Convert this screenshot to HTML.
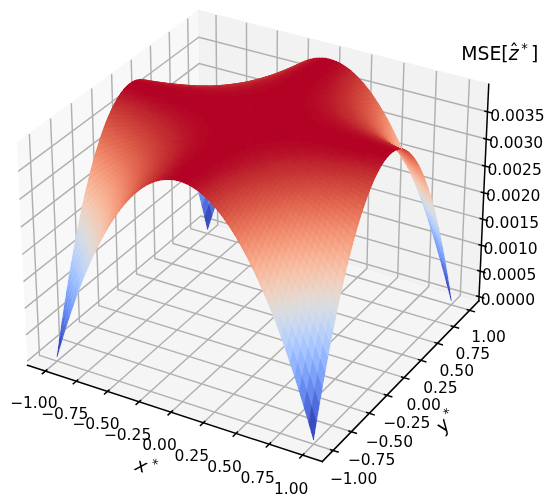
<!DOCTYPE html>
<html><head><meta charset="utf-8"><title>MSE surface</title>
<style>
html,body{margin:0;padding:0;background:#fff}
svg{display:block}
svg *{stroke-linejoin:round;stroke-linecap:butt}
svg text{font-family:"DejaVu Sans","Liberation Sans",sans-serif}
.aa{fill:currentColor;stroke:currentColor;stroke-width:6}
.cr{fill:currentColor;stroke:none;shape-rendering:crispEdges}
</style></head><body>
<svg width="550" height="501" viewBox="0 0 350.442478 319.221239">
<g id="figure_1">
<g id="patch_1">
<path d="M0 319.22L350.44 319.22L350.44 0L0 0z" style="fill: #ffffff"/>
</g>
<g id="patch_2">
<path d="M-7.71 315.21L326.61 315.21L326.61 -19.12L-7.71 -19.12z" style="fill: #ffffff"/>
</g>
<g id="pane3d_1">
<g id="patch_3">
<path d="M17.53 232.77L127.94 140.23L126.4 6.77L10.72 91.19" style="fill: #f2f2f2; opacity: 0.5; stroke: #f2f2f2; stroke-linejoin: miter"/>
</g>
</g>
<g id="pane3d_2">
<g id="patch_4">
<path d="M127.94 140.23L305.1 191.72L311.42 53.66L126.4 6.77" style="fill: #e6e6e6; opacity: 0.5; stroke: #e6e6e6; stroke-linejoin: miter"/>
</g>
</g>
<g id="pane3d_3">
<g id="patch_5">
<path d="M17.53 232.77L205.33 294.11L305.1 191.72L127.94 140.23" style="fill: #ececec; opacity: 0.5; stroke: #ececec; stroke-linejoin: miter"/>
</g>
</g>
<g id="grid3d_1">
<g id="Line3DCollection_1">
<path d="M28.91 236.49L138.71 143.36L137.63 9.61" style="fill: none; stroke: #b0b0b0; stroke-width: 0.92"/>
<path d="M48.58 242.91L157.33 148.78L157.05 14.54" style="fill: none; stroke: #b0b0b0; stroke-width: 0.92"/>
<path d="M68.48 249.41L176.15 154.24L176.68 19.51" style="fill: none; stroke: #b0b0b0; stroke-width: 0.92"/>
<path d="M88.6 255.98L195.16 159.77L196.52 24.54" style="fill: none; stroke: #b0b0b0; stroke-width: 0.92"/>
<path d="M108.96 262.63L214.38 165.36L216.58 29.62" style="fill: none; stroke: #b0b0b0; stroke-width: 0.92"/>
<path d="M129.55 269.36L233.8 171L236.86 34.77" style="fill: none; stroke: #b0b0b0; stroke-width: 0.92"/>
<path d="M150.38 276.16L253.42 176.7L257.37 39.96" style="fill: none; stroke: #b0b0b0; stroke-width: 0.92"/>
<path d="M171.45 283.04L273.25 182.47L278.11 45.22" style="fill: none; stroke: #b0b0b0; stroke-width: 0.92"/>
<path d="M192.78 290.01L293.3 188.3L299.08 50.54" style="fill: none; stroke: #b0b0b0; stroke-width: 0.92"/>
</g>
</g>
<g id="grid3d_2">
<g id="Line3DCollection_2">
<path d="M18.72 85.35L25.14 226.4L212.23 287.02" style="fill: none; stroke: #b0b0b0; stroke-width: 0.92"/>
<path d="M32.21 75.5L37.99 215.63L223.88 275.07" style="fill: none; stroke: #b0b0b0; stroke-width: 0.92"/>
<path d="M45.44 65.85L50.59 205.07L235.29 263.36" style="fill: none; stroke: #b0b0b0; stroke-width: 0.92"/>
<path d="M58.41 56.38L62.95 194.7L246.48 251.88" style="fill: none; stroke: #b0b0b0; stroke-width: 0.92"/>
<path d="M71.13 47.1L75.09 184.53L257.45 240.62" style="fill: none; stroke: #b0b0b0; stroke-width: 0.92"/>
<path d="M83.61 38L87 174.55L268.21 229.58" style="fill: none; stroke: #b0b0b0; stroke-width: 0.92"/>
<path d="M95.84 29.07L98.69 164.74L278.76 218.76" style="fill: none; stroke: #b0b0b0; stroke-width: 0.92"/>
<path d="M107.85 20.31L110.18 155.12L289.11 208.14" style="fill: none; stroke: #b0b0b0; stroke-width: 0.92"/>
<path d="M119.63 11.71L121.45 145.67L299.26 197.71" style="fill: none; stroke: #b0b0b0; stroke-width: 0.92"/>
</g>
</g>
<g id="grid3d_3">
<g id="Line3DCollection_3">
<path d="M305.22 189.08L127.91 137.67L17.4 230.07" style="fill: none; stroke: #b0b0b0; stroke-width: 0.92"/>
<path d="M305.96 172.78L127.73 121.88L16.6 213.37" style="fill: none; stroke: #b0b0b0; stroke-width: 0.92"/>
<path d="M306.72 156.3L127.54 105.93L15.79 196.49" style="fill: none; stroke: #b0b0b0; stroke-width: 0.92"/>
<path d="M307.48 139.65L127.36 89.82L14.96 179.43" style="fill: none; stroke: #b0b0b0; stroke-width: 0.92"/>
<path d="M308.25 122.82L127.17 73.55L14.13 162.17" style="fill: none; stroke: #b0b0b0; stroke-width: 0.92"/>
<path d="M309.03 105.81L126.98 57.11L13.29 144.72" style="fill: none; stroke: #b0b0b0; stroke-width: 0.92"/>
<path d="M309.82 88.61L126.79 40.5L12.44 127.07" style="fill: none; stroke: #b0b0b0; stroke-width: 0.92"/>
<path d="M310.62 71.23L126.6 23.71L11.58 109.23" style="fill: none; stroke: #b0b0b0; stroke-width: 0.92"/>
</g>
</g>
<g id="axis3d_1">
<g id="line2d_1">
<path d="M17.53 232.77L205.33 294.11" style="fill: none; stroke: #000000; stroke-width: 0.95; stroke-linecap: square"/>
</g>
<g id="xtick_1">
<g id="line2d_2">
<path d="M29.86 235.68L26.99 238.11" style="fill: none; stroke: #000000; stroke-width: 0.95; stroke-linecap: square"/>
</g>
<g id="text_1">
<text style="font-size: 9.9px; font-family: 'DejaVu Sans', sans-serif; text-anchor: middle" x="21.51" y="260.24">−1.00</text>
</g>
</g>
<g id="xtick_2">
<g id="line2d_3">
<path d="M49.53 242.09L46.68 244.56" style="fill: none; stroke: #000000; stroke-width: 0.95; stroke-linecap: square"/>
</g>
<g id="text_2">
<text style="font-size: 9.9px; font-family: 'DejaVu Sans', sans-serif; text-anchor: middle" x="41.2" y="266.77">−0.75</text>
</g>
</g>
<g id="xtick_3">
<g id="line2d_4">
<path d="M69.42 248.58L66.6 251.07" style="fill: none; stroke: #000000; stroke-width: 0.95; stroke-linecap: square"/>
</g>
<g id="text_3">
<text style="font-size: 9.9px; font-family: 'DejaVu Sans', sans-serif; text-anchor: middle" x="61.12" y="273.38">−0.50</text>
</g>
</g>
<g id="xtick_4">
<g id="line2d_5">
<path d="M89.53 255.15L86.74 257.67" style="fill: none; stroke: #000000; stroke-width: 0.95; stroke-linecap: square"/>
</g>
<g id="text_4">
<text style="font-size: 9.9px; font-family: 'DejaVu Sans', sans-serif; text-anchor: middle" x="81.26" y="280.06">−0.25</text>
</g>
</g>
<g id="xtick_5">
<g id="line2d_6">
<path d="M109.88 261.78L107.11 264.33" style="fill: none; stroke: #000000; stroke-width: 0.95; stroke-linecap: square"/>
</g>
<g id="text_5">
<text style="font-size: 9.9px; font-family: 'DejaVu Sans', sans-serif; text-anchor: middle" x="101.63" y="286.82">0.00</text>
</g>
</g>
<g id="xtick_6">
<g id="line2d_7">
<path d="M130.46 268.5L127.72 271.08" style="fill: none; stroke: #000000; stroke-width: 0.95; stroke-linecap: square"/>
</g>
<g id="text_6">
<text style="font-size: 9.9px; font-family: 'DejaVu Sans', sans-serif; text-anchor: middle" x="122.24" y="293.66">0.25</text>
</g>
</g>
<g id="xtick_7">
<g id="line2d_8">
<path d="M151.28 275.29L148.58 277.9" style="fill: none; stroke: #000000; stroke-width: 0.95; stroke-linecap: square"/>
</g>
<g id="text_7">
<text style="font-size: 9.9px; font-family: 'DejaVu Sans', sans-serif; text-anchor: middle" x="143.09" y="300.58">0.50</text>
</g>
</g>
<g id="xtick_8">
<g id="line2d_9">
<path d="M172.34 282.17L169.67 284.81" style="fill: none; stroke: #000000; stroke-width: 0.95; stroke-linecap: square"/>
</g>
<g id="text_8">
<text style="font-size: 9.9px; font-family: 'DejaVu Sans', sans-serif; text-anchor: middle" x="164.19" y="307.58">0.75</text>
</g>
</g>
<g id="xtick_9">
<g id="line2d_10">
<path d="M193.66 289.12L191.02 291.79" style="fill: none; stroke: #000000; stroke-width: 0.95; stroke-linecap: square"/>
</g>
<g id="text_9">
<text style="font-size: 9.9px; font-family: 'DejaVu Sans', sans-serif; text-anchor: middle" x="185.54" y="314.66">1.00</text>
</g>
</g>
<g id="text_10">
<g transform="translate(85.33 299.42) rotate(-341.912962)">
<text>
<tspan x="0" y="-0.17" style="font-style: oblique; font-size: 12px; font-family: 'DejaVu Sans', sans-serif">x</tspan>
<tspan x="9.27" y="-4.77" style="font-size: 8.4px; font-family: 'DejaVu Sans', sans-serif">*</tspan>
</text>
</g>
</g>
</g>
<g id="axis3d_2">
<g id="line2d_11">
<path d="M305.1 191.72L205.33 294.11" style="fill: none; stroke: #000000; stroke-width: 0.95; stroke-linecap: square"/>
</g>
<g id="xtick_10">
<g id="line2d_12">
<path d="M210.66 286.51L215.39 288.05" style="fill: none; stroke: #000000; stroke-width: 0.95; stroke-linecap: square"/>
</g>
<g id="text_11">
<text style="font-size: 9.9px; font-family: 'DejaVu Sans', sans-serif; text-anchor: middle" x="225.24" y="308.49">−1.00</text>
</g>
</g>
<g id="xtick_11">
<g id="line2d_13">
<path d="M222.31 274.57L227.01 276.08" style="fill: none; stroke: #000000; stroke-width: 0.95; stroke-linecap: square"/>
</g>
<g id="text_12">
<text style="font-size: 9.9px; font-family: 'DejaVu Sans', sans-serif; text-anchor: middle" x="236.76" y="296.4">−0.75</text>
</g>
</g>
<g id="xtick_12">
<g id="line2d_14">
<path d="M233.74 262.87L238.41 264.34" style="fill: none; stroke: #000000; stroke-width: 0.95; stroke-linecap: square"/>
</g>
<g id="text_13">
<text style="font-size: 9.9px; font-family: 'DejaVu Sans', sans-serif; text-anchor: middle" x="248.06" y="284.55">−0.50</text>
</g>
</g>
<g id="xtick_13">
<g id="line2d_15">
<path d="M244.94 251.4L249.57 252.84" style="fill: none; stroke: #000000; stroke-width: 0.95; stroke-linecap: square"/>
</g>
<g id="text_14">
<text style="font-size: 9.9px; font-family: 'DejaVu Sans', sans-serif; text-anchor: middle" x="259.12" y="272.94">−0.25</text>
</g>
</g>
<g id="xtick_14">
<g id="line2d_16">
<path d="M255.92 240.15L260.52 241.57" style="fill: none; stroke: #000000; stroke-width: 0.95; stroke-linecap: square"/>
</g>
<g id="text_15">
<text style="font-size: 9.9px; font-family: 'DejaVu Sans', sans-serif; text-anchor: middle" x="269.97" y="261.55">0.00</text>
</g>
</g>
<g id="xtick_15">
<g id="line2d_17">
<path d="M266.68 229.12L271.26 230.51" style="fill: none; stroke: #000000; stroke-width: 0.95; stroke-linecap: square"/>
</g>
<g id="text_16">
<text style="font-size: 9.9px; font-family: 'DejaVu Sans', sans-serif; text-anchor: middle" x="280.62" y="250.38">0.25</text>
</g>
</g>
<g id="xtick_16">
<g id="line2d_18">
<path d="M277.24 218.3L281.79 219.67" style="fill: none; stroke: #000000; stroke-width: 0.95; stroke-linecap: square"/>
</g>
<g id="text_17">
<text style="font-size: 9.9px; font-family: 'DejaVu Sans', sans-serif; text-anchor: middle" x="291.05" y="239.42">0.50</text>
</g>
</g>
<g id="xtick_17">
<g id="line2d_19">
<path d="M287.6 207.69L292.11 209.03" style="fill: none; stroke: #000000; stroke-width: 0.95; stroke-linecap: square"/>
</g>
<g id="text_18">
<text style="font-size: 9.9px; font-family: 'DejaVu Sans', sans-serif; text-anchor: middle" x="301.29" y="228.68">0.75</text>
</g>
</g>
<g id="xtick_18">
<g id="line2d_20">
<path d="M297.77 197.28L302.25 198.59" style="fill: none; stroke: #000000; stroke-width: 0.95; stroke-linecap: square"/>
</g>
<g id="text_19">
<text style="font-size: 9.9px; font-family: 'DejaVu Sans', sans-serif; text-anchor: middle" x="311.34" y="218.13">1.00</text>
</g>
</g>
<g id="text_20">
<g transform="translate(282.66 276.46) rotate(-45.742112)">
<text>
<tspan x="0" y="-0.17" style="font-style: oblique; font-size: 12px; font-family: 'DejaVu Sans', sans-serif">y</tspan>
<tspan x="9.27" y="-4.77" style="font-size: 8.4px; font-family: 'DejaVu Sans', sans-serif">*</tspan>
</text>
</g>
</g>
</g>
<g id="axis3d_3">
<g id="line2d_21">
<path d="M305.1 191.72L311.42 53.66" style="fill: none; stroke: #000000; stroke-width: 0.95; stroke-linecap: square"/>
</g>
<g id="xtick_19">
<g id="line2d_22">
<path d="M303.73 188.65L308.2 189.94" style="fill: none; stroke: #000000; stroke-width: 0.95; stroke-linecap: square"/>
</g>
<g id="text_21">
<text style="font-size: 9.9px; font-family: 'DejaVu Sans', sans-serif; text-anchor: middle" x="323.62" y="194.53">0.0000</text>
</g>
</g>
<g id="xtick_20">
<g id="line2d_23">
<path d="M304.47 172.35L308.96 173.63" style="fill: none; stroke: #000000; stroke-width: 0.95; stroke-linecap: square"/>
</g>
<g id="text_22">
<text style="font-size: 9.9px; font-family: 'DejaVu Sans', sans-serif; text-anchor: middle" x="324.46" y="178.25">0.0005</text>
</g>
</g>
<g id="xtick_21">
<g id="line2d_24">
<path d="M305.21 155.88L309.73 157.15" style="fill: none; stroke: #000000; stroke-width: 0.95; stroke-linecap: square"/>
</g>
<g id="text_23">
<text style="font-size: 9.9px; font-family: 'DejaVu Sans', sans-serif; text-anchor: middle" x="325.31" y="161.8">0.0010</text>
</g>
</g>
<g id="xtick_22">
<g id="line2d_25">
<path d="M305.97 139.23L310.51 140.49" style="fill: none; stroke: #000000; stroke-width: 0.95; stroke-linecap: square"/>
</g>
<g id="text_24">
<text style="font-size: 9.9px; font-family: 'DejaVu Sans', sans-serif; text-anchor: middle" x="326.17" y="145.17">0.0015</text>
</g>
</g>
<g id="xtick_23">
<g id="line2d_26">
<path d="M306.73 122.41L311.3 123.65" style="fill: none; stroke: #000000; stroke-width: 0.95; stroke-linecap: square"/>
</g>
<g id="text_25">
<text style="font-size: 9.9px; font-family: 'DejaVu Sans', sans-serif; text-anchor: middle" x="327.04" y="128.37">0.0020</text>
</g>
</g>
<g id="xtick_24">
<g id="line2d_27">
<path d="M307.5 105.4L312.1 106.63" style="fill: none; stroke: #000000; stroke-width: 0.95; stroke-linecap: square"/>
</g>
<g id="text_26">
<text style="font-size: 9.9px; font-family: 'DejaVu Sans', sans-serif; text-anchor: middle" x="327.92" y="111.39">0.0025</text>
</g>
</g>
<g id="xtick_25">
<g id="line2d_28">
<path d="M308.28 88.21L312.9 89.42" style="fill: none; stroke: #000000; stroke-width: 0.95; stroke-linecap: square"/>
</g>
<g id="text_27">
<text style="font-size: 9.9px; font-family: 'DejaVu Sans', sans-serif; text-anchor: middle" x="328.81" y="94.22">0.0030</text>
</g>
</g>
<g id="xtick_26">
<g id="line2d_29">
<path d="M309.07 70.83L313.71 72.03" style="fill: none; stroke: #000000; stroke-width: 0.95; stroke-linecap: square"/>
</g>
<g id="text_28">
<text style="font-size: 9.9px; font-family: 'DejaVu Sans', sans-serif; text-anchor: middle" x="329.7" y="76.87">0.0035</text>
</g>
</g>
</g>
<g id="axes_1">
<g transform="scale(0.05)"><g class="aa"><g id="sp"><path color="#516ddb" d="M2664 2611l54-147 36 133-54 158z"/><path color="#516ddb" d="M2574 2620l55-144 35 135-55 157z"/><path color="#688aef" d="M2629 2476l55-136 34 124-54 147z"/><path color="#688aef" d="M2539 2483l56-133 34 126-55 144z"/><path color="#80a3fa" d="M2506 2355l56-123 33 118-56 133z"/><path color="#516ddb" d="M5618 3291l54 184 24 147-53-196z"/><path color="#688aef" d="M5565 3118l53 173 25 135-52-185z"/><path color="#80a3fa" d="M5513 2955l52 163 26 123-51-175z"/><path color="#688aef" d="M5593 3165l55 173 24 137-54-184z"/><path color="#a9c6fd" d="M5412 2657l50 144 27 102-49-155z"/><path color="#94b6ff" d="M5487 2851l52 152 26 115-52-163z"/><path color="#c83836" d="M3776 828l38-17 34-18-38 20z"/><path color="#bbd1f8" d="M5364 2521l48 136 28 91-48-145z"/><path color="#ca3b37" d="M3704 862l39-18 33-16-38 21z"/><path color="#c43032" d="M3814 811l38-15 34-20-38 17z"/><path color="#a7c5fe" d="M5435 2707l52 144 26 104-51-154z"/><path color="#cc403a" d="M3633 894l39-19 32-13-38 21z"/><path color="#cad8ef" d="M5316 2392l48 129 28 82-48-137z"/><path color="#c73635" d="M3743 844l38-16 33-17-38 17z"/><path color="#94b6ff" d="M5514 2897l54 152 25 116-54-162z"/><path color="#c12b30" d="M3852 796l37-12 35-21-38 13z"/><path color="#c83836" d="M3672 875l38-16 33-15-39 18z"/><path color="#bad0f8" d="M5385 2572l50 135 27 94-50-144z"/><path color="#bd1f2d" d="M3889 784l38-9 34-23-37 11z"/><path color="#cb3e38" d="M3602 905l38-16 32-14-39 19z"/><path color="#a7c5fe" d="M5461 2754l53 143 25 106-52-152z"/><path color="#c53334" d="M3710 859l38-14 33-17-38 16z"/><path color="#c0282f" d="M3819 815l37-10 33-21-37 12z"/><path color="#cc403a" d="M3532 933l39-17 31-11-39 19z"/><path color="#c9d7f0" d="M5336 2444l49 128 27 85-48-136z"/><path color="#c73635" d="M3640 889l39-15 31-15-38 16z"/><path color="#c12b30" d="M3748 845l38-11 33-19-38 13z"/><path color="#bd1f2d" d="M3856 805l38-8 33-22-38 9z"/><path color="#ca3b37" d="M3571 916l39-14 30-13-38 16z"/><path color="#b9d0f9" d="M5409 2619l52 135 26 97-52-144z"/><path color="#d6dce4" d="M5287 2324l49 120 28 77-48-129z"/><path color="#c43032" d="M3679 874l38-11 31-18-38 14z"/><path color="#cb3e38" d="M3502 943l39-15 30-12-39 17z"/><path color="#a7c5fe" d="M5489 2798l55 142 24 109-54-152z"/><path color="#c53334" d="M3610 902l38-12 31-16-39 15z"/><path color="#cc403a" d="M3433 967l39-14 30-10-40 16z"/><path color="#c9d7f0" d="M5358 2493l51 126 26 88-50-135z"/><path color="#c73635" d="M3541 928l38-12 31-14-39 14z"/><path color="#cd423b" d="M3364 990l40-14 29-9-40 17z"/><path color="#c32e31" d="M3648 890l38-10 31-17-38 11z"/><path color="#f5c0a7" d="M5088 1854l44 95 30 44-44-102z"/><path color="#ca3b37" d="M3472 953l39-13 30-12-39 15z"/><path color="#b9d0f9" d="M5436 2664l53 134 25 99-53-143z"/><path color="#d6dce4" d="M5309 2374l49 119 27 79-49-128z"/><path color="#cb3e38" d="M3404 976l39-13 29-10-39 14z"/><path color="#c0282f" d="M3686 880l38-8 31-19-38 10z"/><path color="#c53334" d="M3511 940l39-10 29-14-38 12z"/><path color="#cc403a" d="M3336 997l40-13 28-8-40 14z"/><path color="#c12b30" d="M3618 905l38-8 30-17-38 10z"/><path color="#e1dad6" d="M5260 2261l49 113 27 70-49-120z"/><path color="#c9d7f0" d="M5383 2538l53 126 25 90-52-135z"/><path color="#c73635" d="M3443 963l39-10 29-13-39 13z"/><path color="#cc403a" d="M3268 1016l40-12 28-7-40 14z"/><path color="#f5a081" d="M4959 1600l42 79 32 26-42-85z"/><path color="#c32e31" d="M3550 930l38-9 30-16-39 11z"/><path color="#c83836" d="M3376 984l39-10 28-11-39 13z"/><path color="#ead4c8" d="M5212 2156l48 105 27 63-47-113z"/><path color="#d5dbe5" d="M5332 2420l51 118 26 81-51-126z"/><path color="#c43032" d="M3482 953l39-9 29-14-39 10z"/><path color="#f7b89c" d="M5058 1820l44 89 30 40-44-95z"/><path color="#ca3b37" d="M3308 1004l40-10 28-10-40 13z"/><path color="#c53334" d="M3415 974l39-9 28-12-39 10z"/><path color="#cb3e38" d="M3241 1022l40-10 27-8-40 12z"/><path color="#c12b30" d="M3521 944l39-8 28-15-38 9z"/><path color="#e0dbd8" d="M5282 2309l50 111 26 73-49-119z"/><path color="#c73635" d="M3348 994l39-9 28-11-39 10z"/><path color="#c9d7f0" d="M5411 2581l54 125 24 92-53-134z"/><path color="#cc403a" d="M3173 1038l41-10 27-6-41 11z"/><path color="#c83836" d="M3281 1012l40-9 27-9-40 10z"/><path color="#cc403a" d="M3106 1052l41-9 26-5-41 11z"/><path color="#ead5c9" d="M5233 2203l49 106 27 65-49-113z"/><path color="#c43032" d="M3387 985l39-7 28-13-39 9z"/><path color="#c83836" d="M3214 1028l40-8 27-8-40 10z"/><path color="#cc403a" d="M3038 1064l42-8 26-4-42 10z"/><path color="#d5dbe5" d="M5358 2463l53 118 25 83-53-126z"/><path color="#c0282f" d="M3493 958l38-6 29-16-39 8z"/><path color="#c53334" d="M3321 1003l39-7 27-11-39 9z"/><path color="#ca3b37" d="M3147 1043l40-8 27-7-41 10z"/><path color="#cd423b" d="M2970 1074l42-7 26-3-42 9z"/><path color="#f0cdbb" d="M5184 2104l49 99 27 58-48-105z"/><path color="#f7af91" d="M5028 1789l45 84 29 36-44-89z"/><path color="#c12b30" d="M3426 978l39-6 28-14-39 7z"/><path color="#c73635" d="M3254 1020l40-7 27-10-40 9z"/><path color="#ca3b37" d="M3080 1056l41-7 26-6-41 9z"/><path color="#e0dbd8" d="M5306 2353l52 110 25 75-51-118z"/><path color="#be242e" d="M3531 952l39-5 28-16-38 5z"/><path color="#c9d7f0" d="M5441 2620l56 124 23 95-55-133z"/><path color="#c73635" d="M3187 1035l41-6 26-9-40 8z"/><path color="#cb3e38" d="M3012 1067l42-7 26-4-42 8z"/><path color="#c0282f" d="M3465 972l39-5 27-15-38 6z"/><path color="#ead5c9" d="M5256 2248l50 105 26 67-50-111z"/><path color="#c83836" d="M3121 1049l41-6 25-8-40 8z"/><path color="#cb3e38" d="M2945 1076l42-6 25-3-42 7z"/><path color="#c43032" d="M3228 1029l40-6 26-10-40 7z"/><path color="#c83836" d="M3054 1060l41-5 26-6-41 7z"/><path color="#cb3e38" d="M2877 1083l42-5 26-2-43 6z"/><path color="#f7b194" d="M5045 1840l46 83 28 39-46-89z"/><path color="#f0cdbb" d="M5206 2150l50 98 26 61-49-106z"/><path color="#c83836" d="M2987 1070l42-4 25-6-42 7z"/><path color="#f7a688" d="M5000 1761l45 79 28 33-45-84z"/><path color="#c32e31" d="M3268 1023l39-4 26-11-39 5z"/><path color="#bb1b2c" d="M3542 964l38-2 28-17-38 2z"/><path color="#e0dbd8" d="M5333 2394l53 110 25 77-53-118z"/><path color="#c53334" d="M3095 1055l41-4 26-8-41 6z"/><path color="#c83836" d="M2919 1078l43-3 25-5-42 6z"/><path color="#c32e31" d="M3202 1038l40-4 26-11-40 6z"/><path color="#c53334" d="M3029 1066l41-4 25-7-41 5z"/><path color="#c83836" d="M2852 1085l43-3 24-4-42 5z"/><path color="#c0282f" d="M3307 1019l39-3 26-13-39 5z"/><path color="#e9d5cb" d="M5281 2290l52 104 25 69-52-110z"/><path color="#c43032" d="M3136 1051l40-4 26-9-40 5z"/><path color="#c73635" d="M2962 1075l42-3 25-6-42 4z"/><path color="#c83836" d="M2784 1090l43-2 25-3-44 4z"/><path color="#c12b30" d="M3242 1034l39-3 26-12-39 4z"/><path color="#ba162b" d="M3515 981l38-1 27-18-38 2z"/><path color="#c12b30" d="M1828 1016l60 10 24 5-60-9z"/><path color="#c43032" d="M3070 1062l41-3 25-8-41 4z"/><path color="#c73635" d="M2895 1082l42-2 25-5-43 3z"/><path color="#c83836" d="M2715 1093l44-1 25-2-45 3z"/><path color="#f0cdbb" d="M5230 2193l51 97 25 63-50-105z"/><path color="#be242e" d="M3346 1016l39-2 26-14-39 3z"/><path color="#c43032" d="M2051 1051l55 7 23 5-55-5z"/><path color="#c12b30" d="M3176 1047l40-2 26-11-40 4z"/><path color="#f7a889" d="M5017 1810l46 78 28 35-46-83z"/><path color="#c53334" d="M2259 1076l52 4 23 4-51-3z"/><path color="#c43032" d="M3004 1072l41-3 25-7-41 4z"/><path color="#c53334" d="M2827 1088l43-2 25-4-43 3z"/><path color="#c12b30" d="M1970 1039l57 9 24 3-57-6z"/><path color="#be242e" d="M3281 1031l39-1 26-14-39 3z"/><path color="#c43032" d="M2183 1068l53 5 23 3-52-3z"/><path color="#f59f80" d="M4972 1736l45 74 28 30-45-79z"/><path color="#f4c6af" d="M5180 2101l50 92 26 55-50-98z"/><path color="#c32e31" d="M3111 1059l40-2 25-10-40 4z"/><path color="#c0282f" d="M1888 1026l59 10 23 3-58-8z"/><path color="#c43032" d="M2937 1080l42-2 25-6-42 3z"/><path color="#c53334" d="M2384 1086l49 3 24 2-49-2z"/><path color="#c53334" d="M2759 1092l44-1 24-3-43 2z"/><path color="#c73635" d="M2576 1094l46 1 24-1-47 1z"/><path color="#c0282f" d="M3216 1045l40-2 25-12-39 3z"/><path color="#c32e31" d="M2106 1058l54 7 23 3-54-5z"/><path color="#bd1f2d" d="M1805 1013l60 11 23 2-60-10z"/><path color="#c32e31" d="M3045 1069l41-1 25-9-41 3z"/><path color="#c43032" d="M2311 1080l50 5 23 1-50-2z"/><path color="#c43032" d="M2870 1086l43 0 24-6-42 2z"/><path color="#c53334" d="M2505 1092l47 3 24-1-47 0z"/><path color="#c53334" d="M2691 1094l44 1 24-3-44 1z"/><path color="#f08b6e" d="M4883 1602l44 65 29 21-44-70z"/><path color="#c12b30" d="M2027 1048l56 8 23 2-55-7z"/><path color="#ead5c9" d="M5308 2329l54 103 24 72-53-110z"/><path color="#c0282f" d="M3151 1057l40-1 25-11-40 2z"/><path color="#c32e31" d="M2236 1073l51 6 24 1-52-4z"/><path color="#c43032" d="M2803 1091l43 0 24-5-43 2z"/><path color="#c43032" d="M2433 1089l48 4 24-1-48-1z"/><path color="#c43032" d="M2622 1095l45 2 24-3-45 0z"/><path color="#be242e" d="M1947 1036l57 10 23 2-57-9z"/><path color="#c12b30" d="M2160 1065l52 7 24 1-53-5z"/><path color="#bd1f2d" d="M1865 1024l59 12 23 0-59-10z"/><path color="#c32e31" d="M2361 1085l49 5 23-1-49-3z"/><path color="#c43032" d="M2735 1095l44 1 24-5-44 1z"/><path color="#c43032" d="M2552 1095l46 2 24-2-46-1z"/><path color="#f0cdbb" d="M5256 2233l52 96 25 65-52-104z"/><path color="#bb1b2c" d="M1781 1012l61 13 23-1-60-11z"/><path color="#c0282f" d="M2083 1056l54 9 23 0-54-7z"/><path color="#c12b30" d="M2287 1079l50 6 24 0-50-5z"/><path color="#c32e31" d="M2846 1091l43 1 24-6-43 0z"/><path color="#c32e31" d="M2667 1097l44 2 24-4-44-1z"/><path color="#c32e31" d="M2481 1093l47 4 24-2-47-3z"/><path color="#f5a081" d="M4990 1783l46 72 27 33-46-78z"/><path color="#be242e" d="M2004 1046l55 10 24 0-56-8z"/><path color="#f4c6af" d="M5204 2142l52 91 25 57-51-97z"/><path color="#c0282f" d="M2212 1072l52 8 23-1-51-6z"/><path color="#c32e31" d="M2779 1096l43 1 24-6-43 0z"/><path color="#c12b30" d="M2410 1090l48 4 23-1-48-4z"/><path color="#bb1b2c" d="M1924 1036l57 11 23-1-57-10z"/><path color="#be242e" d="M2137 1065l52 8 23-1-52-7z"/><path color="#f6bda2" d="M5154 2056l50 86 26 51-50-92z"/><path color="#c0282f" d="M2337 1085l49 6 24-1-49-5z"/><path color="#c12b30" d="M2711 1099l44 2 24-5-44-1z"/><path color="#bd1f2d" d="M2059 1056l54 10 24-1-54-9z"/><path color="#c0282f" d="M2996 1086l41 1 24-9-41 0z"/><path color="#c12b30" d="M2822 1097l43 3 24-8-43-1z"/><path color="#c0282f" d="M2264 1080l50 7 23-2-50-6z"/><path color="#f7b497" d="M5105 1975l49 81 26 45-49-87z"/><path color="#c12b30" d="M2643 1100l45 4 23-5-44-2z"/><path color="#c0282f" d="M2458 1094l47 6 23-3-47-4z"/><path color="#bb1b2c" d="M1981 1047l55 11 23-2-55-10z"/><path color="#be242e" d="M3102 1078l40 2 24-12-40 0z"/><path color="#be242e" d="M2189 1073l52 9 23-2-52-8z"/><path color="#c0282f" d="M2755 1101l44 3 23-7-43-1z"/><path color="#c0282f" d="M2575 1101l45 4 23-5-45-3z"/><path color="#b8122a" d="M1819 1029l59 14 23-5-59-13z"/><path color="#bd1f2d" d="M2113 1066l53 10 23-3-52-8z"/><path color="#c0282f" d="M2865 1100l42 2 24-8-42-2z"/><path color="#f5a081" d="M5009 1826l48 72 26 35-47-78z"/><path color="#be242e" d="M2314 1087l49 7 23-3-49-6z"/><path color="#c0282f" d="M2688 1104l44 4 23-7-44-2z"/><path color="#bb1b2c" d="M2036 1058l54 11 23-3-54-10z"/><path color="#f39778" d="M4963 1758l46 68 27 29-46-72z"/><path color="#f4c6af" d="M5231 2180l53 90 24 59-52-96z"/><path color="#be242e" d="M2799 1104l42 3 24-7-43-3z"/><path color="#bd1f2d" d="M2241 1082l50 8 23-3-50-7z"/><path color="#be242e" d="M2620 1105l45 5 23-6-45-4z"/><path color="#bb1b2c" d="M2166 1076l52 10 23-4-52-9z"/><path color="#f6bda2" d="M5179 2095l52 85 25 53-52-91z"/><path color="#b8122a" d="M1878 1043l57 13 23-6-57-12z"/><path color="#bd1f2d" d="M2363 1094l48 8 24-4-49-7z"/><path color="#be242e" d="M2551 1105l46 6 23-6-45-4z"/><path color="#ba162b" d="M2090 1069l53 11 23-4-53-10z"/><path color="#f7b497" d="M5129 2014l50 81 25 47-50-86z"/><path color="#be242e" d="M2665 1110l43 5 24-7-44-4z"/><path color="#bd1f2d" d="M2482 1104l46 7 23-6-46-5z"/><path color="#bd1f2d" d="M2948 1105l41 3 24-10-41-3z"/><path color="#bb1b2c" d="M2218 1086l50 9 23-5-50-8z"/><path color="#f7aa8c" d="M5079 1939l50 75 25 42-49-81z"/><path color="#bd1f2d" d="M2411 1102l48 8 23-6-47-6z"/><path color="#bd1f2d" d="M2708 1115l44 5 23-8-43-4z"/><path color="#bd1f2d" d="M2528 1111l46 6 23-6-46-6z"/><path color="#f4987a" d="M4983 1800l48 67 26 31-48-72z"/><path color="#bb1b2c" d="M2989 1108l41 4 23-11-40-3z"/><path color="#b8122a" d="M2068 1075l52 12 23-7-53-11z"/><path color="#f18f71" d="M4937 1736l46 64 26 26-46-68z"/><path color="#ba162b" d="M2268 1095l49 10 23-6-49-9z"/><path color="#bb1b2c" d="M2459 1110l46 7 23-6-46-7z"/><path color="#f4c5ad" d="M5260 2215l54 89 24 62-54-96z"/><path color="#b70d28" d="M1990 1069l55 13 23-7-55-12z"/><path color="#ee8669" d="M4891 1676l46 60 26 22-46-64z"/><path color="#bb1b2c" d="M2925 1115l41 5 23-12-41-3z"/><path color="#eb7d62" d="M4846 1619l45 57 26 18-45-61z"/><path color="#f6bda2" d="M5207 2131l53 84 24 55-53-90z"/><path color="#ba162b" d="M2317 1105l49 10 23-7-49-9z"/><path color="#bb1b2c" d="M2505 1117l46 8 23-8-46-6z"/><path color="#f7b497" d="M5155 2051l52 80 24 49-52-85z"/><path color="#b8122a" d="M2245 1102l50 10 22-7-49-10z"/><path color="#ba162b" d="M2436 1116l46 9 23-8-46-7z"/><path color="#f7aa8c" d="M5104 1977l51 74 24 44-50-81z"/><path color="#ebd3c6" d="M5405 2429l59 100 22 78-58-107z"/><path color="#b70d28" d="M2098 1095l51 12 23-9-52-11z"/><path color="#ba162b" d="M2662 1131l44 7 23-9-44-6z"/><path color="#f18f71" d="M4958 1776l47 63 26 28-48-67z"/><path color="#ba162b" d="M2482 1125l46 9 23-9-46-8z"/><path color="#ee8669" d="M4911 1717l47 59 25 24-46-64z"/><path color="#f4c5ad" d="M5291 2247l56 89 23 63-56-95z"/><path color="#b70d28" d="M2223 1110l49 11 23-9-50-10z"/><path color="#f7bca1" d="M5236 2164l55 83 23 57-54-89z"/><path color="#f7b396" d="M5183 2086l53 78 24 51-53-84z"/><path color="#f7aa8c" d="M5131 2012l52 74 24 45-52-80z"/><path color="#f6a283" d="M5079 1942l52 70 24 39-51-74z"/><path color="#f4987a" d="M5029 1876l50 66 25 35-50-71z"/><path color="#b70d28" d="M2320 1132l48 12 22-11-47-10z"/><path color="#f29072" d="M4980 1814l49 62 25 30-49-67z"/><path color="#ef886b" d="M4932 1755l48 59 25 25-47-63z"/><path color="#ec7f63" d="M4885 1699l47 56 26 21-47-59z"/><path color="#e26952" d="M4749 1549l45 48 25 10-44-50z"/><path color="#e8765c" d="M4839 1646l46 53 26 18-46-57z"/><path color="#e46e56" d="M4794 1597l45 49 26 14-46-53z"/><path color="#f7ba9f" d="M5268 2195l57 82 22 59-56-89z"/><path color="#f7a98b" d="M5159 2045l54 73 23 46-53-78z"/><path color="#f5a081" d="M5107 1976l52 69 24 41-52-74z"/><path color="#f4987a" d="M5055 1910l52 66 24 36-52-70z"/><path color="#f18f71" d="M5005 1849l50 61 24 32-50-66z"/><path color="#e26952" d="M4768 1588l46 46 25 12-45-49z"/><path color="#ef886b" d="M4956 1791l49 58 24 27-49-62z"/><path color="#e57058" d="M4814 1634l46 50 25 15-46-53z"/><path color="#ec7f63" d="M4908 1736l48 55 24 23-48-59z"/><path color="#e9785d" d="M4860 1684l48 52 24 19-47-56z"/><path color="#f7b194" d="M5245 2147l57 76 23 54-57-82z"/><path color="#dc5d4a" d="M4698 1539l45 41 25 8-44-44z"/><path color="#f5a081" d="M5136 2007l54 68 23 43-54-73z"/><path color="#e26952" d="M4789 1624l47 46 24 14-46-50z"/><path color="#f39778" d="M5083 1943l53 64 23 38-52-69z"/><path color="#e57058" d="M4836 1670l47 49 25 17-48-52z"/><path color="#f18f71" d="M5031 1882l52 61 24 33-52-66z"/><path color="#e9785d" d="M4883 1719l49 51 24 21-48-55z"/><path color="#ec7f63" d="M4932 1770l49 54 24 25-49-58z"/><path color="#d55042" d="M4629 1499l45 37 24 3-44-39z"/><path color="#f7af91" d="M5280 2174l59 75 22 56-59-82z"/><path color="#e26952" d="M4811 1659l48 45 24 15-47-49z"/><path color="#f7a688" d="M5223 2103l57 71 22 49-57-76z"/><path color="#e57058" d="M4859 1704l49 48 24 18-49-51z"/><path color="#f59f80" d="M5167 2036l56 67 22 44-55-72z"/><path color="#e8765c" d="M4908 1752l49 51 24 21-49-54z"/><path color="#ec7f63" d="M4957 1803l51 53 23 26-50-58z"/><path color="#f39577" d="M5113 1972l54 64 23 39-54-68z"/><path color="#ee8669" d="M5008 1856l52 57 23 30-52-61z"/><path color="#f18d6f" d="M5060 1913l53 59 23 35-53-64z"/><path color="#dc5d4a" d="M4741 1608l47 41 23 10-46-43z"/><path color="#df634e" d="M4788 1649l47 42 24 13-48-45z"/><path color="#e26952" d="M4835 1691l49 45 24 16-49-48z"/><path color="#e46e56" d="M4884 1736l50 47 23 20-49-51z"/><path color="#e8765c" d="M4934 1783l51 50 23 23-51-53z"/><path color="#ee8468" d="M5037 1886l53 55 23 31-53-59z"/><path color="#f59d7e" d="M5200 2062l58 66 22 46-57-71z"/><path color="#f18d6f" d="M5090 1941l54 59 23 36-54-64z"/><path color="#d24b40" d="M4625 1533l46 34 24 3-46-36z"/><path color="#d55042" d="M4671 1567l46 36 24 5-46-38z"/><path color="#dc5d4a" d="M4764 1641l48 39 23 11-47-42z"/><path color="#de614d" d="M4812 1680l49 42 23 14-49-45z"/><path color="#e26952" d="M4861 1722l50 44 23 17-50-47z"/><path color="#e46e56" d="M4911 1766l51 46 23 21-51-50z"/><path color="#ea7b60" d="M5014 1861l53 52 23 28-53-55z"/><path color="#ed8366" d="M5067 1913l55 55 22 32-54-59z"/><path color="#f08b6e" d="M5122 1968l56 57 22 37-56-62z"/><path color="#f29274" d="M5178 2025l58 62 22 41-58-66z"/><path color="#d85646" d="M4741 1634l48 37 23 9-48-39z"/><path color="#cb3e38" d="M4534 1507l44 28 24-1-45-31z"/><path color="#da5a49" d="M4789 1671l49 39 23 12-49-42z"/><path color="#de614d" d="M4838 1710l50 41 23 15-50-44z"/><path color="#94b6ff" d="M929 3907l48-135 35-168-49 124z"/><path color="#e16751" d="M4888 1751l51 43 23 18-51-46z"/><path color="#e36c55" d="M4939 1794l52 45 23 22-52-49z"/><path color="#d24b40" d="M4670 1596l47 33 24 5-48-35z"/><path color="#a7c5fe" d="M963 3728l49-124 34-158-49 114z"/><path color="#e97a5f" d="M5045 1887l55 51 22 30-55-55z"/><path color="#ec8165" d="M5100 1938l56 54 22 33-56-57z"/><path color="#c83836" d="M4510 1511l45 26 23-2-44-28z"/><path color="#d75445" d="M4766 1663l49 37 23 10-49-39z"/><path color="#e0654f" d="M4916 1778l53 42 22 19-52-45z"/><path color="#d1493f" d="M4695 1625l48 32 23 6-49-34z"/><path color="#e67259" d="M5023 1865l55 47 22 26-55-51z"/><path color="#c83836" d="M4532 1541l46 26 23-2-46-28z"/><path color="#d44e41" d="M4743 1657l49 34 23 9-49-37z"/><path color="#ca3b37" d="M4578 1567l47 27 22 0-46-29z"/><path color="#d75445" d="M4792 1691l50 36 23 11-50-38z"/><path color="#d95847" d="M4842 1727l52 37 22 14-51-40z"/><path color="#dd5f4b" d="M4894 1764l53 39 22 17-53-42z"/><path color="#c0282f" d="M4354 1486l44 21 22-8-43-22z"/><path color="#c53334" d="M4510 1545l45 24 23-2-46-26z"/><path color="#e46e56" d="M5056 1888l57 47 21 27-56-50z"/><path color="#d65244" d="M4820 1718l52 34 22 12-52-37z"/><path color="#d85646" d="M4872 1752l53 37 22 14-53-39z"/><path color="#cd423b" d="M4698 1650l50 29 22 5-50-31z"/><path color="#d0473d" d="M4748 1679l50 31 22 8-50-34z"/><path color="#e16751" d="M5034 1868l57 42 22 25-57-47z"/><path color="#d24b40" d="M4798 1710l52 33 22 9-52-34z"/><path color="#c83836" d="M4627 1622l49 27 22 1-48-28z"/><path color="#e36c55" d="M5091 1910l59 46 21 27-58-48z"/><path color="#b8122a" d="M4138 1482l42 15 22-13-42-15z"/><path color="#d55042" d="M4850 1743l53 33 22 13-53-37z"/><path color="#e67259" d="M5150 1956l60 47 21 32-60-52z"/><path color="#cb3e38" d="M4676 1649l50 27 22 3-50-29z"/><path color="#d75445" d="M4903 1776l54 36 22 15-54-38z"/><path color="#c43032" d="M4558 1600l47 24 22-2-47-25z"/><path color="#cc403a" d="M4726 1676l50 29 22 5-50-31z"/><path color="#ec7f63" d="M5272 2054l65 53 20 40-64-58z"/><path color="#d95847" d="M4957 1812l56 38 21 18-55-41z"/><path color="#cf453c" d="M4776 1705l52 30 22 8-52-33z"/><path color="#dd5f4b" d="M5013 1850l57 39 21 21-57-42z"/><path color="#c12b30" d="M4489 1584l47 21 22-5-47-22z"/><path color="#d1493f" d="M4828 1735l53 31 22 10-53-33z"/><path color="#c83836" d="M4654 1648l50 26 22 2-50-27z"/><path color="#df634e" d="M5070 1889l59 42 21 25-59-46z"/><path color="#c32e31" d="M4536 1605l47 22 22-3-47-24z"/><path color="#d44e41" d="M4881 1766l55 33 21 13-54-36z"/><path color="#ca3b37" d="M4704 1674l50 27 22 4-50-29z"/><path color="#c43032" d="M4583 1627l49 23 22-2-49-24z"/><path color="#d65244" d="M4936 1799l55 35 22 16-56-38z"/><path color="#cc403a" d="M4754 1701l52 28 22 6-52-30z"/><path color="#cd423b" d="M4806 1729l54 29 21 8-53-31z"/><path color="#da5a49" d="M5049 1871l59 38 21 22-59-42z"/><path color="#c73635" d="M4682 1674l51 25 21 2-50-27z"/><path color="#d0473d" d="M4860 1758l54 31 22 10-55-33z"/><path color="#c83836" d="M4733 1699l52 26 21 4-52-28z"/><path color="#d24b40" d="M4914 1789l56 32 21 13-55-35z"/><path color="#c32e31" d="M4611 1652l49 23 22-1-50-24z"/><path color="#cb3e38" d="M4785 1725l53 27 22 6-54-29z"/><path color="#d44e41" d="M4970 1821l58 34 21 16-58-37z"/><path color="#e36b54" d="M5231 1993l65 45 20 33-64-50z"/><path color="#c43032" d="M4660 1675l51 23 22 1-51-25z"/><path color="#d7dce3" d="M1119 3416l45-104 37-130-46 95z"/><path color="#cc403a" d="M4838 1752l55 28 21 9-54-31z"/><path color="#d65244" d="M5028 1855l59 36 21 18-59-38z"/><path color="#c53334" d="M4711 1698l53 24 21 3-52-26z"/><path color="#d95847" d="M5087 1891l61 37 21 22-61-41z"/><path color="#cf453c" d="M4893 1780l56 30 21 11-56-32z"/><path color="#c73635" d="M4764 1722l53 26 21 4-53-27z"/><path color="#dc5d4a" d="M5148 1928l63 40 20 25-62-43z"/><path color="#c12b30" d="M4639 1677l51 22 21-1-51-23z"/><path color="#d0473d" d="M4949 1810l58 32 21 13-58-34z"/><path color="#ca3b37" d="M4817 1748l55 26 21 6-55-28z"/><path color="#d24b40" d="M5007 1842l59 33 21 16-59-36z"/><path color="#c32e31" d="M4690 1699l52 23 22 0-53-24z"/><path color="#cb3e38" d="M4872 1774l56 28 21 8-56-30z"/><path color="#f4c5ad" d="M1271 2943l46-74 35-103-47 68z"/><path color="#d55042" d="M5066 1875l61 34 21 19-61-37z"/><path color="#ebd3c6" d="M1201 3182l45-89 36-115-45 81z"/><path color="#cc403a" d="M4928 1802l58 29 21 11-58-32z"/><path color="#c53334" d="M4796 1745l55 25 21 4-55-26z"/><path color="#cf453c" d="M4986 1831l59 30 21 14-59-33z"/><path color="#d95847" d="M5190 1946l65 38 20 25-64-41z"/><path color="#c73635" d="M4851 1770l56 26 21 6-56-28z"/><path color="#d0473d" d="M5045 1861l61 32 21 16-61-34z"/><path color="#ca3b37" d="M4907 1796l58 27 21 8-58-29z"/><path color="#be242e" d="M4648 1705l52 20 21-2-52-22z"/><path color="#d24b40" d="M5106 1893l64 34 20 19-63-37z"/><path color="#cb3e38" d="M4965 1823l60 28 20 10-59-30z"/><path color="#c43032" d="M4830 1768l56 24 21 4-56-26z"/><path color="#d55042" d="M5170 1927l65 35 20 22-65-38z"/><path color="#cc403a" d="M5025 1851l61 29 20 13-61-32z"/><path color="#c53334" d="M4886 1792l58 25 21 6-58-27z"/><path color="#f7a889" d="M1397 2703l45-58 34-86-45 53z"/><path color="#cf453c" d="M5086 1880l63 31 21 16-64-34z"/><path color="#c73635" d="M4944 1817l60 26 21 8-60-28z"/><path color="#c12b30" d="M4809 1768l56 22 21 2-56-24z"/><path color="#f7b194" d="M1363 2800l45-64 34-91-45 58z"/><path color="#d0473d" d="M5149 1911l66 33 20 18-65-35z"/><path color="#c83836" d="M5004 1843l61 27 21 10-61-29z"/><path color="#c32e31" d="M4865 1790l58 23 21 4-58-25z"/><path color="#ca3b37" d="M5065 1870l64 29 20 12-63-31z"/><path color="#c43032" d="M4923 1813l60 25 21 5-60-26z"/><path color="#c0282f" d="M4844 1790l59 22 20 1-58-23z"/><path color="#cc403a" d="M5129 1899l65 30 21 15-66-33z"/><path color="#c53334" d="M4983 1838l62 25 20 7-61-27z"/><path color="#bd1f2d" d="M4767 1773l57 19 20-2-56-21z"/><path color="#c12b30" d="M4903 1812l60 23 20 3-60-25z"/><path color="#c73635" d="M5045 1863l63 26 21 10-64-29z"/><path color="#bd1f2d" d="M4824 1792l58 21 21-1-59-22z"/><path color="#f5c0a7" d="M1298 3041l43-79 38-101-44 72z"/><path color="#c12b30" d="M4963 1835l61 23 21 5-62-25z"/><path color="#c83836" d="M5108 1889l66 28 20 12-65-30z"/><path color="#c32e31" d="M5024 1858l64 25 20 6-63-26z"/><path color="#be242e" d="M4942 1834l62 22 20 2-61-23z"/><path color="#f7ad90" d="M1379 2861l43-67 38-89-44 61z"/><path color="#c43032" d="M5088 1883l66 26 20 8-66-28z"/><path color="#f7b599" d="M1341 2962l43-73 38-95-43 67z"/><path color="#f29274" d="M1496 2621l43-52 35-75-43 47z"/><path color="#c0282f" d="M5004 1856l64 23 20 4-64-25z"/><path color="#bb1b2c" d="M4921 1836l62 21 21-1-62-22z"/><path color="#c12b30" d="M5068 1879l66 24 20 6-66-26z"/><path color="#b70d28" d="M4761 1812l59 17 21-7-59-19z"/><path color="#bd1f2d" d="M4983 1857l64 21 21 1-64-23z"/><path color="#b70d28" d="M4820 1829l60 18 21-7-60-18z"/><path color="#bd1f2d" d="M5047 1878l66 23 21 2-66-24z"/><path color="#bb1b2c" d="M5027 1880l66 22 20-1-66-23z"/><path color="#f18d6f" d="M1508 2675l41-53 38-74-42 48z"/><path color="#f39577" d="M1469 2758l42-58 38-78-41 53z"/><path color="#e36c55" d="M1665 2439l42-37 35-58-41 32z"/><path color="#e67259" d="M1629 2504l41-41 37-61-42 37z"/><path color="#ec7f63" d="M1552 2646l41-49 39-69-41 45z"/><path color="#d24b40" d="M1829 2311l40-24 36-46-40 22z"/><path color="#e36b54" d="M1634 2551l40-41 39-60-40 37z"/><path color="#dc5d4a" d="M1713 2450l41-34 38-53-40 30z"/><path color="#c73635" d="M1912 2315l39-18 39-40-39 15z"/><path color="#cc403a" d="M1833 2382l39-23 40-44-39 20z"/><path color="#c12b30" d="M1951 2323l38-13 40-38-39 11z"/></g></g><g class="cr"><use href="#sp"/><use href="#sf"/></g><g class="aa"><g id="sf"><path color="#3b4cc0" d="M2609 2768l55-157 36 144-55 170z"/><path color="#3b4cc0" d="M5672 3475l55 197 24 160-55-210z"/><path color="#516ddb" d="M5648 3338l56 184 23 150-55-197z"/><path color="#94b6ff" d="M5462 2801l51 154 27 111-51-163z"/><path color="#7ea1fa" d="M5539 3003l54 162 25 126-53-173z"/><path color="#688aef" d="M5624 3210l57 172 23 140-56-184z"/><path color="#7ea1fa" d="M5568 3049l56 161 24 128-55-173z"/><path color="#80a3fa" d="M5600 3091l58 161 23 130-57-172z"/><path color="#c32e31" d="M3781 828l38-13 33-19-38 15z"/><path color="#bb1b2c" d="M3927 775l37-7 34-24-37 8z"/><path color="#94b6ff" d="M5544 2940l56 151 24 119-56-161z"/><path color="#b8122a" d="M3964 768l38-3 34-26-38 5z"/><path color="#be242e" d="M3786 834l38-8 32-21-37 10z"/><path color="#b70d28" d="M4002 765l37-1 34-26-37 1z"/><path color="#ba162b" d="M3894 797l37-5 33-24-37 7z"/><path color="#c12b30" d="M3717 863l38-10 31-19-38 11z"/><path color="#b50927" d="M4039 764l37 1 34-27-37 0z"/><path color="#bb1b2c" d="M3824 826l37-7 33-22-38 8z"/><path color="#b8122a" d="M3931 792l37-3 34-24-38 3z"/><path color="#94b6ff" d="M5577 2980l58 150 23 122-58-161z"/><path color="#b40426" d="M4076 765l37 4 34-27-37-4z"/><path color="#be242e" d="M3755 853l37-7 32-20-38 8z"/><path color="#b70d28" d="M3968 789l37 0 34-25-37 1z"/><path color="#ba162b" d="M3861 819l38-4 32-23-37 5z"/><path color="#c43032" d="M3579 916l39-11 30-15-38 12z"/><path color="#b40426" d="M4113 769l37 7 34-27-37-7z"/><path color="#f7b599" d="M5044 1764l44 90 30 37-43-96z"/><path color="#b50927" d="M4005 789l38 2 33-26-37-1z"/><path color="#bb1b2c" d="M3792 846l38-5 31-22-37 7z"/><path color="#b8122a" d="M3899 815l37-2 32-24-37 3z"/><path color="#b40426" d="M4150 776l36 10 34-28-36-9z"/><path color="#a7c5fe" d="M5520 2839l57 141 23 111-56-151z"/><path color="#f7aa8c" d="M5001 1679l43 85 31 31-42-90z"/><path color="#b40426" d="M4043 791l37 5 33-27-37-4z"/><path color="#bd1f2d" d="M3724 872l38-6 30-20-37 7z"/><path color="#b40426" d="M4186 786l37 12 34-27-37-13z"/><path color="#b50927" d="M3936 813l37 1 32-25-37 0z"/><path color="#b8122a" d="M3830 841l37-3 32-23-38 4z"/><path color="#b40426" d="M4080 796l36 7 34-27-37-7z"/><path color="#b40426" d="M4223 798l37 15 34-27-37-15z"/><path color="#be242e" d="M3656 897l38-7 30-18-38 8z"/><path color="#b50927" d="M3973 814l37 3 33-26-38-2z"/><path color="#bb1b2c" d="M3762 866l37-4 31-21-38 5z"/><path color="#b70d28" d="M3867 838l38-1 31-24-37 2z"/><path color="#f39577" d="M4917 1525l42 75 32 20-42-80z"/><path color="#b9d0f9" d="M5465 2706l55 133 24 101-55-142z"/><path color="#b50927" d="M4260 813l37 17 34-26-37-18z"/><path color="#b40426" d="M4116 803l37 9 33-26-36-10z"/><path color="#c0282f" d="M3588 921l39-7 29-17-38 8z"/><path color="#b70d28" d="M4297 830l38 20 33-25-37-21z"/><path color="#f08a6c" d="M4876 1454l41 71 32 15-41-75z"/><path color="#b40426" d="M4010 817l37 5 33-26-37-5z"/><path color="#bd1f2d" d="M3694 890l38-4 30-20-38 6z"/><path color="#b50927" d="M3905 837l37 1 31-24-37-1z"/><path color="#b40426" d="M4153 812l37 12 33-26-37-12z"/><path color="#b8122a" d="M3799 862l38-2 30-22-37 3z"/><path color="#b8122a" d="M4335 850l37 23 33-24-37-24z"/><path color="#ec7f63" d="M4835 1388l41 66 32 11-41-70z"/><path color="#f7ad90" d="M5014 1736l44 84 30 34-44-90z"/><path color="#bb1b2c" d="M4372 873l37 26 34-23-38-27z"/><path color="#b40426" d="M4047 822l37 7 32-26-36-7z"/><path color="#e7745b" d="M4795 1326l40 62 32 7-40-66z"/><path color="#a9c6fd" d="M5554 2876l59 141 22 113-58-150z"/><path color="#b40426" d="M4190 824l37 15 33-26-37-15z"/><path color="#be242e" d="M3627 914l37-5 30-19-38 7z"/><path color="#bd1f2d" d="M4409 899l38 28 33-21-37-30z"/><path color="#b50927" d="M3942 838l37 3 31-24-37-3z"/><path color="#ba162b" d="M3732 886l37-3 30-21-37 4z"/><path color="#f6a385" d="M4971 1656l43 80 30 28-43-85z"/><path color="#e36b54" d="M4755 1268l40 58 32 3-40-62z"/><path color="#b70d28" d="M3837 860l37 0 31-23-38 1z"/><path color="#c32e31" d="M3454 965l39-7 28-14-39 9z"/><path color="#c12b30" d="M4447 927l37 32 34-20-38-33z"/><path color="#de614d" d="M4715 1214l40 54 32-1-39-58z"/><path color="#b50927" d="M4227 839l38 17 32-26-37-17z"/><path color="#c43032" d="M4484 959l38 34 33-18-37-36z"/><path color="#b40426" d="M4084 829l37 10 32-27-37-9z"/><path color="#d95847" d="M4676 1163l39 51 33-5-39-54z"/><path color="#c83836" d="M4522 993l38 38 33-16-38-40z"/><path color="#c0282f" d="M3560 936l38-5 29-17-39 7z"/><path color="#d55042" d="M4637 1116l39 47 33-8-39-50z"/><path color="#cc403a" d="M4560 1031l39 41 33-14-39-43z"/><path color="#d0473d" d="M4599 1072l38 44 33-11-38-47z"/><path color="#f4987a" d="M4928 1582l43 74 30 23-42-79z"/><path color="#b40426" d="M3979 841l37 6 31-25-37-5z"/><path color="#b70d28" d="M4265 856l37 19 33-25-38-20z"/><path color="#bb1b2c" d="M3664 909l38-4 30-19-38 4z"/><path color="#b50927" d="M3874 860l37 2 31-24-37-1z"/><path color="#b8122a" d="M3769 883l38-1 30-22-38 2z"/><path color="#b40426" d="M4121 839l37 11 32-26-37-12z"/><path color="#f18d6f" d="M4886 1511l42 71 31 18-42-75z"/><path color="#bad0f8" d="M5497 2744l57 132 23 104-57-141z"/><path color="#b8122a" d="M4302 875l37 22 33-24-37-23z"/><path color="#b40426" d="M4016 847l37 7 31-25-37-7z"/><path color="#bd1f2d" d="M3598 931l38-4 28-18-37 5z"/><path color="#ed8366" d="M4845 1445l41 66 31 14-41-71z"/><path color="#ba162b" d="M4339 897l37 25 33-23-37-26z"/><path color="#b40426" d="M4158 850l37 14 32-25-37-15z"/><path color="#ba162b" d="M3702 905l38-2 29-20-37 3z"/><path color="#b40426" d="M3911 862l37 4 31-25-37-3z"/><path color="#b70d28" d="M3807 882l37 0 30-22-37 0z"/><path color="#bd1f2d" d="M4376 922l38 27 33-22-38-28z"/><path color="#e9785d" d="M4804 1383l41 62 31 9-41-66z"/><path color="#b50927" d="M4195 864l38 17 32-25-38-17z"/><path color="#b40426" d="M4053 854l37 10 31-25-37-10z"/><path color="#c0282f" d="M4414 949l38 30 32-20-37-32z"/><path color="#e46e56" d="M4763 1325l41 58 31 5-40-62z"/><path color="#f6a586" d="M4984 1710l44 79 30 31-44-84z"/><path color="#c32e31" d="M4452 979l38 32 32-18-38-34z"/><path color="#bb1b2c" d="M3636 927l37-3 29-19-38 4z"/><path color="#e0654f" d="M4723 1270l40 55 32 1-40-58z"/><path color="#b40426" d="M3948 866l37 5 31-24-37-6z"/><path color="#c32e31" d="M3360 996l39-6 27-12-39 7z"/><path color="#c73635" d="M4490 1011l38 36 32-16-38-38z"/><path color="#b8122a" d="M3740 903l37 0 30-21-38 1z"/><path color="#b50927" d="M3844 882l37 3 30-23-37-2z"/><path color="#b50927" d="M4233 881l37 18 32-24-37-19z"/><path color="#dc5d4a" d="M4683 1219l40 51 32-2-40-54z"/><path color="#ca3b37" d="M4528 1047l38 38 33-13-39-41z"/><path color="#d75445" d="M4644 1171l39 48 32-5-39-51z"/><path color="#b40426" d="M4090 864l37 12 31-26-37-11z"/><path color="#cf453c" d="M4566 1085l39 42 32-11-38-44z"/><path color="#d24b40" d="M4605 1127l39 44 32-8-39-47z"/><path color="#f49a7b" d="M4941 1636l43 74 30 26-43-80z"/><path color="#b8122a" d="M4270 899l37 21 32-23-37-22z"/><path color="#c43032" d="M3294 1013l39-5 27-12-39 7z"/><path color="#bb1b2c" d="M3570 947l38-2 28-18-38 4z"/><path color="#b40426" d="M3985 871l37 8 31-25-37-7z"/><path color="#b40426" d="M4127 876l37 13 31-25-37-14z"/><path color="#b8122a" d="M3673 924l38-1 29-20-38 2z"/><path color="#f29072" d="M4898 1566l43 70 30 20-43-74z"/><path color="#b40426" d="M3881 885l37 4 30-23-37-4z"/><path color="#b70d28" d="M3777 903l38 1 29-22-37 0z"/><path color="#ba162b" d="M4307 920l38 24 31-22-37-25z"/><path color="#c0282f" d="M3399 990l39-4 27-14-39 6z"/><path color="#d5dbe5" d="M5386 2504l55 116 24 86-54-125z"/><path color="#ee8669" d="M4856 1500l42 66 30 16-42-71z"/><path color="#bb1b2c" d="M4345 944l37 26 32-21-38-27z"/><path color="#bd1f2d" d="M3504 967l38-3 28-17-39 5z"/><path color="#b40426" d="M4022 879l37 10 31-25-37-10z"/><path color="#b50927" d="M4164 889l37 16 32-24-38-17z"/><path color="#bbd1f8" d="M5531 2780l60 131 22 106-59-141z"/><path color="#ba162b" d="M3608 945l37-2 28-19-37 3z"/><path color="#be242e" d="M4382 970l38 28 32-19-38-30z"/><path color="#b40426" d="M3918 889l37 6 30-24-37-5z"/><path color="#ea7b60" d="M4814 1438l42 62 30 11-41-66z"/><path color="#c12b30" d="M3333 1008l39-5 27-13-39 6z"/><path color="#b70d28" d="M3711 923l38 1 28-21-37 0z"/><path color="#b50927" d="M3815 904l37 4 29-23-37-3z"/><path color="#c53334" d="M3162 1043l40-5 26-9-41 6z"/><path color="#c12b30" d="M4420 998l38 31 32-18-38-32z"/><path color="#b50927" d="M4201 905l38 18 31-24-37-18z"/><path color="#e67259" d="M4773 1380l41 58 31 7-41-62z"/><path color="#b40426" d="M4059 889l38 11 30-24-37-12z"/><path color="#be242e" d="M3438 986l38-3 28-16-39 5z"/><path color="#c53334" d="M4458 1029l38 34 32-16-38-36z"/><path color="#e26952" d="M4732 1325l41 55 31 3-41-58z"/><path color="#c83836" d="M4496 1063l39 36 31-14-38-38z"/><path color="#de614d" d="M4692 1273l40 52 31 0-40-55z"/><path color="#b40426" d="M3955 895l37 8 30-24-37-8z"/><path color="#b70d28" d="M4239 923l37 20 31-23-37-21z"/><path color="#cc403a" d="M4535 1099l39 39 31-11-39-42z"/><path color="#d95847" d="M4652 1225l40 48 31-3-40-51z"/><path color="#d0473d" d="M4574 1138l39 42 31-9-39-44z"/><path color="#d55042" d="M4613 1180l39 45 31-6-39-48z"/><path color="#b8122a" d="M3645 943l38 0 28-20-38 1z"/><path color="#b40426" d="M3852 908l37 4 29-23-37-4z"/><path color="#b50927" d="M3749 924l37 2 29-22-38-1z"/><path color="#b40426" d="M4097 900l37 14 30-25-37-13z"/><path color="#c0282f" d="M3372 1003l39-3 27-14-39 4z"/><path color="#f59d7e" d="M4956 1688l44 73 28 28-44-79z"/><path color="#b8122a" d="M4276 943l38 23 31-22-38-24z"/><path color="#c9d7f0" d="M5473 2657l58 123 23 96-57-132z"/><path color="#bd1f2d" d="M3476 983l39-2 27-17-38 3z"/><path color="#b40426" d="M3992 903l38 10 29-24-37-10z"/><path color="#f29274" d="M4912 1618l44 70 28 22-43-74z"/><path color="#b40426" d="M4134 914l37 15 30-24-37-16z"/><path color="#bb1b2c" d="M4314 966l37 24 31-20-37-26z"/><path color="#ba162b" d="M3580 962l38 0 27-19-37 2z"/><path color="#b40426" d="M3889 912l37 7 29-24-37-6z"/><path color="#b70d28" d="M3683 943l37 2 29-21-38-1z"/><path color="#b50927" d="M3786 926l37 4 29-22-37-4z"/><path color="#be242e" d="M4351 990l38 27 31-19-38-28z"/><path color="#ef886b" d="M4869 1552l43 66 29 18-43-70z"/><path color="#bd1f2d" d="M3411 1000l39-2 26-15-38 3z"/><path color="#b50927" d="M4171 929l37 17 31-23-38-18z"/><path color="#b40426" d="M4030 913l37 11 30-24-38-11z"/><path color="#c12b30" d="M4389 1017l38 30 31-18-38-31z"/><path color="#ec7f63" d="M4826 1490l43 62 29 14-42-66z"/><path color="#d6dce4" d="M5417 2541l56 116 24 87-56-124z"/><path color="#b40426" d="M3926 919l37 8 29-24-37-8z"/><path color="#c43032" d="M4427 1047l39 32 30-16-38-34z"/><path color="#b8122a" d="M3618 962l37 1 28-20-38 0z"/><path color="#e8765c" d="M4785 1432l41 58 30 10-42-62z"/><path color="#b40426" d="M3823 930l37 5 29-23-37-4z"/><path color="#b70d28" d="M4208 946l38 20 30-23-37-20z"/><path color="#b50927" d="M3720 945l38 2 28-21-37-2z"/><path color="#c73635" d="M4466 1079l38 34 31-14-39-36z"/><path color="#b40426" d="M4067 924l37 13 30-23-37-14z"/><path color="#e36c55" d="M4743 1377l42 55 29 6-41-58z"/><path color="#cb3e38" d="M4504 1113l39 37 31-12-39-39z"/><path color="#df634e" d="M4702 1326l41 51 30 3-41-55z"/><path color="#bb1b2c" d="M3450 998l38-1 27-16-39 2z"/><path color="#cf453c" d="M4543 1150l39 40 31-10-39-42z"/><path color="#da5a49" d="M4662 1277l40 49 30-1-40-52z"/><path color="#b8122a" d="M4246 966l37 21 31-21-38-23z"/><path color="#d24b40" d="M4582 1190l40 42 30-7-39-45z"/><path color="#d65244" d="M4622 1232l40 45 30-4-40-48z"/><path color="#b40426" d="M3963 927l37 9 30-23-38-10z"/><path color="#b8122a" d="M3553 980l38 0 27-18-38 0z"/><path color="#b40426" d="M4104 937l37 15 30-23-37-15z"/><path color="#b40426" d="M3860 935l38 7 28-23-37-7z"/><path color="#b70d28" d="M3655 963l38 2 27-20-37-2z"/><path color="#b50927" d="M3758 947l37 5 28-22-37-4z"/><path color="#bb1b2c" d="M4283 987l38 24 30-21-37-24z"/><path color="#e0dbd8" d="M5362 2432l55 109 24 79-55-116z"/><path color="#bd1f2d" d="M3385 1014l39-1 26-15-39 2z"/><path color="#b40426" d="M4000 936l38 12 29-24-37-11z"/><path color="#bd1f2d" d="M4321 1011l38 26 30-20-38-27z"/><path color="#b50927" d="M4141 952l38 17 29-23-37-17z"/><path color="#ba162b" d="M3488 997l38 0 27-17-38 1z"/><path color="#f39475" d="M4927 1667l45 69 28 25-44-73z"/><path color="#b40426" d="M3898 942l37 8 28-23-37-8z"/><path color="#b70d28" d="M3591 980l37 2 27-19-37-1z"/><path color="#c0282f" d="M4359 1037l38 27 30-17-38-30z"/><path color="#cad8ef" d="M5509 2690l60 123 22 98-60-131z"/><path color="#b50927" d="M3693 965l37 3 28-21-38-2z"/><path color="#b40426" d="M3795 952l37 5 28-22-37-5z"/><path color="#bd1f2d" d="M3320 1030l39-1 26-15-39 2z"/><path color="#b70d28" d="M4179 969l37 19 30-22-38-20z"/><path color="#b40426" d="M4038 948l37 13 29-24-37-13z"/><path color="#c32e31" d="M4397 1064l39 31 30-16-39-32z"/><path color="#bb1b2c" d="M3424 1013l38 1 26-17-38 1z"/><path color="#ec8165" d="M4840 1540l43 62 29 16-43-66z"/><path color="#c32e31" d="M2979 1078l41 0 25-9-41 3z"/><path color="#c53334" d="M4436 1095l38 32 30-14-38-34z"/><path color="#b40426" d="M3935 950l37 9 28-23-37-9z"/><path color="#b8122a" d="M3526 997l38 2 27-19-38 0z"/><path color="#b8122a" d="M4216 988l38 20 29-21-37-21z"/><path color="#e9785d" d="M4798 1482l42 58 29 12-43-62z"/><path color="#be242e" d="M3256 1043l39 0 25-13-39 1z"/><path color="#ca3b37" d="M4474 1127l39 35 30-12-39-37z"/><path color="#b70d28" d="M3628 982l38 3 27-20-38-2z"/><path color="#b40426" d="M3832 957l38 7 28-22-38-7z"/><path color="#b40426" d="M4075 961l37 14 29-23-37-15z"/><path color="#b50927" d="M3730 968l38 5 27-21-37-5z"/><path color="#e46e56" d="M4756 1428l42 54 28 8-41-58z"/><path color="#c12b30" d="M3086 1068l40 0 25-11-40 2z"/><path color="#cc403a" d="M4513 1162l40 38 29-10-39-40z"/><path color="#e16751" d="M4714 1376l42 52 29 4-42-55z"/><path color="#bb1b2c" d="M3359 1029l39 0 26-16-39 1z"/><path color="#d0473d" d="M4553 1200l39 40 30-8-40-42z"/><path color="#c32e31" d="M2913 1086l42 0 24-8-42 2z"/><path color="#dd5f4b" d="M4673 1328l41 48 29 1-41-51z"/><path color="#d44e41" d="M4592 1240l41 42 29-5-40-45z"/><path color="#ba162b" d="M4254 1008l37 23 30-20-38-24z"/><path color="#d85646" d="M4633 1282l40 46 29-2-40-49z"/><path color="#d6dce4" d="M5450 2575l59 115 22 90-58-123z"/><path color="#b40426" d="M3972 959l37 12 29-23-38-12z"/><path color="#be242e" d="M3191 1056l40 0 25-13-40 2z"/><path color="#ba162b" d="M3462 1014l38 1 26-18-38 0z"/><path color="#b50927" d="M4112 975l38 16 29-22-38-17z"/><path color="#c12b30" d="M3020 1078l41 0 25-10-41 1z"/><path color="#b70d28" d="M3564 999l38 2 26-19-37-2z"/><path color="#bd1f2d" d="M4291 1031l39 24 29-18-38-26z"/><path color="#b40426" d="M3870 964l37 8 28-22-37-8z"/><path color="#b50927" d="M3666 985l37 4 27-21-37-3z"/><path color="#b40426" d="M3768 973l37 6 27-22-37-5z"/><path color="#bd1f2d" d="M3295 1043l39 0 25-14-39 1z"/><path color="#be242e" d="M4330 1055l38 27 29-18-38-27z"/><path color="#be242e" d="M3126 1068l40 0 25-12-40 1z"/><path color="#b40426" d="M4009 971l37 12 29-22-37-13z"/><path color="#b70d28" d="M4150 991l37 18 29-21-37-19z"/><path color="#ba162b" d="M3398 1029l38 1 26-16-38-1z"/><path color="#c12b30" d="M2955 1086l41 0 24-8-41 0z"/><path color="#f39577" d="M4944 1714l46 69 27 27-45-74z"/><path color="#e1dad6" d="M5394 2467l56 108 23 82-56-116z"/><path color="#b8122a" d="M3500 1015l38 2 26-18-38-2z"/><path color="#c32e31" d="M2598 1097l45 3 24-3-45-2z"/><path color="#c12b30" d="M4368 1082l38 29 30-16-39-31z"/><path color="#b40426" d="M3907 972l37 10 28-23-37-9z"/><path color="#bd1f2d" d="M3231 1056l39 0 25-13-39 0z"/><path color="#b70d28" d="M3602 1001l37 4 27-20-38-3z"/><path color="#b40426" d="M3805 979l37 7 28-22-38-7z"/><path color="#b40426" d="M3703 989l38 5 27-21-38-5z"/><path color="#b8122a" d="M4187 1009l38 20 29-21-38-20z"/><path color="#c0282f" d="M3061 1078l41 0 24-10-40 0z"/><path color="#f18d6f" d="M4899 1649l45 65 28 22-45-69z"/><path color="#c43032" d="M4406 1111l39 30 29-14-38-32z"/><path color="#b40426" d="M4046 983l38 15 28-23-37-14z"/><path color="#bb1b2c" d="M3334 1043l38 1 26-15-39 0z"/><path color="#ba162b" d="M1842 1025l59 13 23-2-59-12z"/><path color="#c12b30" d="M2889 1092l42 2 24-8-42 0z"/><path color="#c12b30" d="M2528 1097l47 4 23-4-46-2z"/><path color="#c73635" d="M4445 1141l39 33 29-12-39-35z"/><path color="#ed8366" d="M4855 1588l44 61 28 18-44-65z"/><path color="#b8122a" d="M3436 1030l38 2 26-17-38-1z"/><path color="#bd1f2d" d="M3166 1068l40 1 25-13-40 0z"/><path color="#ba162b" d="M4225 1029l38 22 28-20-37-23z"/><path color="#b8122a" d="M1758 1015l61 14 23-4-61-13z"/><path color="#b40426" d="M3944 982l37 11 28-22-37-12z"/><path color="#cb3e38" d="M4484 1174l40 36 29-10-40-38z"/><path color="#e97a5f" d="M4812 1530l43 58 28 14-43-62z"/><path color="#b70d28" d="M3538 1017l38 3 26-19-38-2z"/><path color="#ead5c9" d="M5338 2366l56 101 23 74-55-109z"/><path color="#b50927" d="M4084 998l37 15 29-22-38-16z"/><path color="#cf453c" d="M4524 1210l39 37 29-7-39-40z"/><path color="#b40426" d="M3842 986l37 9 28-23-37-8z"/><path color="#e67259" d="M4769 1476l43 54 28 10-42-58z"/><path color="#b50927" d="M3639 1005l38 4 26-20-37-4z"/><path color="#bb1b2c" d="M3270 1056l39 2 25-15-39 0z"/><path color="#b40426" d="M3741 994l37 6 27-21-37-6z"/><path color="#d24b40" d="M4563 1247l41 41 29-6-41-42z"/><path color="#e26952" d="M4727 1424l42 52 29 6-42-54z"/><path color="#d65244" d="M4604 1288l40 42 29-2-40-46z"/><path color="#bb1b2c" d="M4263 1051l38 23 29-19-39-24z"/><path color="#de614d" d="M4686 1376l41 48 29 4-42-52z"/><path color="#d95847" d="M4644 1330l42 46 28 0-41-48z"/><path color="#ba162b" d="M3372 1044l39 2 25-16-38-1z"/><path color="#b40426" d="M3981 993l37 13 28-23-37-12z"/><path color="#c0282f" d="M2931 1094l41 1 24-9-41 0z"/><path color="#b50927" d="M4121 1013l38 18 28-22-37-18z"/><path color="#be242e" d="M4301 1074l38 25 29-17-38-27z"/><path color="#b70d28" d="M3474 1032l38 3 26-18-38-2z"/><path color="#ba162b" d="M1901 1038l57 12 23-3-57-11z"/><path color="#c0282f" d="M2386 1091l49 7 23-4-48-4z"/><path color="#bb1b2c" d="M3206 1069l39 1 25-14-39 0z"/><path color="#b40426" d="M3879 995l38 9 27-22-37-10z"/><path color="#b50927" d="M3576 1020l37 4 26-19-37-4z"/><path color="#f0cdbb" d="M5284 2270l54 96 24 66-54-103z"/><path color="#b40426" d="M3778 1000l37 8 27-22-37-7z"/><path color="#b40426" d="M3677 1009l37 6 27-21-38-5z"/><path color="#be242e" d="M3037 1087l40 2 25-11-41 0z"/><path color="#c0282f" d="M4339 1099l39 27 28-15-38-29z"/><path color="#ba162b" d="M3309 1058l38 2 25-16-38-1z"/><path color="#d7dce3" d="M5486 2607l61 114 22 92-60-123z"/><path color="#b70d28" d="M4159 1031l37 19 29-21-38-20z"/><path color="#b40426" d="M4018 1006l38 13 28-21-38-15z"/><path color="#c0282f" d="M2505 1100l46 5 24-4-47-4z"/><path color="#b70d28" d="M1735 1020l61 15 23-6-61-14z"/><path color="#b8122a" d="M3411 1046l38 3 25-17-38-2z"/><path color="#bd1f2d" d="M3142 1080l39 1 25-12-40-1z"/><path color="#c32e31" d="M4378 1126l38 30 29-15-39-30z"/><path color="#b40426" d="M3917 1004l37 11 27-22-37-11z"/><path color="#b70d28" d="M3512 1035l38 4 26-19-38-3z"/><path color="#be242e" d="M2972 1095l41 3 24-11-41-1z"/><path color="#b8122a" d="M4196 1050l38 20 29-19-38-22z"/><path color="#b40426" d="M3815 1008l37 8 27-21-37-9z"/><path color="#c53334" d="M4416 1156l40 31 28-13-39-33z"/><path color="#b50927" d="M3613 1024l38 5 26-20-38-4z"/><path color="#ba162b" d="M3245 1070l39 2 25-14-39-2z"/><path color="#b40426" d="M3714 1015l37 6 27-21-37-6z"/><path color="#b50927" d="M4056 1019l37 16 28-22-37-15z"/><path color="#be242e" d="M2435 1098l47 6 23-4-47-6z"/><path color="#f18d6f" d="M4917 1694l46 64 27 25-46-69z"/><path color="#b8122a" d="M1958 1050l55 13 23-5-55-11z"/><path color="#ca3b37" d="M4456 1187l39 33 29-10-40-36z"/><path color="#bd1f2d" d="M3077 1089l40 3 25-12-40-2z"/><path color="#b8122a" d="M3347 1060l39 3 25-17-39-2z"/><path color="#bb1b2c" d="M4234 1070l39 23 28-19-38-23z"/><path color="#e1dad6" d="M5428 2500l58 107 23 83-59-115z"/><path color="#ee8468" d="M4872 1633l45 61 27 20-45-65z"/><path color="#be242e" d="M2907 1102l41 3 24-10-41-1z"/><path color="#b40426" d="M3954 1015l37 12 27-21-37-13z"/><path color="#cc403a" d="M4495 1220l40 36 28-9-39-37z"/><path color="#b70d28" d="M3449 1049l38 4 25-18-38-3z"/><path color="#be242e" d="M2732 1108l43 4 24-8-44-3z"/><path color="#bb1b2c" d="M3181 1081l39 3 25-14-39-1z"/><path color="#b50927" d="M4093 1035l38 17 28-21-38-18z"/><path color="#ea7b60" d="M4828 1576l44 57 27 16-44-61z"/><path color="#d0473d" d="M4535 1256l40 38 29-6-41-41z"/><path color="#b40426" d="M3852 1016l38 10 27-22-38-9z"/><path color="#b50927" d="M3550 1039l37 4 26-19-37-4z"/><path color="#d44e41" d="M4575 1294l41 40 28-4-40-42z"/><path color="#e7745b" d="M4785 1522l43 54 27 12-43-58z"/><path color="#b40426" d="M3651 1029l37 6 26-20-37-6z"/><path color="#b40426" d="M3751 1021l38 8 26-21-37-8z"/><path color="#bd1f2d" d="M4273 1093l38 24 28-18-38-25z"/><path color="#bd1f2d" d="M3013 1098l40 3 24-12-40-2z"/><path color="#b70d28" d="M1796 1035l59 15 23-7-59-14z"/><path color="#d75445" d="M4616 1334l42 43 28-1-42-46z"/><path color="#e36b54" d="M4742 1471l43 51 27 8-43-54z"/><path color="#da5a49" d="M4658 1377l41 45 28 2-41-48z"/><path color="#df634e" d="M4699 1422l43 49 27 5-42-52z"/><path color="#ba162b" d="M3284 1072l39 3 24-15-38-2z"/><path color="#be242e" d="M2841 1107l42 4 24-9-42-2z"/><path color="#b50927" d="M1712 1028l61 16 23-9-61-15z"/><path color="#b40426" d="M3991 1027l38 14 27-22-38-13z"/><path color="#bb1b2c" d="M2291 1090l49 9 23-5-49-7z"/><path color="#b70d28" d="M4131 1052l38 18 27-20-37-19z"/><path color="#b8122a" d="M3386 1063l38 3 25-17-38-3z"/><path color="#bb1b2c" d="M3117 1092l40 3 24-14-39-1z"/><path color="#c0282f" d="M4311 1117l39 25 28-16-39-27z"/><path color="#ead4c8" d="M5370 2399l58 101 22 75-56-108z"/><path color="#b8122a" d="M2013 1063l55 12 22-6-54-11z"/><path color="#b70d28" d="M3487 1053l38 4 25-18-38-4z"/><path color="#b40426" d="M3890 1026l37 11 27-22-37-11z"/><path color="#ba162b" d="M3220 1084l39 3 25-15-39-2z"/><path color="#b50927" d="M3587 1043l38 6 26-20-38-5z"/><path color="#b40426" d="M3789 1029l37 9 26-22-37-8z"/><path color="#bd1f2d" d="M2775 1112l43 4 23-9-42-3z"/><path color="#b40426" d="M3688 1035l37 7 26-21-37-6z"/><path color="#c12b30" d="M4350 1142l38 28 28-14-38-30z"/><path color="#bd1f2d" d="M2597 1111l44 6 24-7-45-5z"/><path color="#b8122a" d="M4169 1070l38 20 27-20-38-20z"/><path color="#b70d28" d="M1935 1056l55 13 23-6-55-13z"/><path color="#b50927" d="M4029 1041l37 15 27-21-37-16z"/><path color="#bb1b2c" d="M3053 1101l40 3 24-12-40-3z"/><path color="#b8122a" d="M3323 1075l38 4 25-16-39-3z"/><path color="#c43032" d="M4388 1170l40 30 28-13-40-31z"/><path color="#bd1f2d" d="M2883 1111l42 4 23-10-41-3z"/><path color="#b50927" d="M1855 1050l57 14 23-8-57-13z"/><path color="#f0cdbb" d="M5314 2304l56 95 24 68-56-101z"/><path color="#ba162b" d="M2143 1080l52 11 23-5-52-10z"/><path color="#b70d28" d="M3424 1066l38 4 25-17-38-4z"/><path color="#b40426" d="M3927 1037l37 12 27-22-37-12z"/><path color="#ba162b" d="M3157 1095l39 3 24-14-39-3z"/><path color="#ba162b" d="M4207 1090l38 21 28-18-39-23z"/><path color="#bb1b2c" d="M2340 1099l49 9 22-6-48-8z"/><path color="#c73635" d="M4428 1200l39 31 28-11-39-33z"/><path color="#b50927" d="M3525 1057l37 5 25-19-37-4z"/><path color="#b40426" d="M3826 1038l37 9 27-21-38-10z"/><path color="#b50927" d="M1773 1044l59 15 23-9-59-15z"/><path color="#b50927" d="M4066 1056l38 16 27-20-38-17z"/><path color="#b40426" d="M3625 1049l37 6 26-20-37-6z"/><path color="#b40426" d="M3725 1042l38 8 26-21-38-8z"/><path color="#b8122a" d="M3259 1087l39 4 25-16-39-3z"/><path color="#b40426" d="M1689 1040l61 16 23-12-61-16z"/><path color="#cb3e38" d="M4467 1231l40 34 28-9-40-36z"/><path color="#bd1f2d" d="M2818 1116l42 5 23-10-42-4z"/><path color="#bb1b2c" d="M4245 1111l38 23 28-17-38-24z"/><path color="#bd1f2d" d="M2641 1117l44 6 23-8-43-5z"/><path color="#b70d28" d="M3361 1079l38 4 25-17-38-3z"/><path color="#cd423b" d="M4507 1265l41 36 27-7-40-38z"/><path color="#b40426" d="M3964 1049l38 13 27-21-38-14z"/><path color="#ba162b" d="M3093 1104l40 4 24-13-40-3z"/><path color="#b70d28" d="M4104 1072l38 18 27-20-38-18z"/><path color="#b50927" d="M3462 1070l38 5 25-18-38-4z"/><path color="#d1493f" d="M4548 1301l41 37 27-4-41-40z"/><path color="#b40426" d="M3863 1047l38 11 26-21-37-11z"/><path color="#3b4cc0" d="M727 4547l52-176 32-215-52 163z"/><path color="#b8122a" d="M3196 1098l39 4 24-15-39-3z"/><path color="#b50927" d="M3562 1062l38 6 25-19-38-6z"/><path color="#d55042" d="M4589 1338l41 41 28-2-42-43z"/><path color="#be242e" d="M4283 1134l39 24 28-16-39-25z"/><path color="#bb1b2c" d="M2752 1120l42 5 24-9-43-4z"/><path color="#b40426" d="M3763 1050l37 9 26-21-37-9z"/><path color="#b8122a" d="M2195 1091l50 11 23-7-50-9z"/><path color="#b40426" d="M3662 1055l38 7 25-20-37-7z"/><path color="#b50927" d="M1912 1064l56 14 22-9-55-13z"/><path color="#d85646" d="M4630 1379l42 42 27 1-41-45z"/><path color="#e7745b" d="M4801 1565l45 54 26 14-44-57z"/><path color="#bb1b2c" d="M2574 1117l44 7 23-7-44-6z"/><path color="#ba162b" d="M2389 1108l47 8 23-6-48-8z"/><path color="#dd5f4b" d="M4672 1421l42 46 28 4-43-49z"/><path color="#e36c55" d="M4758 1515l43 50 27 11-43-54z"/><path color="#e0654f" d="M4714 1467l44 48 27 7-43-51z"/><path color="#ba162b" d="M3030 1112l40 5 23-13-40-3z"/><path color="#b8122a" d="M3298 1091l39 4 24-16-38-4z"/><path color="#b40426" d="M4002 1062l37 15 27-21-37-15z"/><path color="#b8122a" d="M4142 1090l38 19 27-19-38-20z"/><path color="#b50927" d="M1832 1059l57 15 23-10-57-14z"/><path color="#c0282f" d="M4322 1158l39 27 27-15-38-28z"/><path color="#e3d9d3" d="M5464 2529l61 106 22 86-61-114z"/><path color="#bb1b2c" d="M2860 1121l41 5 24-11-42-4z"/><path color="#b8122a" d="M2120 1087l52 11 23-7-52-11z"/><path color="#b70d28" d="M3399 1083l38 5 25-18-38-4z"/><path color="#ba162b" d="M3133 1108l39 4 24-14-39-3z"/><path color="#bb1b2c" d="M2685 1123l44 6 23-9-44-5z"/><path color="#b40426" d="M1750 1056l59 15 23-12-59-15z"/><path color="#b40426" d="M3901 1058l37 12 26-21-37-12z"/><path color="#b50927" d="M3500 1075l37 6 25-19-37-5z"/><path color="#b40426" d="M1667 1054l60 16 23-14-61-16z"/><path color="#c32e31" d="M4361 1185l39 28 28-13-40-30z"/><path color="#b40426" d="M3800 1059l37 9 26-21-37-9z"/><path color="#b40426" d="M3600 1068l37 7 25-20-37-6z"/><path color="#ba162b" d="M2966 1120l40 4 24-12-41-4z"/><path color="#b40426" d="M3700 1062l37 8 26-20-38-8z"/><path color="#ba162b" d="M4180 1109l38 20 27-18-38-21z"/><path color="#b70d28" d="M2045 1082l53 13 22-8-52-12z"/><path color="#b8122a" d="M3235 1102l39 4 24-15-39-4z"/><path color="#b50927" d="M4039 1077l38 15 27-20-38-16z"/><path color="#bb1b2c" d="M2794 1125l42 6 24-10-42-5z"/><path color="#c53334" d="M4400 1213l40 29 27-11-39-31z"/><path color="#bb1b2c" d="M2618 1124l44 7 23-8-44-6z"/><path color="#b70d28" d="M3337 1095l38 5 24-17-38-4z"/><path color="#ba162b" d="M3070 1117l39 4 24-13-40-4z"/><path color="#b50927" d="M1968 1078l54 13 23-9-55-13z"/><path color="#b40426" d="M3938 1070l37 13 27-21-38-13z"/><path color="#bb1b2c" d="M4218 1129l38 22 27-17-38-23z"/><path color="#b50927" d="M3437 1088l38 6 25-19-38-5z"/><path color="#ba162b" d="M2901 1126l41 5 24-11-41-5z"/><path color="#c83836" d="M4440 1242l40 32 27-9-40-34z"/><path color="#b70d28" d="M4077 1092l38 17 27-19-38-18z"/><path color="#b8122a" d="M3172 1112l39 5 24-15-39-4z"/><path color="#b40426" d="M3837 1068l38 11 26-21-38-11z"/><path color="#b40426" d="M3537 1081l38 6 25-19-38-6z"/><path color="#b50927" d="M1889 1074l56 15 23-11-56-14z"/><path color="#b70d28" d="M2172 1098l51 12 22-8-50-11z"/><path color="#ba162b" d="M2729 1129l42 6 23-10-42-5z"/><path color="#b40426" d="M3637 1075l37 7 26-20-38-7z"/><path color="#b40426" d="M3737 1070l37 9 26-20-37-9z"/><path color="#ba162b" d="M2551 1125l44 8 23-9-44-7z"/><path color="#b8122a" d="M2366 1115l47 9 23-8-47-8z"/><path color="#cc403a" d="M4480 1274l41 34 27-7-41-36z"/><path color="#ba162b" d="M3006 1124l40 6 24-13-40-5z"/><path color="#b70d28" d="M3274 1106l38 5 25-16-39-4z"/><path color="#b40426" d="M1809 1071l57 16 23-13-57-15z"/><path color="#bd1f2d" d="M4256 1151l39 23 27-16-39-24z"/><path color="#b40426" d="M3975 1083l38 14 26-20-37-15z"/><path color="#cf453c" d="M4521 1308l41 36 27-6-41-37z"/><path color="#b40426" d="M1727 1070l59 16 23-15-59-15z"/><path color="#f1cdba" d="M5347 2336l58 93 23 71-58-101z"/><path color="#ba162b" d="M2836 1131l42 6 23-11-41-5z"/><path color="#b50927" d="M3375 1100l38 6 24-18-38-5z"/><path color="#b40426" d="M1644 1070l60 17 23-17-60-16z"/><path color="#b70d28" d="M4115 1109l38 18 27-18-38-19z"/><path color="#b8122a" d="M3109 1121l40 5 23-14-39-4z"/><path color="#516ddb" d="M759 4319l52-163 32-202-54 149z"/><path color="#b8122a" d="M2295 1112l48 11 23-8-49-10z"/><path color="#d24b40" d="M4562 1344l41 37 27-2-41-41z"/><path color="#b50927" d="M3475 1094l38 6 24-19-37-6z"/><path color="#b40426" d="M3875 1079l37 12 26-21-37-12z"/><path color="#c0282f" d="M4295 1174l39 25 27-14-39-27z"/><path color="#b40426" d="M3575 1087l37 7 25-19-37-7z"/><path color="#d65244" d="M4603 1381l42 41 27-1-42-42z"/><path color="#ba162b" d="M2942 1131l41 6 23-13-40-4z"/><path color="#b50927" d="M2022 1091l53 14 23-10-53-13z"/><path color="#b40426" d="M3774 1079l38 10 25-21-37-9z"/><path color="#b40426" d="M3674 1082l38 9 25-21-37-8z"/><path color="#b70d28" d="M3211 1117l39 5 24-16-39-4z"/><path color="#d95847" d="M4645 1422l43 42 26 3-42-46z"/><path color="#ec7f63" d="M4865 1660l46 57 26 19-46-60z"/><path color="#ba162b" d="M2771 1135l42 7 23-11-42-6z"/><path color="#b50927" d="M4013 1097l38 15 26-20-38-15z"/><path color="#dd5f4b" d="M4688 1464l43 45 27 6-44-48z"/><path color="#e8765c" d="M4819 1607l46 53 26 16-45-57z"/><path color="#b8122a" d="M4153 1127l38 20 27-18-38-20z"/><path color="#e16751" d="M4731 1509l44 48 26 8-43-50z"/><path color="#e46e56" d="M4775 1557l44 50 27 12-45-54z"/><path color="#b70d28" d="M3312 1111l39 6 24-17-38-5z"/><path color="#ba162b" d="M2595 1133l44 8 23-10-44-7z"/><path color="#b40426" d="M1945 1089l54 14 23-12-54-13z"/><path color="#c12b30" d="M4334 1199l40 27 26-13-39-28z"/><path color="#b8122a" d="M3046 1130l40 5 23-14-39-4z"/><path color="#b8122a" d="M2413 1124l46 10 23-9-46-9z"/><path color="#b50927" d="M3413 1106l38 6 24-18-38-6z"/><path color="#b40426" d="M3912 1091l38 13 25-21-37-13z"/><path color="#ba162b" d="M2878 1137l41 6 23-12-41-5z"/><path color="#b40426" d="M1866 1087l56 14 23-12-56-15z"/><path color="#b8122a" d="M3149 1126l39 6 23-15-39-5z"/><path color="#b40426" d="M3513 1100l37 6 25-19-38-6z"/><path color="#b50927" d="M2149 1107l51 12 23-9-51-12z"/><path color="#c43032" d="M4374 1226l39 28 27-12-40-29z"/><path color="#b40426" d="M3812 1089l37 11 26-21-38-11z"/><path color="#ba162b" d="M2706 1138l42 8 23-11-42-6z"/><path color="#ba162b" d="M4191 1147l39 21 26-17-38-22z"/><path color="#b40426" d="M3612 1094l38 8 24-20-37-7z"/><path color="#b40426" d="M1786 1086l58 15 22-14-57-16z"/><path color="#b40426" d="M3712 1091l37 9 25-21-37-9z"/><path color="#b70d28" d="M4051 1112l38 17 26-20-38-17z"/><path color="#b8122a" d="M2528 1134l45 8 22-9-44-8z"/><path color="#b70d28" d="M2343 1123l47 10 23-9-47-9z"/><path color="#b40426" d="M1704 1087l60 16 22-17-59-16z"/><path color="#b8122a" d="M2983 1137l40 6 23-13-40-6z"/><path color="#b70d28" d="M3250 1122l39 6 23-17-38-5z"/><path color="#b40426" d="M1621 1090l61 16 22-19-60-17z"/><path color="#c73635" d="M4413 1254l41 30 26-10-40-32z"/><path color="#b50927" d="M2075 1105l52 13 22-11-51-12z"/><path color="#b8122a" d="M2813 1142l42 7 23-12-42-6z"/><path color="#b50927" d="M3351 1117l38 6 24-17-38-6z"/><path color="#b40426" d="M3950 1104l37 13 26-20-38-14z"/><path color="#b8122a" d="M3086 1135l39 6 24-15-40-5z"/><path color="#bd1f2d" d="M4230 1168l39 22 26-16-39-23z"/><path color="#b8122a" d="M2639 1141l44 8 23-11-44-7z"/><path color="#b70d28" d="M2272 1121l48 11 23-9-48-11z"/><path color="#b50927" d="M3451 1112l37 6 25-18-38-6z"/><path color="#b8122a" d="M2459 1134l46 9 23-9-46-9z"/><path color="#ca3b37" d="M4454 1284l40 32 27-8-41-34z"/><path color="#b70d28" d="M4089 1129l38 17 26-19-38-18z"/><path color="#b40426" d="M1999 1103l53 13 23-11-53-14z"/><path color="#b40426" d="M3849 1100l38 11 25-20-37-12z"/><path color="#b40426" d="M3550 1106l38 8 24-20-37-7z"/><path color="#b8122a" d="M2919 1143l41 7 23-13-41-6z"/><path color="#b70d28" d="M3188 1132l39 6 23-16-39-5z"/><path color="#b40426" d="M3749 1100l38 9 25-20-38-10z"/><path color="#b40426" d="M3650 1102l37 9 25-20-38-9z"/><path color="#cc403a" d="M4494 1316l41 33 27-5-41-36z"/><path color="#b8122a" d="M2748 1146l43 7 22-11-42-7z"/><path color="#b40426" d="M1922 1101l55 15 22-13-54-14z"/><path color="#688aef" d="M789 4103l54-149 31-191-54 138z"/><path color="#b50927" d="M2200 1119l49 12 23-10-49-11z"/><path color="#be242e" d="M4269 1190l39 24 26-15-39-25z"/><path color="#b50927" d="M3289 1128l38 6 24-17-39-6z"/><path color="#b8122a" d="M2573 1142l44 9 22-10-44-8z"/><path color="#b8122a" d="M3023 1143l40 6 23-14-40-5z"/><path color="#b50927" d="M3987 1117l38 15 26-20-38-15z"/><path color="#b70d28" d="M2390 1133l47 11 22-10-46-10z"/><path color="#b40426" d="M1844 1101l55 15 23-15-56-14z"/><path color="#d0473d" d="M4535 1349l42 36 26-4-41-37z"/><path color="#b8122a" d="M4127 1146l38 19 26-18-38-20z"/><path color="#b50927" d="M3389 1123l38 6 24-17-38-6z"/><path color="#b8122a" d="M2855 1149l41 7 23-13-41-6z"/><path color="#ecd3c5" d="M5442 2457l62 99 21 79-61-106z"/><path color="#b40426" d="M1764 1103l57 15 23-17-58-15z"/><path color="#b40426" d="M3887 1111l37 13 26-20-38-13z"/><path color="#b40426" d="M1598 1113l61 16 23-23-61-16z"/><path color="#b70d28" d="M3125 1141l39 6 24-15-39-6z"/><path color="#b50927" d="M2127 1118l50 13 23-12-51-12z"/><path color="#b40426" d="M1682 1106l59 16 23-19-60-16z"/><path color="#b40426" d="M3488 1118l38 7 24-19-37-6z"/><path color="#d44e41" d="M4577 1385l42 38 26-1-42-41z"/><path color="#c0282f" d="M4308 1214l39 25 27-13-40-27z"/><path color="#b8122a" d="M2683 1149l43 8 22-11-42-8z"/><path color="#b40426" d="M3787 1109l37 11 25-20-37-11z"/><path color="#b40426" d="M3588 1114l37 8 25-20-38-8z"/><path color="#b40426" d="M3687 1111l37 9 25-20-37-9z"/><path color="#b70d28" d="M2505 1143l45 10 23-11-45-8z"/><path color="#d75445" d="M4619 1423l43 40 26 1-43-42z"/><path color="#b70d28" d="M3227 1138l38 6 24-16-39-6z"/><path color="#b8122a" d="M2960 1150l40 6 23-13-40-6z"/><path color="#b50927" d="M4025 1132l38 16 26-19-38-17z"/><path color="#b40426" d="M2052 1116l52 14 23-12-52-13z"/><path color="#ba162b" d="M4165 1165l39 20 26-17-39-21z"/><path color="#da5a49" d="M4662 1463l43 42 26 4-43-45z"/><path color="#c32e31" d="M4347 1239l40 27 26-12-39-28z"/><path color="#b8122a" d="M2791 1153l41 8 23-12-42-7z"/><path color="#b50927" d="M3327 1134l38 6 24-17-38-6z"/><path color="#de614d" d="M4705 1505l44 44 26 8-44-48z"/><path color="#b70d28" d="M3063 1149l39 6 23-14-39-6z"/><path color="#f2cbb7" d="M5383 2365l59 92 22 72-59-100z"/><path color="#b50927" d="M2249 1131l49 12 22-11-48-11z"/><path color="#b8122a" d="M2617 1151l43 9 23-11-44-8z"/><path color="#b40426" d="M3924 1124l38 13 25-20-37-13z"/><path color="#b40426" d="M1977 1116l53 14 22-14-53-13z"/><path color="#b70d28" d="M2437 1144l45 10 23-11-46-9z"/><path color="#b40426" d="M3427 1129l37 7 24-18-37-6z"/><path color="#b8122a" d="M2896 1156l41 7 23-13-41-7z"/><path color="#b40426" d="M3526 1125l37 8 25-19-38-8z"/><path color="#b40426" d="M3824 1120l37 11 26-20-38-11z"/><path color="#c53334" d="M4387 1266l40 28 27-10-41-30z"/><path color="#b70d28" d="M3164 1147l39 6 24-15-39-6z"/><path color="#bb1b2c" d="M4204 1185l39 21 26-16-39-22z"/><path color="#b40426" d="M3625 1122l37 8 25-19-37-9z"/><path color="#b40426" d="M1899 1116l55 15 23-15-55-15z"/><path color="#b70d28" d="M4063 1148l38 17 26-19-38-17z"/><path color="#b40426" d="M3724 1120l38 10 25-21-38-9z"/><path color="#516ddb" d="M779 4371l51-165 33-202-52 152z"/><path color="#b8122a" d="M2726 1157l42 8 23-12-43-7z"/><path color="#b50927" d="M2177 1131l50 12 22-12-49-12z"/><path color="#b40426" d="M1821 1118l56 15 22-17-55-15z"/><path color="#b50927" d="M1575 1139l61 15 23-25-61-16z"/><path color="#b50927" d="M3265 1144l38 6 24-16-38-6z"/><path color="#b70d28" d="M2550 1153l44 9 23-11-44-9z"/><path color="#f5c4ac" d="M5325 2277l58 88 22 64-58-93z"/><path color="#b70d28" d="M3000 1156l40 7 23-14-40-6z"/><path color="#b70d28" d="M2368 1144l46 10 23-10-47-11z"/><path color="#b40426" d="M1741 1122l57 16 23-20-57-15z"/><path color="#b40426" d="M1659 1129l59 15 23-22-59-16z"/><path color="#c83836" d="M4427 1294l41 30 26-8-40-32z"/><path color="#b50927" d="M3962 1137l38 14 25-19-38-15z"/><path color="#b50927" d="M3365 1140l38 7 24-18-38-6z"/><path color="#80a3fa" d="M820 3901l54-138 30-180-54 127z"/><path color="#bd1f2d" d="M4243 1206l39 22 26-14-39-24z"/><path color="#b70d28" d="M2832 1161l41 7 23-12-41-7z"/><path color="#b40426" d="M2104 1130l51 13 22-12-50-13z"/><path color="#b70d28" d="M3102 1155l39 7 23-15-39-6z"/><path color="#b40426" d="M3464 1136l38 8 24-19-38-7z"/><path color="#b8122a" d="M4101 1165l38 17 26-17-38-19z"/><path color="#b40426" d="M3861 1131l38 13 25-20-37-13z"/><path color="#b70d28" d="M2660 1160l43 9 23-12-43-8z"/><path color="#cb3e38" d="M4468 1324l41 32 26-7-41-33z"/><path color="#b50927" d="M2298 1143l47 12 23-11-48-12z"/><path color="#b40426" d="M3563 1133l38 8 24-19-37-8z"/><path color="#b70d28" d="M2482 1154l45 10 23-11-45-10z"/><path color="#b40426" d="M3762 1130l37 10 25-20-37-11z"/><path color="#b40426" d="M3662 1130l38 10 24-20-37-9z"/><path color="#b50927" d="M3203 1153l39 7 23-16-38-6z"/><path color="#b70d28" d="M2937 1163l40 7 23-14-40-6z"/><path color="#b40426" d="M2030 1130l51 14 23-14-52-14z"/><path color="#c0282f" d="M4282 1228l39 24 26-13-39-25z"/><path color="#cd423b" d="M4509 1356l42 33 26-4-42-36z"/><path color="#b70d28" d="M2768 1165l41 8 23-12-41-8z"/><path color="#b50927" d="M4000 1151l38 16 25-19-38-16z"/><path color="#b50927" d="M3303 1150l38 7 24-17-38-6z"/><path color="#b40426" d="M1954 1131l53 14 23-15-53-14z"/><path color="#b70d28" d="M3040 1163l39 7 23-15-39-6z"/><path color="#f7b396" d="M5213 2118l55 77 23 52-55-83z"/><path color="#b50927" d="M2227 1143l48 12 23-12-49-12z"/><path color="#ba162b" d="M4139 1182l39 20 26-17-39-20z"/><path color="#b70d28" d="M2594 1162l44 9 22-11-43-9z"/><path color="#b50927" d="M2414 1154l46 11 22-11-45-10z"/><path color="#b40426" d="M3403 1147l38 7 23-18-37-7z"/><path color="#d1493f" d="M4551 1389l42 36 26-2-42-38z"/><path color="#b70d28" d="M1553 1167l60 15 23-28-61-15z"/><path color="#b40426" d="M3899 1144l38 13 25-20-38-13z"/><path color="#b40426" d="M1877 1133l54 15 23-17-55-15z"/><path color="#b70d28" d="M2873 1168l41 8 23-13-41-7z"/><path color="#b40426" d="M3502 1144l37 8 24-19-37-8z"/><path color="#b50927" d="M3141 1162l39 7 23-16-39-6z"/><path color="#c12b30" d="M4321 1252l40 26 26-12-40-27z"/><path color="#b50927" d="M1636 1154l59 15 23-25-59-15z"/><path color="#b40426" d="M1798 1138l56 14 23-19-56-15z"/><path color="#b40426" d="M3799 1140l38 11 24-20-37-11z"/><path color="#b40426" d="M3601 1141l37 9 24-20-37-8z"/><path color="#d44e41" d="M4593 1425l43 37 26 1-43-40z"/><path color="#b40426" d="M1718 1144l57 15 23-21-57-16z"/><path color="#b40426" d="M3700 1140l37 9 25-19-38-10z"/><path color="#b40426" d="M2155 1143l49 13 23-13-50-12z"/><path color="#b70d28" d="M2703 1169l42 8 23-12-42-8z"/><path color="#b70d28" d="M4038 1167l38 16 25-18-38-17z"/><path color="#b50927" d="M3242 1160l38 7 23-17-38-6z"/><path color="#b70d28" d="M2527 1164l45 10 22-12-44-9z"/><path color="#b50927" d="M2345 1155l47 11 22-12-46-10z"/><path color="#b70d28" d="M2977 1170l40 7 23-14-40-7z"/><path color="#bb1b2c" d="M4178 1202l39 20 26-16-39-21z"/><path color="#d75445" d="M4636 1462l43 40 26 3-43-42z"/><path color="#c43032" d="M4361 1278l41 26 25-10-40-28z"/><path color="#b50927" d="M3341 1157l38 8 24-18-38-7z"/><path color="#b40426" d="M2081 1144l51 13 23-14-51-13z"/><path color="#da5a49" d="M4679 1502l45 42 25 5-44-44z"/><path color="#688aef" d="M811 4156l52-152 32-191-52 141z"/><path color="#b70d28" d="M2809 1173l42 8 22-13-41-7z"/><path color="#b50927" d="M3937 1157l38 14 25-20-38-14z"/><path color="#b50927" d="M3079 1170l39 7 23-15-39-7z"/><path color="#94b6ff" d="M850 3710l54-127 30-169-55 116z"/><path color="#b40426" d="M3441 1154l37 8 24-18-38-8z"/><path color="#de614d" d="M4724 1544l44 44 26 9-45-48z"/><path color="#b70d28" d="M2638 1171l42 10 23-12-43-9z"/><path color="#b40426" d="M2275 1155l48 12 22-12-47-12z"/><path color="#b40426" d="M3837 1151l37 12 25-19-38-13z"/><path color="#b40426" d="M2007 1145l52 14 22-15-51-14z"/><path color="#b40426" d="M3539 1152l38 8 24-19-38-8z"/><path color="#b50927" d="M2460 1165l45 11 22-12-45-10z"/><path color="#bd1f2d" d="M4217 1222l39 21 26-15-39-22z"/><path color="#c73635" d="M4402 1304l40 29 26-9-41-30z"/><path color="#b70d28" d="M4076 1183l38 17 25-18-38-17z"/><path color="#b40426" d="M3638 1150l38 9 24-19-38-10z"/><path color="#b40426" d="M3737 1149l38 11 24-20-37-10z"/><path color="#b50927" d="M3180 1169l39 7 23-16-39-7z"/><path color="#b70d28" d="M2914 1176l40 8 23-14-40-7z"/><path color="#b8122a" d="M1530 1199l61 14 22-31-60-15z"/><path color="#b40426" d="M1931 1148l53 14 23-17-53-14z"/><path color="#b70d28" d="M2745 1177l42 9 22-13-41-8z"/><path color="#b50927" d="M3280 1167l38 8 23-18-38-7z"/><path color="#b40426" d="M2204 1156l49 13 22-14-48-12z"/><path color="#b70d28" d="M1613 1182l59 14 23-27-59-15z"/><path color="#b50927" d="M3017 1177l39 8 23-15-39-7z"/><path color="#b40426" d="M1854 1152l55 15 22-19-54-15z"/><path color="#b50927" d="M2572 1174l43 10 23-13-44-9z"/><path color="#b50927" d="M3975 1171l38 14 25-18-38-16z"/><path color="#c83836" d="M4442 1333l42 30 25-7-41-32z"/><path color="#b50927" d="M2392 1166l45 12 23-13-46-11z"/><path color="#b50927" d="M1695 1169l58 14 22-24-57-15z"/><path color="#b40426" d="M1775 1159l56 15 23-22-56-14z"/><path color="#b40426" d="M3379 1165l38 7 24-18-38-7z"/><path color="#be242e" d="M4256 1243l40 23 25-14-39-24z"/><path color="#b70d28" d="M2851 1181l40 9 23-14-41-8z"/><path color="#b8122a" d="M4114 1200l39 18 25-16-39-20z"/><path color="#b50927" d="M3118 1177l39 8 23-16-39-7z"/><path color="#b40426" d="M3478 1162l38 8 23-18-37-8z"/><path color="#b40426" d="M3874 1163l38 13 25-19-38-13z"/><path color="#f2cab5" d="M5421 2391l61 92 22 73-62-99z"/><path color="#b40426" d="M2132 1157l50 13 22-14-49-13z"/><path color="#b40426" d="M3577 1160l37 9 24-19-37-9z"/><path color="#b40426" d="M3775 1160l37 11 25-20-38-11z"/><path color="#cc403a" d="M4484 1363l41 31 26-5-42-33z"/><path color="#b40426" d="M3676 1159l37 10 24-20-37-9z"/><path color="#b50927" d="M2680 1181l43 9 22-13-42-8z"/><path color="#b50927" d="M3219 1176l38 8 23-17-38-7z"/><path color="#b40426" d="M2323 1167l46 12 23-13-47-11z"/><path color="#b50927" d="M2505 1176l44 10 23-12-45-10z"/><path color="#b50927" d="M2954 1184l40 8 23-15-40-7z"/><path color="#b40426" d="M2059 1159l50 14 23-16-51-13z"/><path color="#c0282f" d="M4296 1266l40 24 25-12-40-26z"/><path color="#bb1b2c" d="M1507 1234l61 12 23-33-61-14z"/><path color="#b70d28" d="M4013 1185l38 16 25-18-38-16z"/><path color="#b40426" d="M3318 1175l38 7 23-17-38-8z"/><path color="#cf453c" d="M4525 1394l43 34 25-3-42-36z"/><path color="#f5c1a9" d="M5361 2305l60 86 21 66-59-92z"/><path color="#b50927" d="M2787 1186l41 9 23-14-42-8z"/><path color="#a9c6fd" d="M879 3530l55-116 29-159-55 106z"/><path color="#ba162b" d="M4153 1218l39 20 25-16-39-20z"/><path color="#b50927" d="M3056 1185l39 8 23-16-39-7z"/><path color="#b40426" d="M1984 1162l52 14 23-17-52-14z"/><path color="#b40426" d="M3417 1172l38 8 23-18-37-8z"/><path color="#b40426" d="M2253 1169l47 12 23-14-48-12z"/><path color="#b40426" d="M3912 1176l38 14 25-19-38-14z"/><path color="#b50927" d="M2615 1184l43 10 22-13-42-10z"/><path color="#b8122a" d="M1591 1213l59 13 22-30-59-14z"/><path color="#7ea1fa" d="M843 3954l52-141 32-179-53 129z"/><path color="#b50927" d="M2437 1178l45 11 23-13-45-11z"/><path color="#d1493f" d="M4568 1428l43 35 25-1-43-37z"/><path color="#b40426" d="M3516 1170l37 9 24-19-38-8z"/><path color="#b40426" d="M1909 1167l53 14 22-19-53-14z"/><path color="#b40426" d="M3812 1171l38 12 24-20-37-12z"/><path color="#b50927" d="M3157 1185l39 8 23-17-39-7z"/><path color="#c32e31" d="M4336 1290l40 25 26-11-41-26z"/><path color="#b50927" d="M2891 1190l41 8 22-14-40-8z"/><path color="#b40426" d="M3614 1169l38 9 24-19-38-9z"/><path color="#b40426" d="M3713 1169l38 10 24-19-38-11z"/><path color="#b50927" d="M1672 1196l58 14 23-27-58-14z"/><path color="#f7b99e" d="M5302 2223l59 82 22 60-58-88z"/><path color="#b40426" d="M1831 1174l55 14 23-21-55-15z"/><path color="#b50927" d="M1753 1183l56 14 22-23-56-15z"/><path color="#b70d28" d="M4051 1201l38 17 25-18-38-17z"/><path color="#d55042" d="M4611 1463l43 37 25 2-43-40z"/><path color="#b40426" d="M2182 1170l48 13 23-14-49-13z"/><path color="#b50927" d="M2723 1190l41 10 23-14-42-9z"/><path color="#b50927" d="M3257 1184l38 8 23-17-38-8z"/><path color="#bb1b2c" d="M4192 1238l39 20 25-15-39-21z"/><path color="#b50927" d="M2994 1192l40 8 22-15-39-8z"/><path color="#b50927" d="M2549 1186l44 11 22-13-43-10z"/><path color="#b40426" d="M2369 1179l46 12 22-13-45-12z"/><path color="#b40426" d="M3356 1182l38 8 23-18-38-7z"/><path color="#c43032" d="M4376 1315l41 27 25-9-40-29z"/><path color="#bd1f2d" d="M1484 1272l61 11 23-37-61-12z"/><path color="#d85646" d="M4654 1500l44 39 26 5-45-42z"/><path color="#b50927" d="M3950 1190l38 14 25-19-38-14z"/><path color="#b40426" d="M2109 1173l50 13 23-16-50-13z"/><path color="#b50927" d="M2828 1195l41 9 22-14-40-9z"/><path color="#b50927" d="M3095 1193l39 8 23-16-39-8z"/><path color="#b40426" d="M3455 1180l37 9 24-19-38-8z"/><path color="#b40426" d="M3850 1183l38 12 24-19-38-13z"/><path color="#f7a889" d="M5190 2075l55 72 23 48-55-77z"/><path color="#b40426" d="M3553 1179l38 9 23-19-37-9z"/><path color="#b50927" d="M2658 1194l42 10 23-14-43-9z"/><path color="#b40426" d="M3751 1179l37 11 24-19-37-11z"/><path color="#b40426" d="M3652 1178l37 10 24-19-37-10z"/><path color="#b8122a" d="M4089 1218l39 17 25-17-39-18z"/><path color="#b40426" d="M2300 1181l47 12 22-14-46-12z"/><path color="#bd1f2d" d="M4231 1258l40 22 25-14-40-23z"/><path color="#b50927" d="M3196 1193l38 8 23-17-38-8z"/><path color="#b40426" d="M2036 1176l51 14 22-17-50-14z"/><path color="#b50927" d="M2482 1189l45 11 22-14-44-10z"/><path color="#df634e" d="M4743 1580l46 44 25 10-46-46z"/><path color="#c73635" d="M4417 1342l41 28 26-7-42-30z"/><path color="#b50927" d="M2932 1198l39 9 23-15-40-8z"/><path color="#ba162b" d="M1568 1246l59 12 23-32-59-13z"/><path color="#bbd1f8" d="M908 3361l55-106 29-151-56 96z"/><path color="#b40426" d="M3295 1192l38 8 23-18-38-7z"/><path color="#b40426" d="M1962 1181l52 14 22-19-52-14z"/><path color="#b50927" d="M2764 1200l42 9 22-14-41-9z"/><path color="#b8122a" d="M1650 1226l57 12 23-28-58-14z"/><path color="#b50927" d="M3988 1204l38 15 25-18-38-16z"/><path color="#b50927" d="M3034 1200l39 8 22-15-39-8z"/><path color="#b40426" d="M2230 1183l48 13 22-15-47-12z"/><path color="#b40426" d="M1886 1188l53 14 23-21-53-14z"/><path color="#b40426" d="M3394 1190l38 9 23-19-38-8z"/><path color="#b50927" d="M2593 1197l42 10 23-13-43-10z"/><path color="#ca3b37" d="M4458 1370l42 30 25-6-41-31z"/><path color="#b50927" d="M1730 1210l56 13 23-26-56-14z"/><path color="#c12b30" d="M1461 1314l61 8 23-39-61-11z"/><path color="#b40426" d="M1809 1197l54 14 23-23-55-14z"/><path color="#b40426" d="M2415 1191l45 12 22-14-45-11z"/><path color="#be242e" d="M4271 1280l40 22 25-12-40-24z"/><path color="#b40426" d="M3888 1195l38 13 24-18-38-14z"/><path color="#ba162b" d="M4128 1235l39 18 25-15-39-20z"/><path color="#b40426" d="M3492 1189l38 9 23-19-37-9z"/><path color="#94b6ff" d="M874 3763l53-129 31-169-54 118z"/><path color="#b50927" d="M3134 1201l39 8 23-16-39-8z"/><path color="#b50927" d="M2869 1204l40 9 23-15-41-8z"/><path color="#b40426" d="M3591 1188l37 9 24-19-38-9z"/><path color="#b40426" d="M3788 1190l38 12 24-19-38-12z"/><path color="#b40426" d="M3689 1188l38 11 24-20-38-10z"/><path color="#b40426" d="M2159 1186l49 13 22-16-48-13z"/><path color="#688aef" d="M830 4206l50-154 33-191-50 143z"/><path color="#b50927" d="M2700 1204l42 10 22-14-41-10z"/><path color="#cc403a" d="M4500 1400l43 31 25-3-43-34z"/><path color="#b40426" d="M3234 1201l38 8 23-17-38-8z"/><path color="#b50927" d="M2971 1207l40 8 23-15-40-8z"/><path color="#b40426" d="M2347 1193l46 12 22-14-46-12z"/><path color="#b40426" d="M2527 1200l43 11 23-14-44-11z"/><path color="#b70d28" d="M4026 1219l39 16 24-17-38-17z"/><path color="#bd1f2d" d="M1545 1283l59 10 23-35-59-12z"/><path color="#c12b30" d="M4311 1302l40 24 25-11-40-25z"/><path color="#b40426" d="M3333 1200l38 8 23-18-38-8z"/><path color="#b40426" d="M2087 1190l49 13 23-17-50-13z"/><path color="#bb1b2c" d="M4167 1253l39 20 25-15-39-20z"/><path color="#b50927" d="M2806 1209l40 9 23-14-41-9z"/><path color="#b50927" d="M3073 1208l39 9 22-16-39-8z"/><path color="#cf453c" d="M4543 1431l43 33 25-1-43-35z"/><path color="#b40426" d="M3432 1199l37 8 23-18-37-9z"/><path color="#cad8ef" d="M936 3200l56-96 29-142-57 87z"/><path color="#b50927" d="M3926 1208l38 14 24-18-38-14z"/><path color="#c43032" d="M1438 1358l61 7 23-43-61-8z"/><path color="#b40426" d="M2014 1195l50 14 23-19-51-14z"/><path color="#b50927" d="M2635 1207l43 11 22-14-42-10z"/><path color="#ba162b" d="M1627 1258l57 12 23-32-57-12z"/><path color="#b40426" d="M3530 1198l37 9 24-19-38-9z"/><path color="#b40426" d="M2278 1196l46 12 23-15-47-12z"/><path color="#b40426" d="M3826 1202l38 12 24-19-38-12z"/><path color="#b40426" d="M2460 1203l44 11 23-14-45-11z"/><path color="#b40426" d="M3628 1197l38 10 23-19-37-10z"/><path color="#b40426" d="M3173 1209l38 8 23-16-38-8z"/><path color="#b40426" d="M3727 1199l37 11 24-20-37-11z"/><path color="#b50927" d="M2909 1213l40 9 22-15-39-9z"/><path color="#c32e31" d="M4351 1326l41 26 25-10-41-27z"/><path color="#b40426" d="M1939 1202l52 13 23-20-52-14z"/><path color="#d24b40" d="M4586 1464l43 35 25 1-43-37z"/><path color="#b70d28" d="M1707 1238l56 13 23-28-56-13z"/><path color="#b8122a" d="M4065 1235l39 17 24-17-39-17z"/><path color="#b40426" d="M1863 1211l53 13 23-22-53-14z"/><path color="#b50927" d="M1786 1223l54 13 23-25-54-14z"/><path color="#b40426" d="M3272 1209l38 8 23-17-38-8z"/><path color="#b50927" d="M2742 1214l41 9 23-14-42-9z"/><path color="#bd1f2d" d="M4206 1273l40 20 25-13-40-22z"/><path color="#b40426" d="M2208 1199l47 13 23-16-48-13z"/><path color="#b50927" d="M3011 1215l39 9 23-16-39-8z"/><path color="#b40426" d="M3371 1208l38 8 23-17-38-9z"/><path color="#b40426" d="M2570 1211l43 11 22-15-42-10z"/><path color="#b40426" d="M2393 1205l45 12 22-14-45-12z"/><path color="#c0282f" d="M1522 1322l59 9 23-38-59-10z"/><path color="#a7c5fe" d="M904 3583l54-118 30-159-54 108z"/><path color="#b50927" d="M3964 1222l38 15 24-18-38-15z"/><path color="#c53334" d="M4392 1352l42 26 24-8-41-28z"/><path color="#c83836" d="M1415 1406l60 5 24-46-61-7z"/><path color="#b40426" d="M3469 1207l38 9 23-18-38-9z"/><path color="#b40426" d="M3112 1217l38 8 23-16-39-8z"/><path color="#b50927" d="M2846 1218l41 10 22-15-40-9z"/><path color="#b40426" d="M2136 1203l49 13 23-17-49-13z"/><path color="#f5c0a7" d="M5399 2329l62 86 21 68-61-92z"/><path color="#b40426" d="M3864 1214l38 13 24-19-38-13z"/><path color="#d85646" d="M4674 1536l45 39 24 5-45-41z"/><path color="#b40426" d="M3567 1207l38 9 23-19-37-9z"/><path color="#d7dce3" d="M964 3049l57-87 28-134-57 79z"/><path color="#b40426" d="M3764 1210l38 11 24-19-38-12z"/><path color="#b40426" d="M3666 1207l37 11 24-19-38-11z"/><path color="#b8122a" d="M4104 1252l39 17 24-16-39-18z"/><path color="#b40426" d="M2678 1218l42 10 22-14-42-10z"/><path color="#b40426" d="M3211 1217l38 9 23-17-38-8z"/><path color="#be242e" d="M4246 1293l40 22 25-13-40-22z"/><path color="#b40426" d="M2324 1208l46 13 23-16-46-12z"/><path color="#bb1b2c" d="M1604 1293l57 11 23-34-57-12z"/><path color="#b50927" d="M2949 1222l39 9 23-16-40-8z"/><path color="#b40426" d="M2504 1214l44 11 22-14-43-11z"/><path color="#b40426" d="M2064 1209l50 13 22-19-49-13z"/><path color="#dc5d4a" d="M4719 1575l46 41 24 8-46-44z"/><path color="#7ea1fa" d="M863 4004l50-143 33-179-51 131z"/><path color="#c83836" d="M4434 1378l42 28 24-6-42-30z"/><path color="#f7b89c" d="M5339 2249l60 80 22 62-60-86z"/><path color="#b40426" d="M3310 1217l38 9 23-18-38-8z"/><path color="#b40426" d="M1991 1215l51 14 22-20-50-14z"/><path color="#b70d28" d="M4002 1237l39 15 24-17-39-16z"/><path color="#b50927" d="M2783 1223l41 10 22-15-40-9z"/><path color="#df634e" d="M4765 1616l46 43 25 11-47-46z"/><path color="#b40426" d="M3050 1224l39 9 23-16-39-9z"/><path color="#b8122a" d="M1684 1270l56 11 23-30-56-13z"/><path color="#b40426" d="M3409 1216l37 9 23-18-37-8z"/><path color="#cc403a" d="M1391 1458l61 2 23-49-60-5z"/><path color="#b40426" d="M2255 1212l47 13 22-17-46-12z"/><path color="#c32e31" d="M1499 1365l59 7 23-41-59-9z"/><path color="#b40426" d="M1916 1224l52 14 23-23-52-13z"/><path color="#b40426" d="M2613 1222l42 10 23-14-43-11z"/><path color="#b70d28" d="M1763 1251l55 12 22-27-54-13z"/><path color="#b50927" d="M1840 1236l54 13 22-25-53-13z"/><path color="#b40426" d="M3507 1216l37 9 23-18-37-9z"/><path color="#b50927" d="M3902 1227l38 14 24-19-38-14z"/><path color="#c0282f" d="M4286 1315l41 23 24-12-40-24z"/><path color="#b40426" d="M2438 1217l44 12 22-15-44-11z"/><path color="#ba162b" d="M4143 1269l39 19 24-15-39-20z"/><path color="#ca3b37" d="M4476 1406l42 30 25-5-43-31z"/><path color="#b40426" d="M3150 1225l39 9 22-17-38-8z"/><path color="#b50927" d="M2887 1228l40 9 22-15-40-9z"/><path color="#b40426" d="M3605 1216l37 10 24-19-38-10z"/><path color="#b40426" d="M3802 1221l38 12 24-19-38-12z"/><path color="#b40426" d="M3703 1218l38 10 23-18-37-11z"/><path color="#e3d9d3" d="M992 2907l57-79 27-127-57 71z"/><path color="#b40426" d="M2185 1216l48 13 22-17-47-13z"/><path color="#b40426" d="M3249 1226l38 8 23-17-38-8z"/><path color="#bad0f8" d="M934 3414l54-108 30-150-55 99z"/><path color="#b40426" d="M2720 1228l41 10 22-15-41-9z"/><path color="#b40426" d="M2988 1231l40 9 22-16-39-9z"/><path color="#b70d28" d="M4041 1252l38 16 25-16-39-17z"/><path color="#cc403a" d="M4518 1436l43 31 25-3-43-33z"/><path color="#b40426" d="M2548 1225l43 11 22-14-43-11z"/><path color="#be242e" d="M1581 1331l57 9 23-36-57-11z"/><path color="#b40426" d="M2370 1221l45 12 23-16-45-12z"/><path color="#d0473d" d="M1368 1513l60 0 24-53-61-2z"/><path color="#b40426" d="M3348 1226l38 8 23-18-38-8z"/><path color="#c12b30" d="M4327 1338l41 24 24-10-41-26z"/><path color="#b40426" d="M2114 1222l49 13 22-19-49-13z"/><path color="#bb1b2c" d="M4182 1288l40 19 24-14-40-20z"/><path color="#b40426" d="M3089 1233l39 9 22-17-38-8z"/><path color="#b40426" d="M3446 1225l38 9 23-18-38-9z"/><path color="#b40426" d="M2824 1233l40 10 23-15-41-10z"/><path color="#b50927" d="M3940 1241l38 14 24-18-38-15z"/><path color="#c73635" d="M1475 1411l59 5 24-44-59-7z"/><path color="#b40426" d="M3544 1225l38 10 23-19-38-9z"/><path color="#bb1b2c" d="M1661 1304l56 10 23-33-56-11z"/><path color="#b40426" d="M3840 1233l38 12 24-18-38-13z"/><path color="#b40426" d="M2042 1229l49 13 23-20-50-13z"/><path color="#d0473d" d="M4561 1467l44 33 24-1-43-35z"/><path color="#b40426" d="M2655 1232l42 11 23-15-42-10z"/><path color="#b40426" d="M3642 1226l38 11 23-19-37-11z"/><path color="#b40426" d="M2302 1225l46 12 22-16-46-13z"/><path color="#b40426" d="M3741 1228l38 12 23-19-38-11z"/><path color="#b40426" d="M3189 1234l38 9 22-17-38-9z"/><path color="#ecd3c5" d="M1019 2772l57-71 27-120-58 64z"/><path color="#b40426" d="M2482 1229l44 11 22-15-44-11z"/><path color="#b40426" d="M2927 1237l39 9 22-15-39-9z"/><path color="#d55042" d="M1344 1572l61-3 23-56-60 0z"/><path color="#b40426" d="M1968 1238l51 13 23-22-51-14z"/><path color="#94b6ff" d="M895 3813l51-131 33-168-52 120z"/><path color="#c43032" d="M4368 1362l41 25 25-9-42-26z"/><path color="#b8122a" d="M1740 1281l55 12 23-30-55-12z"/><path color="#b8122a" d="M4079 1268l40 17 24-16-39-17z"/><path color="#b40426" d="M3287 1234l38 9 23-17-38-9z"/><path color="#b50927" d="M1894 1249l52 13 22-24-52-14z"/><path color="#b70d28" d="M1818 1263l53 12 23-26-54-13z"/><path color="#b40426" d="M2761 1238l41 10 22-15-41-10z"/><path color="#d24b40" d="M4605 1500l44 34 25 2-45-37z"/><path color="#bd1f2d" d="M4222 1307l40 21 24-13-40-22z"/><path color="#b40426" d="M3028 1240l39 9 22-16-39-9z"/><path color="#b40426" d="M2233 1229l46 13 23-17-47-13z"/><path color="#b40426" d="M3386 1234l37 9 23-18-37-9z"/><path color="#c9d7f0" d="M963 3255l55-99 29-141-55 89z"/><path color="#c12b30" d="M1558 1372l57 7 23-39-57-9z"/><path color="#b40426" d="M2591 1236l42 11 22-15-42-10z"/><path color="#b50927" d="M3978 1255l39 14 24-17-39-15z"/><path color="#b40426" d="M2415 1233l45 12 22-16-44-12z"/><path color="#ca3b37" d="M1452 1460l59 3 23-47-59-5z"/><path color="#b40426" d="M3484 1234l37 10 23-19-37-9z"/><path color="#b40426" d="M3128 1242l38 9 23-17-39-9z"/><path color="#f2cab5" d="M1045 2645l58-64 27-113-58 56z"/><path color="#d95847" d="M1321 1635l60-6 24-60-61 3z"/><path color="#b40426" d="M2864 1243l40 10 23-16-40-9z"/><path color="#c53334" d="M4409 1387l42 26 25-7-42-28z"/><path color="#b40426" d="M3878 1245l38 14 24-18-38-14z"/><path color="#b40426" d="M3582 1235l37 10 23-19-37-10z"/><path color="#d55042" d="M4649 1534l46 36 24 5-45-39z"/><path color="#b40426" d="M2163 1235l47 13 23-19-48-13z"/><path color="#b40426" d="M3680 1237l38 10 23-19-38-10z"/><path color="#b40426" d="M3779 1240l37 12 24-19-38-12z"/><path color="#b40426" d="M3227 1243l38 9 22-18-38-8z"/><path color="#ba162b" d="M4119 1285l39 18 24-15-39-19z"/><path color="#b40426" d="M2697 1243l42 10 22-15-41-10z"/><path color="#be242e" d="M4262 1328l41 22 24-12-41-23z"/><path color="#be242e" d="M1638 1340l56 9 23-35-56-10z"/><path color="#b40426" d="M2966 1246l39 10 23-16-40-9z"/><path color="#b40426" d="M2348 1237l45 12 22-16-45-12z"/><path color="#b40426" d="M2526 1240l43 12 22-16-43-11z"/><path color="#b40426" d="M2091 1242l49 13 23-20-49-13z"/><path color="#d85646" d="M4695 1570l46 38 24 8-46-41z"/><path color="#de614d" d="M1297 1703l60-11 24-63-60 6z"/><path color="#b40426" d="M3325 1243l38 9 23-18-38-8z"/><path color="#f5c0a7" d="M1072 2524l58-56 27-107-59 50z"/><path color="#c83836" d="M4451 1413l43 28 24-5-42-30z"/><path color="#b70d28" d="M4017 1269l39 16 23-17-38-16z"/><path color="#b40426" d="M2802 1248l40 10 22-15-40-10z"/><path color="#b40426" d="M3067 1249l38 9 23-16-39-9z"/><path color="#b40426" d="M3423 1243l38 10 23-19-38-9z"/><path color="#b40426" d="M2019 1251l50 12 22-21-49-13z"/><path color="#bb1b2c" d="M1717 1314l55 10 23-31-55-12z"/><path color="#cf453c" d="M1428 1513l59 0 24-50-59-3z"/><path color="#c53334" d="M1534 1416l58 5 23-42-57-7z"/><path color="#b40426" d="M3521 1244l38 9 23-18-38-10z"/><path color="#d6dce4" d="M992 3104l55-89 29-134-55 81z"/><path color="#b40426" d="M2279 1242l46 12 23-17-46-12z"/><path color="#b50927" d="M1946 1262l50 12 23-23-51-13z"/><path color="#e36b54" d="M1273 1774l60-14 24-68-60 11z"/><path color="#b50927" d="M3916 1259l38 13 24-17-38-14z"/><path color="#b40426" d="M2633 1247l42 11 22-15-42-11z"/><path color="#b8122a" d="M1795 1293l53 11 23-29-53-12z"/><path color="#a7c5fe" d="M927 3634l52-120 31-159-52 110z"/><path color="#b70d28" d="M1871 1275l52 12 23-25-52-13z"/><path color="#b40426" d="M3166 1251l38 9 23-17-38-9z"/><path color="#f7b599" d="M1098 2411l59-50 26-101-59 43z"/><path color="#b40426" d="M3619 1245l38 10 23-18-38-11z"/><path color="#b40426" d="M2460 1245l43 11 23-16-44-11z"/><path color="#ba162b" d="M4158 1303l40 19 24-15-40-19z"/><path color="#c0282f" d="M4303 1350l41 22 24-10-41-24z"/><path color="#b40426" d="M3816 1252l38 12 24-19-38-12z"/><path color="#b40426" d="M2904 1253l40 9 22-16-39-9z"/><path color="#b40426" d="M3718 1247l37 11 24-18-38-12z"/><path color="#cb3e38" d="M4494 1441l43 29 24-3-43-31z"/><path color="#e7745b" d="M1249 1850l59-18 25-72-60 14z"/><path color="#b40426" d="M3265 1252l38 9 22-18-38-9z"/><path color="#f7aa8c" d="M1124 2303l59-43 25-96-59 38z"/><path color="#b40426" d="M2210 1248l47 12 22-18-46-13z"/><path color="#b40426" d="M2739 1253l40 11 23-16-41-10z"/><path color="#b40426" d="M3005 1256l39 9 23-16-39-9z"/><path color="#ec7f63" d="M1224 1930l60-22 24-76-59 18z"/><path color="#b8122a" d="M4056 1285l39 16 24-16-40-17z"/><path color="#b40426" d="M3363 1252l38 9 22-18-37-9z"/><path color="#c12b30" d="M1615 1379l56 7 23-37-56-9z"/><path color="#d24b40" d="M1405 1569l59-3 23-53-59 0z"/><path color="#f5a081" d="M1149 2202l59-38 26-90-60 32z"/><path color="#b40426" d="M2569 1252l42 11 22-16-42-11z"/><path color="#b40426" d="M2393 1249l44 12 23-16-45-12z"/><path color="#f08a6c" d="M1199 2016l60-28 25-80-60 22z"/><path color="#f39577" d="M1174 2106l60-32 25-86-60 28z"/><path color="#b40426" d="M3461 1253l38 9 22-18-37-10z"/><path color="#b40426" d="M2140 1255l48 12 22-19-47-13z"/><path color="#b40426" d="M3105 1258l39 9 22-16-38-9z"/><path color="#c32e31" d="M4344 1372l41 24 24-9-41-25z"/><path color="#cd423b" d="M4537 1470l44 31 24-1-44-33z"/><path color="#b40426" d="M2842 1258l40 10 22-15-40-10z"/><path color="#f7b599" d="M5378 2273l62 79 21 63-62-86z"/><path color="#bb1b2c" d="M4198 1322l40 19 24-13-40-21z"/><path color="#b50927" d="M3954 1272l39 15 24-18-39-14z"/><path color="#c83836" d="M1511 1463l57 3 24-45-58-5z"/><path color="#e1dad6" d="M1021 2962l55-81 28-127-55 74z"/><path color="#b40426" d="M3559 1253l37 10 23-18-37-10z"/><path color="#80a3fa" d="M880 4052l49-145 34-179-50 133z"/><path color="#b40426" d="M3854 1264l39 13 23-18-38-14z"/><path color="#b40426" d="M3657 1255l38 11 23-19-38-10z"/><path color="#bd1f2d" d="M1694 1349l54 9 24-34-55-10z"/><path color="#b40426" d="M3755 1258l38 12 23-18-37-12z"/><path color="#b40426" d="M3204 1260l38 9 23-17-38-9z"/><path color="#b40426" d="M2675 1258l41 11 23-16-42-10z"/><path color="#b40426" d="M2069 1263l48 13 23-21-49-13z"/><path color="#f7ad90" d="M5317 2198l61 75 21 56-60-80z"/><path color="#b40426" d="M2325 1254l45 12 23-17-45-12z"/><path color="#b40426" d="M2944 1262l39 10 22-16-39-10z"/><path color="#b40426" d="M2503 1256l43 12 23-16-43-12z"/><path color="#d75445" d="M1381 1629l59-6 24-57-59 3z"/><path color="#f6a586" d="M5258 2128l59 70 22 51-59-75z"/><path color="#b50927" d="M1996 1274l50 12 23-23-50-12z"/><path color="#ba162b" d="M1772 1324l53 10 23-30-53-11z"/><path color="#b40426" d="M3303 1261l38 9 22-18-38-9z"/><path color="#d0473d" d="M4581 1501l44 32 24 1-44-34z"/><path color="#b8122a" d="M4095 1301l39 17 24-15-39-18z"/><path color="#f39475" d="M5144 2000l56 62 23 41-56-67z"/><path color="#b9d0f9" d="M958 3465l52-110 31-149-53 100z"/><path color="#b50927" d="M1923 1287l50 12 23-25-50-12z"/><path color="#c43032" d="M4385 1396l42 25 24-8-42-26z"/><path color="#b8122a" d="M1848 1304l52 11 23-28-52-12z"/><path color="#b40426" d="M2779 1264l41 10 22-16-40-10z"/><path color="#b40426" d="M3044 1265l39 10 22-17-38-9z"/><path color="#b40426" d="M3401 1261l37 10 23-18-38-10z"/><path color="#bd1f2d" d="M4238 1341l41 21 24-12-41-22z"/><path color="#b40426" d="M2257 1260l46 12 22-18-46-12z"/><path color="#c43032" d="M1592 1421l55 6 24-41-56-7z"/><path color="#ebd3c6" d="M1049 2828l55-74 28-119-56 66z"/><path color="#b70d28" d="M3993 1287l39 15 24-17-39-16z"/><path color="#b40426" d="M2611 1263l42 11 22-16-42-11z"/><path color="#b40426" d="M3499 1262l37 10 23-19-38-9z"/><path color="#cc403a" d="M1487 1513l57 0 24-47-57-3z"/><path color="#b40426" d="M2437 1261l44 12 22-17-43-11z"/><path color="#b40426" d="M3144 1267l38 10 22-17-38-9z"/><path color="#dc5d4a" d="M1357 1692l59-9 24-60-59 6z"/><path color="#b40426" d="M2882 1268l40 10 22-16-40-9z"/><path color="#b40426" d="M3596 1263l38 11 23-19-38-10z"/><path color="#b50927" d="M3893 1277l38 13 23-18-38-13z"/><path color="#b40426" d="M3695 1266l37 11 23-19-37-11z"/><path color="#b40426" d="M3793 1270l38 12 23-18-38-12z"/><path color="#b40426" d="M2188 1267l46 13 23-20-47-12z"/><path color="#b40426" d="M3242 1269l38 9 23-17-38-9z"/><path color="#c53334" d="M4427 1421l43 26 24-6-43-28z"/><path color="#b40426" d="M2716 1269l41 10 22-15-40-11z"/><path color="#ba162b" d="M4134 1318l40 18 24-14-40-19z"/><path color="#b40426" d="M2983 1272l39 10 22-17-39-9z"/><path color="#c0282f" d="M1671 1386l54 8 23-36-54-9z"/><path color="#b40426" d="M2370 1266l45 12 22-17-44-12z"/><path color="#b40426" d="M3341 1270l37 9 23-18-38-9z"/><path color="#be242e" d="M4279 1362l41 21 24-11-41-22z"/><path color="#b40426" d="M2546 1268l43 11 22-16-42-11z"/><path color="#f2cbb7" d="M1076 2701l56-66 28-113-57 59z"/><path color="#b40426" d="M2117 1276l48 12 23-21-48-12z"/><path color="#e0654f" d="M1333 1760l58-13 25-64-59 9z"/><path color="#b40426" d="M3083 1275l39 9 22-17-39-9z"/><path color="#b40426" d="M3438 1271l38 9 23-18-38-9z"/><path color="#b70d28" d="M4032 1302l39 15 24-16-39-16z"/><path color="#b40426" d="M2820 1274l40 10 22-16-40-10z"/><path color="#c9d7f0" d="M988 3306l53-100 30-141-53 91z"/><path color="#bd1f2d" d="M1748 1358l54 9 23-33-53-10z"/><path color="#d0473d" d="M1464 1566l57-2 23-51-57 0z"/><path color="#b50927" d="M2046 1286l49 12 22-22-48-13z"/><path color="#94b6ff" d="M913 3861l50-133 34-168-51 122z"/><path color="#c73635" d="M1568 1466l56 3 23-42-55-6z"/><path color="#b40426" d="M3536 1272l38 10 22-19-37-10z"/><path color="#c83836" d="M4470 1447l43 27 24-4-43-29z"/><path color="#d85646" d="M4717 1603l47 38 24 8-47-41z"/><path color="#b50927" d="M3931 1290l39 14 23-17-39-15z"/><path color="#b40426" d="M2303 1272l45 12 22-18-45-12z"/><path color="#b40426" d="M2653 1274l41 11 22-16-41-11z"/><path color="#b50927" d="M1973 1299l50 12 23-25-50-12z"/><path color="#ba162b" d="M1825 1334l52 10 23-29-52-11z"/><path color="#b40426" d="M3182 1277l38 9 22-17-38-9z"/><path color="#e46e56" d="M1308 1832l59-17 24-68-58 13z"/><path color="#b40426" d="M3634 1274l38 10 23-18-38-11z"/><path color="#f5c1a9" d="M1103 2581l57-59 27-106-57 52z"/><path color="#b70d28" d="M1900 1315l51 11 22-27-50-12z"/><path color="#b40426" d="M3831 1282l38 12 24-17-39-13z"/><path color="#b40426" d="M3732 1277l38 11 23-18-38-12z"/><path color="#b40426" d="M2481 1273l43 11 22-16-43-12z"/><path color="#b40426" d="M2922 1278l39 10 22-16-39-10z"/><path color="#bb1b2c" d="M4174 1336l40 18 24-13-40-19z"/><path color="#c12b30" d="M4320 1383l41 22 24-9-41-24z"/><path color="#b40426" d="M3280 1278l38 9 23-17-38-9z"/><path color="#e9785d" d="M1284 1908l58-21 25-72-59 17z"/><path color="#b40426" d="M2757 1279l41 11 22-16-41-10z"/><path color="#f7b89c" d="M1130 2468l57-52 27-101-57 46z"/><path color="#b40426" d="M2234 1280l46 12 23-20-46-12z"/><path color="#b40426" d="M3022 1282l39 9 22-16-39-10z"/><path color="#b40426" d="M3378 1279l38 10 22-18-37-10z"/><path color="#cb3e38" d="M4513 1474l44 29 24-2-44-31z"/><path color="#b8122a" d="M4071 1317l40 16 23-15-39-17z"/><path color="#c32e31" d="M1647 1427l55 5 23-38-54-8z"/><path color="#d55042" d="M1440 1623l57-5 24-54-57 2z"/><path color="#b40426" d="M2589 1279l42 11 22-16-42-11z"/><path color="#ed8366" d="M1259 1988l58-25 25-76-58 21z"/><path color="#b40426" d="M2415 1278l44 12 22-17-44-12z"/><path color="#f7ad90" d="M1157 2361l57-46 26-96-57 41z"/><path color="#b40426" d="M3476 1280l38 10 22-18-37-10z"/><path color="#b40426" d="M3122 1284l38 10 22-17-38-10z"/><path color="#b40426" d="M2860 1284l39 10 23-16-40-10z"/><path color="#f18d6f" d="M1234 2074l57-30 26-81-58 25z"/><path color="#d6dce4" d="M1018 3156l53-91 30-134-54 84z"/><path color="#b40426" d="M2165 1288l47 12 22-20-46-13z"/><path color="#f6a385" d="M1183 2260l57-41 26-90-58 35z"/><path color="#b50927" d="M3970 1304l39 14 23-16-39-15z"/><path color="#b40426" d="M3574 1282l37 10 23-18-38-11z"/><path color="#cb3e38" d="M1544 1513l56 2 24-46-56-3z"/><path color="#f4987a" d="M1208 2164l58-35 25-85-57 30z"/><path color="#bd1f2d" d="M4214 1354l41 20 24-12-41-21z"/><path color="#c32e31" d="M4361 1405l42 24 24-8-42-25z"/><path color="#b40426" d="M3672 1284l37 11 23-18-37-11z"/><path color="#b50927" d="M3869 1294l39 13 23-17-38-13z"/><path color="#b40426" d="M3770 1288l38 12 23-18-38-12z"/><path color="#b40426" d="M3220 1286l38 9 22-17-38-9z"/><path color="#be242e" d="M1725 1394l53 7 24-34-54-9z"/><path color="#b40426" d="M2694 1285l41 11 22-17-41-10z"/><path color="#cd423b" d="M4557 1503l45 31 23-1-44-32z"/><path color="#b40426" d="M2095 1298l47 12 23-22-48-12z"/><path color="#b40426" d="M2961 1288l39 10 22-16-39-10z"/><path color="#b40426" d="M2348 1284l44 12 23-18-45-12z"/><path color="#b40426" d="M2524 1284l42 12 23-17-43-11z"/><path color="#b40426" d="M3318 1287l38 10 22-18-37-9z"/><path color="#d95847" d="M1416 1683l56-8 25-57-57 5z"/><path color="#a7c5fe" d="M946 3682l51-122 33-158-51 112z"/><path color="#bb1b2c" d="M1802 1367l52 9 23-32-52-10z"/><path color="#b50927" d="M2023 1311l49 11 23-24-49-12z"/><path color="#b8122a" d="M4111 1333l40 17 23-14-40-18z"/><path color="#b70d28" d="M1951 1326l49 11 23-26-50-12z"/><path color="#b40426" d="M3061 1291l38 10 23-17-39-9z"/><path color="#b8122a" d="M1877 1344l51 10 23-28-51-11z"/><path color="#b40426" d="M2798 1290l40 11 22-17-40-10z"/><path color="#b40426" d="M3416 1289l37 9 23-18-38-9z"/><path color="#c43032" d="M4403 1429l43 25 24-7-43-26z"/><path color="#b40426" d="M2280 1292l46 12 22-20-45-12z"/><path color="#d0473d" d="M4602 1534l45 31 24 2-46-34z"/><path color="#c53334" d="M1624 1469l54 4 24-41-55-5z"/><path color="#e1dad6" d="M1047 3015l54-84 29-126-54 76z"/><path color="#b40426" d="M3514 1290l37 10 23-18-38-10z"/><path color="#be242e" d="M4255 1374l41 20 24-11-41-21z"/><path color="#b70d28" d="M4009 1318l39 15 23-16-39-15z"/><path color="#b40426" d="M2631 1290l41 11 22-16-41-11z"/><path color="#b40426" d="M3160 1294l38 9 22-17-38-9z"/><path color="#cf453c" d="M1521 1564l55-1 24-48-56-2z"/><path color="#b40426" d="M2459 1290l43 12 22-18-43-11z"/><path color="#b40426" d="M3611 1292l38 11 23-19-38-10z"/><path color="#b40426" d="M2899 1294l40 11 22-17-39-10z"/><path color="#b50927" d="M3908 1307l39 14 23-17-39-14z"/><path color="#de614d" d="M1391 1747l57-11 24-61-56 8z"/><path color="#b40426" d="M3709 1295l38 11 23-18-38-11z"/><path color="#b40426" d="M3808 1300l39 12 22-18-38-12z"/><path color="#b40426" d="M3258 1295l38 10 22-18-38-9z"/><path color="#b40426" d="M2212 1300l46 12 22-20-46-12z"/><path color="#b40426" d="M2735 1296l40 10 23-16-41-11z"/><path color="#b40426" d="M3000 1298l39 10 22-17-39-9z"/><path color="#d24b40" d="M4647 1565l46 34 24 4-46-36z"/><path color="#ba162b" d="M4151 1350l40 18 23-14-40-18z"/><path color="#c12b30" d="M1702 1432l53 6 23-37-53-7z"/><path color="#b40426" d="M3356 1297l38 10 22-18-38-10z"/><path color="#c73635" d="M4446 1454l44 25 23-5-43-27z"/><path color="#b40426" d="M2392 1296l44 12 23-18-44-12z"/><path color="#b40426" d="M2566 1296l42 11 23-17-42-11z"/><path color="#ead4c8" d="M1076 2881l54-76 29-119-55 68z"/><path color="#b40426" d="M2142 1310l47 12 23-22-47-12z"/><path color="#f7aa8c" d="M5356 2220l63 74 21 58-62-79z"/><path color="#c0282f" d="M4296 1394l42 21 23-10-41-22z"/><path color="#e26952" d="M1367 1815l56-15 25-64-57 11z"/><path color="#b40426" d="M3453 1298l38 10 23-18-38-10z"/><path color="#b40426" d="M3099 1301l39 10 22-17-38-10z"/><path color="#f6a385" d="M5295 2152l61 68 22 53-61-75z"/><path color="#f49a7b" d="M5236 2087l59 65 22 46-59-70z"/><path color="#b40426" d="M2838 1301l39 10 22-17-39-10z"/><path color="#b70d28" d="M4048 1333l39 16 24-16-40-16z"/><path color="#b9d0f9" d="M979 3514l51-112 32-149-52 102z"/><path color="#be242e" d="M1778 1401l52 8 24-33-52-9z"/><path color="#d24b40" d="M1497 1618l55-4 24-51-55 1z"/><path color="#b40426" d="M3551 1300l38 10 22-18-37-10z"/><path color="#b50927" d="M2072 1322l48 11 22-23-47-12z"/><path color="#ca3b37" d="M1600 1515l55 2 23-44-54-4z"/><path color="#d55042" d="M4693 1599l48 35 23 7-47-38z"/><path color="#b40426" d="M3198 1303l38 10 22-18-38-9z"/><path color="#b50927" d="M3947 1321l39 14 23-17-39-14z"/><path color="#b40426" d="M3649 1303l38 10 22-18-37-11z"/><path color="#b40426" d="M2672 1301l41 11 22-16-41-11z"/><path color="#b40426" d="M2326 1304l44 11 22-19-44-12z"/><path color="#b70d28" d="M2000 1337l49 10 23-25-49-11z"/><path color="#bb1b2c" d="M1854 1376l50 9 24-31-51-10z"/><path color="#b40426" d="M3747 1306l39 12 22-18-38-12z"/><path color="#b40426" d="M3847 1312l38 13 23-18-39-13z"/><path color="#b40426" d="M2939 1305l39 10 22-17-39-10z"/><path color="#b8122a" d="M1928 1354l49 10 23-27-49-11z"/><path color="#b40426" d="M2502 1302l42 11 22-17-42-12z"/><path color="#e67259" d="M1342 1887l56-19 25-68-56 15z"/><path color="#f1cdba" d="M1104 2754l55-68 28-112-55 61z"/><path color="#c83836" d="M4490 1479l44 28 23-4-44-29z"/><path color="#b40426" d="M3296 1305l38 10 22-18-38-10z"/><path color="#bb1b2c" d="M4191 1368l41 19 23-13-41-20z"/><path color="#b40426" d="M3039 1308l38 10 22-17-38-10z"/><path color="#c12b30" d="M4338 1415l42 23 23-9-42-24z"/><path color="#b40426" d="M2775 1306l41 11 22-16-40-11z"/><path color="#b40426" d="M3394 1307l37 9 22-18-37-9z"/><path color="#b40426" d="M2258 1312l45 12 23-20-46-12z"/><path color="#ea7b60" d="M1317 1963l56-23 25-72-56 19z"/><path color="#f5c4ac" d="M1132 2635l55-61 28-106-55 54z"/><path color="#c43032" d="M1678 1473l53 4 24-39-53-6z"/><path color="#b40426" d="M2608 1307l42 11 22-17-41-11z"/><path color="#b8122a" d="M4087 1349l40 16 24-15-40-17z"/><path color="#d65244" d="M1472 1675l56-6 24-55-55 4z"/><path color="#b40426" d="M3491 1308l38 10 22-18-37-10z"/><path color="#b40426" d="M2436 1308l43 12 23-18-43-12z"/><path color="#b40426" d="M3138 1311l38 9 22-17-38-9z"/><path color="#b40426" d="M2877 1311l40 10 22-16-40-11z"/><path color="#b40426" d="M3589 1310l38 11 22-18-38-11z"/><path color="#ee8669" d="M1291 2044l57-27 25-77-56 23z"/><path color="#b40426" d="M2189 1322l46 11 23-21-46-12z"/><path color="#b70d28" d="M3986 1335l39 14 23-16-39-15z"/><path color="#c9d7f0" d="M1010 3355l52-102 31-141-52 94z"/><path color="#f7b99e" d="M1160 2522l55-54 27-101-55 49z"/><path color="#cc403a" d="M1576 1563l55 0 24-46-55-2z"/><path color="#b40426" d="M3687 1313l38 11 22-18-38-11z"/><path color="#b40426" d="M3236 1313l38 10 22-18-38-10z"/><path color="#b50927" d="M3885 1325l39 13 23-17-39-14z"/><path color="#b40426" d="M3786 1318l38 12 23-18-39-12z"/><path color="#f29072" d="M1266 2129l56-32 26-80-57 27z"/><path color="#bd1f2d" d="M4232 1387l41 19 23-12-41-20z"/><path color="#b40426" d="M2713 1312l40 11 22-17-40-10z"/><path color="#c0282f" d="M1755 1438l52 6 23-35-52-8z"/><path color="#f7af91" d="M1187 2416l55-49 27-95-55 43z"/><path color="#b40426" d="M2978 1315l39 10 22-17-39-10z"/><path color="#c32e31" d="M4380 1438l43 23 23-7-43-25z"/><path color="#b50927" d="M2120 1333l46 12 23-23-47-12z"/><path color="#f49a7b" d="M1240 2219l56-37 26-85-56 32z"/><path color="#f6a586" d="M1214 2315l55-43 27-90-56 37z"/><path color="#b40426" d="M2370 1315l44 12 22-19-44-12z"/><path color="#b40426" d="M3334 1315l37 9 23-17-38-10z"/><path color="#b40426" d="M2544 1313l42 11 22-17-42-11z"/><path color="#da5a49" d="M1448 1736l55-10 25-57-56 6z"/><path color="#bd1f2d" d="M1830 1409l51 8 23-32-50-9z"/><path color="#b70d28" d="M2049 1347l48 11 23-25-48-11z"/><path color="#b40426" d="M3077 1318l39 10 22-17-39-10z"/><path color="#b40426" d="M3431 1316l38 10 22-18-38-10z"/><path color="#cd423b" d="M4578 1535l46 30 23 0-45-31z"/><path color="#b40426" d="M2816 1317l39 11 22-17-39-10z"/><path color="#ba162b" d="M4127 1365l41 17 23-14-40-18z"/><path color="#b8122a" d="M1977 1364l49 10 23-27-49-10z"/><path color="#ba162b" d="M1904 1385l50 9 23-30-49-10z"/><path color="#b40426" d="M3529 1318l37 10 23-18-38-10z"/><path color="#b40426" d="M2303 1324l44 11 23-20-44-11z"/><path color="#b40426" d="M3176 1320l38 10 22-17-38-10z"/><path color="#c73635" d="M1655 1517l53 2 23-42-53-4z"/><path color="#b40426" d="M2650 1318l41 11 22-17-41-11z"/><path color="#b70d28" d="M4025 1349l39 15 23-15-39-16z"/><path color="#b40426" d="M3627 1321l37 10 23-18-38-10z"/><path color="#b40426" d="M2479 1320l43 11 22-18-42-11z"/><path color="#b40426" d="M2917 1321l39 11 22-17-39-10z"/><path color="#d5dbe5" d="M1041 3206l52-94 31-133-53 86z"/><path color="#d0473d" d="M1552 1614l54-3 25-48-55 0z"/><path color="#be242e" d="M4273 1406l42 20 23-11-42-21z"/><path color="#c43032" d="M4423 1461l43 24 24-6-44-25z"/><path color="#b40426" d="M3725 1324l38 12 23-18-39-12z"/><path color="#b50927" d="M3924 1338l39 13 23-16-39-14z"/><path color="#b40426" d="M3824 1330l38 12 23-17-38-13z"/><path color="#b40426" d="M3274 1323l37 9 23-17-38-10z"/><path color="#df634e" d="M1423 1800l56-13 24-61-55 10z"/><path color="#b40426" d="M2235 1333l45 12 23-21-45-12z"/><path color="#d0473d" d="M4624 1565l46 31 23 3-46-34z"/><path color="#b40426" d="M2753 1323l40 11 23-17-41-11z"/><path color="#b40426" d="M3017 1325l38 10 22-17-38-10z"/><path color="#b40426" d="M3371 1324l38 10 22-18-37-9z"/><path color="#c32e31" d="M1731 1477l52 5 24-38-52-6z"/><path color="#ba162b" d="M4168 1382l41 17 23-12-41-19z"/><path color="#b40426" d="M2586 1324l41 12 23-18-42-11z"/><path color="#b40426" d="M2414 1327l43 11 22-18-43-12z"/><path color="#b50927" d="M2166 1345l46 11 23-23-46-11z"/><path color="#b40426" d="M3469 1326l37 10 23-18-38-10z"/><path color="#b40426" d="M3116 1328l38 10 22-18-38-9z"/><path color="#b40426" d="M2855 1328l40 10 22-17-40-10z"/><path color="#e0dbd8" d="M1071 3065l53-86 30-125-53 77z"/><path color="#c73635" d="M4466 1485l44 26 24-4-44-28z"/><path color="#b40426" d="M3566 1328l38 11 23-18-38-11z"/><path color="#e36c55" d="M1398 1868l56-16 25-65-56 13z"/><path color="#b8122a" d="M4064 1364l40 16 23-15-40-16z"/><path color="#c0282f" d="M4315 1426l42 21 23-9-42-23z"/><path color="#c0282f" d="M1807 1444l51 7 23-34-51-8z"/><path color="#b70d28" d="M2097 1358l46 11 23-24-46-12z"/><path color="#b40426" d="M3214 1330l38 10 22-17-38-10z"/><path color="#d44e41" d="M1528 1669l54-6 24-52-54 3z"/><path color="#b40426" d="M3664 1331l38 11 23-18-38-11z"/><path color="#cb3e38" d="M1631 1563l53 0 24-44-53-2z"/><path color="#b40426" d="M2691 1329l40 11 22-17-40-11z"/><path color="#b50927" d="M3963 1351l39 14 23-16-39-14z"/><path color="#b40426" d="M3763 1336l38 11 23-17-38-12z"/><path color="#b40426" d="M2347 1335l44 11 23-19-44-12z"/><path color="#b40426" d="M2956 1332l39 10 22-17-39-10z"/><path color="#b70d28" d="M2026 1374l48 10 23-26-48-11z"/><path color="#b50927" d="M3862 1342l39 13 23-17-39-13z"/><path color="#bb1b2c" d="M1881 1417l50 8 23-31-50-9z"/><path color="#b40426" d="M2522 1331l42 11 22-18-42-11z"/><path color="#ba162b" d="M1954 1394l49 9 23-29-49-10z"/><path color="#b40426" d="M3311 1332l38 10 22-18-37-9z"/><path color="#e8765c" d="M1373 1940l55-20 26-68-56 16z"/><path color="#b40426" d="M3055 1335l38 10 23-17-39-10z"/><path color="#bb1b2c" d="M4209 1399l41 19 23-12-41-19z"/><path color="#b40426" d="M2793 1334l40 11 22-17-39-11z"/><path color="#b40426" d="M3409 1334l38 10 22-18-38-10z"/><path color="#ead5c9" d="M1101 2931l53-77 29-119-53 70z"/><path color="#d55042" d="M4717 1629l49 34 23 8-48-37z"/><path color="#b40426" d="M2280 1345l45 11 22-21-44-11z"/><path color="#b40426" d="M3506 1336l38 10 22-18-37-10z"/><path color="#ef886b" d="M5156 1992l58 57 22 38-58-62z"/><path color="#b40426" d="M2627 1336l41 11 23-18-41-11z"/><path color="#c12b30" d="M4357 1447l43 22 23-8-43-23z"/><path color="#b40426" d="M3154 1338l38 10 22-18-38-10z"/><path color="#c53334" d="M1708 1519l51 3 24-40-52-5z"/><path color="#b40426" d="M2457 1338l42 12 23-19-43-11z"/><path color="#b8122a" d="M4104 1380l41 16 23-14-41-17z"/><path color="#d85646" d="M1503 1726l55-8 24-55-54 6z"/><path color="#b40426" d="M2895 1338l39 10 22-16-39-11z"/><path color="#ec7f63" d="M1348 2017l55-25 25-72-55 20z"/><path color="#b40426" d="M3604 1339l38 10 22-18-37-10z"/><path color="#f29072" d="M5214 2049l60 60 21 43-59-65z"/><path color="#b50927" d="M2212 1356l46 11 22-22-45-12z"/><path color="#f0cdbb" d="M1130 2805l53-70 29-112-53 63z"/><path color="#b40426" d="M3702 1342l39 12 22-18-38-12z"/><path color="#b70d28" d="M4002 1365l40 15 22-16-39-15z"/><path color="#b40426" d="M3252 1340l37 10 22-18-37-9z"/><path color="#f4987a" d="M5274 2109l61 64 21 47-61-68z"/><path color="#cf453c" d="M1606 1611l53-2 25-46-53 0z"/><path color="#b40426" d="M3801 1347l39 12 22-17-38-12z"/><path color="#b50927" d="M3901 1355l39 13 23-17-39-13z"/><path color="#b40426" d="M2731 1340l40 11 22-17-40-11z"/><path color="#f5a081" d="M5335 2173l63 67 21 54-63-74z"/><path color="#b40426" d="M2995 1342l38 10 22-17-38-10z"/><path color="#ef886b" d="M1322 2097l55-29 26-76-55 25z"/><path color="#c12b30" d="M1783 1482l51 5 24-36-51-7z"/><path color="#b40426" d="M3349 1342l38 10 22-18-38-10z"/><path color="#b50927" d="M2143 1369l46 10 23-23-46-11z"/><path color="#b9d0f9" d="M997 3560l49-114 34-149-50 105z"/><path color="#cb3e38" d="M4555 1537l46 28 23 0-46-30z"/><path color="#b40426" d="M2391 1346l43 12 23-20-43-11z"/><path color="#bd1f2d" d="M4250 1418l42 19 23-11-42-20z"/><path color="#b40426" d="M2564 1342l41 11 22-17-41-12z"/><path color="#f4c5ad" d="M1159 2686l53-63 29-105-54 56z"/><path color="#b40426" d="M3093 1345l39 10 22-17-38-10z"/><path color="#f29274" d="M1296 2182l54-34 27-80-55 29z"/><path color="#b40426" d="M3447 1344l37 10 22-18-37-10z"/><path color="#c32e31" d="M4400 1469l43 23 23-7-43-24z"/><path color="#b70d28" d="M2074 1384l46 10 23-25-46-11z"/><path color="#be242e" d="M1858 1451l49 6 24-32-50-8z"/><path color="#b40426" d="M2833 1345l40 10 22-17-40-10z"/><path color="#f7ba9f" d="M1187 2574l54-56 28-101-54 51z"/><path color="#dd5f4b" d="M1479 1787l54-11 25-58-55 8z"/><path color="#b8122a" d="M2003 1403l47 9 24-28-48-10z"/><path color="#bb1b2c" d="M1931 1425l48 7 24-29-49-9z"/><path color="#f59d7e" d="M1269 2272l55-39 26-85-54 34z"/><path color="#da5a49" d="M4815 1700l50 38 23 13-50-41z"/><path color="#b40426" d="M3544 1346l38 11 22-18-38-11z"/><path color="#ba162b" d="M4145 1396l41 17 23-14-41-17z"/><path color="#f7b194" d="M1215 2468l54-51 27-94-54 44z"/><path color="#f7a688" d="M1242 2367l54-44 28-90-55 39z"/><path color="#b40426" d="M3192 1348l38 9 22-17-38-10z"/><path color="#b40426" d="M2325 1356l44 11 22-21-44-11z"/><path color="#b40426" d="M2668 1347l41 11 22-18-40-11z"/><path color="#b40426" d="M3642 1349l38 11 22-18-38-11z"/><path color="#ca3b37" d="M1684 1563l51 0 24-41-51-3z"/><path color="#b40426" d="M2934 1348l39 11 22-17-39-10z"/><path color="#b40426" d="M2499 1350l42 11 23-19-42-11z"/><path color="#b70d28" d="M4042 1380l40 15 22-15-40-16z"/><path color="#b40426" d="M3741 1354l38 11 22-18-38-11z"/><path color="#cc403a" d="M4601 1565l46 29 23 2-46-31z"/><path color="#b40426" d="M3289 1350l38 10 22-18-38-10z"/><path color="#b50927" d="M3940 1368l39 13 23-16-39-14z"/><path color="#b40426" d="M3840 1359l39 13 22-17-39-13z"/><path color="#d24b40" d="M1582 1663l53-5 24-49-53 2z"/><path color="#be242e" d="M4292 1437l42 20 23-10-42-21z"/><path color="#dd5f4b" d="M4865 1738l51 40 23 16-51-43z"/><path color="#b40426" d="M3033 1352l38 10 22-17-38-10z"/><path color="#b50927" d="M2258 1367l44 10 23-21-45-11z"/><path color="#b40426" d="M2771 1351l40 11 22-17-40-11z"/><path color="#b40426" d="M3387 1352l38 10 22-18-38-10z"/><path color="#c9d7f0" d="M1030 3402l50-105 32-140-50 96z"/><path color="#c43032" d="M4443 1492l44 24 23-5-44-26z"/><path color="#e16751" d="M1454 1852l53-15 26-61-54 11z"/><path color="#b40426" d="M2605 1353l41 12 22-18-41-11z"/><path color="#c43032" d="M1759 1522l51 3 24-38-51-5z"/><path color="#b40426" d="M2434 1358l43 11 22-19-42-12z"/><path color="#b40426" d="M3484 1354l38 10 22-18-38-10z"/><path color="#b40426" d="M3132 1355l38 10 22-17-38-10z"/><path color="#b50927" d="M2189 1379l46 11 23-23-46-11z"/><path color="#ba162b" d="M4186 1413l41 17 23-12-41-19z"/><path color="#b40426" d="M2873 1355l39 11 22-18-39-10z"/><path color="#cf453c" d="M4647 1594l48 31 22 4-47-33z"/><path color="#b40426" d="M3582 1357l38 10 22-18-38-10z"/><path color="#b40426" d="M3230 1357l37 10 22-17-37-10z"/><path color="#c0282f" d="M1834 1487l50 5 23-35-49-6z"/><path color="#b70d28" d="M2120 1394l47 10 22-25-46-10z"/><path color="#b40426" d="M3680 1360l38 11 23-17-39-12z"/><path color="#b8122a" d="M4082 1395l40 15 23-14-41-16z"/><path color="#b40426" d="M2709 1358l40 10 22-17-40-11z"/><path color="#b40426" d="M2973 1359l38 10 22-17-38-10z"/><path color="#e46e56" d="M1428 1920l54-19 25-64-53 15z"/><path color="#b40426" d="M3779 1365l38 12 23-18-39-12z"/><path color="#d65244" d="M1558 1718l52-8 25-52-53 5z"/><path color="#cc403a" d="M1659 1609l52-1 24-45-51 0z"/><path color="#b50927" d="M3979 1381l40 14 23-15-40-15z"/><path color="#b40426" d="M2369 1367l43 11 22-20-43-12z"/><path color="#c0282f" d="M4334 1457l43 20 23-8-43-22z"/><path color="#b50927" d="M3879 1372l39 12 22-16-39-13z"/><path color="#b8122a" d="M2050 1412l47 9 23-27-46-10z"/><path color="#b40426" d="M3327 1360l38 10 22-18-38-10z"/><path color="#bd1f2d" d="M1907 1457l49 7 23-32-48-7z"/><path color="#b40426" d="M2541 1361l42 11 22-19-41-11z"/><path color="#c53334" d="M4487 1516l45 25 23-4-45-26z"/><path color="#ba162b" d="M1979 1432l48 8 23-28-47-9z"/><path color="#d5dbe5" d="M1062 3253l50-96 32-133-51 88z"/><path color="#b40426" d="M3071 1362l39 10 22-17-39-10z"/><path color="#b40426" d="M3425 1362l37 10 22-18-37-10z"/><path color="#b40426" d="M2811 1362l39 10 23-17-40-10z"/><path color="#b40426" d="M2302 1377l44 11 23-21-44-11z"/><path color="#bb1b2c" d="M4227 1430l42 18 23-11-42-19z"/><path color="#b40426" d="M3522 1364l38 11 22-18-38-11z"/><path color="#e9785d" d="M1403 1992l53-23 26-68-54 19z"/><path color="#b40426" d="M3170 1365l38 10 22-18-38-9z"/><path color="#b40426" d="M2646 1365l41 10 22-17-41-11z"/><path color="#b40426" d="M2477 1369l42 11 22-19-42-11z"/><path color="#b40426" d="M2912 1366l38 10 23-17-39-11z"/><path color="#c73635" d="M1735 1563l51 2 24-40-51-3z"/><path color="#b40426" d="M3620 1367l38 11 22-18-38-11z"/><path color="#b8122a" d="M4122 1410l41 16 23-13-41-17z"/><path color="#e0dbd8" d="M1093 3112l51-88 31-124-51 79z"/><path color="#b40426" d="M3267 1367l38 10 22-17-38-10z"/><path color="#c12b30" d="M4377 1477l43 22 23-7-43-23z"/><path color="#d95847" d="M1533 1776l52-11 25-55-52 8z"/><path color="#b40426" d="M3718 1371l39 12 22-18-38-11z"/><path color="#b50927" d="M2235 1390l44 10 23-23-44-10z"/><path color="#b70d28" d="M4019 1395l40 15 23-15-40-15z"/><path color="#b40426" d="M3817 1377l39 12 23-17-39-13z"/><path color="#b40426" d="M3011 1369l38 10 22-17-38-10z"/><path color="#b50927" d="M3918 1384l39 14 22-17-39-13z"/><path color="#b40426" d="M2749 1368l40 11 22-17-40-11z"/><path color="#ec8165" d="M1377 2068l53-27 26-72-53 23z"/><path color="#d0473d" d="M1635 1658l52-3 24-47-52 1z"/><path color="#e9785d" d="M5078 1912l56 50 22 30-56-54z"/><path color="#b40426" d="M3365 1370l38 10 22-18-38-10z"/><path color="#c32e31" d="M1810 1525l50 3 24-36-50-5z"/><path color="#b70d28" d="M2167 1404l45 10 23-24-46-11z"/><path color="#b40426" d="M2412 1378l42 11 23-20-43-11z"/><path color="#b40426" d="M2583 1372l41 11 22-18-41-12z"/><path color="#b40426" d="M3110 1372l38 10 22-17-38-10z"/><path color="#b40426" d="M3462 1372l38 10 22-18-38-10z"/><path color="#ead5c9" d="M1124 2979l51-79 30-118-51 72z"/><path color="#bd1f2d" d="M4269 1448l42 19 23-10-42-20z"/><path color="#b40426" d="M2850 1372l40 11 22-17-39-11z"/><path color="#b8122a" d="M2097 1421l46 9 24-26-47-10z"/><path color="#f08b6e" d="M1350 2148l54-31 26-76-53 27z"/><path color="#c0282f" d="M1884 1492l48 5 24-33-49-7z"/><path color="#ec7f63" d="M5134 1962l59 52 21 35-58-57z"/><path color="#b40426" d="M3560 1375l38 10 22-18-38-10z"/><path color="#ba162b" d="M2027 1440l47 9 23-28-47-9z"/><path color="#bd1f2d" d="M1956 1464l48 7 23-31-48-8z"/><path color="#b40426" d="M3208 1375l37 10 22-18-37-10z"/><path color="#de614d" d="M1507 1837l53-14 25-58-52 11z"/><path color="#b40426" d="M2687 1375l40 11 22-18-40-10z"/><path color="#a9c6fd" d="M977 3772l48-127 36-158-49 117z"/><path color="#b40426" d="M2346 1388l43 11 23-21-43-11z"/><path color="#c32e31" d="M4420 1499l45 22 22-5-44-24z"/><path color="#b40426" d="M3658 1378l38 11 22-18-38-11z"/><path color="#ba162b" d="M4163 1426l41 17 23-13-41-17z"/><path color="#b40426" d="M2950 1376l39 10 22-17-38-10z"/><path color="#f0cdbb" d="M1154 2854l51-72 30-112-52 65z"/><path color="#f39475" d="M1324 2233l53-36 27-80-54 31z"/><path color="#b40426" d="M2519 1380l41 11 23-19-42-11z"/><path color="#ee8669" d="M5193 2014l59 56 22 39-60-60z"/><path color="#b40426" d="M3305 1377l38 10 22-17-38-10z"/><path color="#b40426" d="M3757 1383l38 11 22-17-38-12z"/><path color="#cb3e38" d="M1711 1608l51-1 24-42-51-2z"/><path color="#b70d28" d="M4059 1410l41 14 22-14-40-15z"/><path color="#b40426" d="M3856 1389l39 12 23-17-39-12z"/><path color="#b50927" d="M3957 1398l40 13 22-16-40-14z"/><path color="#f59f80" d="M1296 2323l53-42 28-84-53 36z"/><path color="#f4c5ad" d="M1183 2735l52-65 29-105-52 58z"/><path color="#b40426" d="M3049 1379l39 11 22-18-39-10z"/><path color="#d44e41" d="M1610 1710l52-6 25-49-52 3z"/><path color="#b40426" d="M2789 1379l39 11 22-18-39-10z"/><path color="#b40426" d="M3403 1380l37 10 22-18-37-10z"/><path color="#f18d6f" d="M5252 2070l62 59 21 44-61-64z"/><path color="#b50927" d="M2279 1400l44 10 23-22-44-11z"/><path color="#f7a889" d="M1269 2417l52-46 28-90-53 42z"/><path color="#f7bca1" d="M1212 2623l52-58 29-100-52 53z"/><path color="#f7b396" d="M1241 2518l52-53 28-94-52 46z"/><path color="#be242e" d="M4311 1467l43 19 23-9-43-20z"/><path color="#b40426" d="M2624 1383l40 11 23-19-41-10z"/><path color="#b40426" d="M3500 1382l38 11 22-18-38-11z"/><path color="#b40426" d="M3148 1382l38 10 22-17-38-10z"/><path color="#b40426" d="M2454 1389l42 10 23-19-42-11z"/><path color="#cc403a" d="M4625 1594l47 29 23 2-48-31z"/><path color="#f39577" d="M5314 2129l64 63 20 48-63-67z"/><path color="#e26952" d="M1482 1901l53-17 25-61-53 14z"/><path color="#c53334" d="M1786 1565l50 1 24-38-50-3z"/><path color="#b40426" d="M2890 1383l38 10 22-17-38-10z"/><path color="#b70d28" d="M2212 1414l44 9 23-23-44-10z"/><path color="#c43032" d="M4465 1521l45 24 22-4-45-25z"/><path color="#b40426" d="M3598 1385l38 11 22-18-38-11z"/><path color="#b40426" d="M3245 1385l38 10 22-18-38-10z"/><path color="#ba162b" d="M4204 1443l42 17 23-12-42-18z"/><path color="#b40426" d="M3696 1389l38 11 23-17-39-12z"/><path color="#bad0f8" d="M1012 3604l49-117 34-148-49 107z"/><path color="#b40426" d="M2727 1386l40 11 22-18-40-11z"/><path color="#b70d28" d="M2143 1430l46 9 23-25-45-10z"/><path color="#b40426" d="M2989 1386l39 11 21-18-38-10z"/><path color="#c12b30" d="M1860 1528l48 4 24-35-48-5z"/><path color="#b40426" d="M3795 1394l39 12 22-17-39-12z"/><path color="#b8122a" d="M4100 1424l41 16 22-14-41-16z"/><path color="#b40426" d="M3343 1387l38 10 22-17-38-10z"/><path color="#b40426" d="M2389 1399l43 10 22-20-42-11z"/><path color="#b50927" d="M3895 1401l40 13 22-16-39-14z"/><path color="#b40426" d="M2560 1391l41 10 23-18-41-11z"/><path color="#b50927" d="M3997 1411l40 14 22-15-40-15z"/><path color="#ba162b" d="M2074 1449l46 8 23-27-46-9z"/><path color="#cd423b" d="M1687 1655l50-3 25-45-51 1z"/><path color="#be242e" d="M1932 1497l48 6 24-32-48-7z"/><path color="#d75445" d="M1585 1765l52-9 25-52-52 6z"/><path color="#bb1b2c" d="M2004 1471l47 7 23-29-47-9z"/><path color="#b40426" d="M3088 1390l38 10 22-18-38-10z"/><path color="#e67259" d="M1456 1969l53-21 26-64-53 17z"/><path color="#cf453c" d="M4672 1623l48 30 23 4-48-32z"/><path color="#b40426" d="M3440 1390l38 10 22-18-38-10z"/><path color="#b40426" d="M2828 1390l39 10 23-17-40-11z"/><path color="#b40426" d="M3538 1393l38 10 22-18-38-10z"/><path color="#b50927" d="M2323 1410l43 10 23-21-43-11z"/><path color="#b40426" d="M3186 1392l38 11 21-18-37-10z"/><path color="#b40426" d="M2664 1394l41 10 22-18-40-11z"/><path color="#b40426" d="M2928 1393l39 11 22-18-39-10z"/><path color="#b40426" d="M2496 1399l42 11 22-19-41-11z"/><path color="#b40426" d="M3636 1396l38 11 22-18-38-11z"/><path color="#bb1b2c" d="M4246 1460l43 18 22-11-42-19z"/><path color="#c9d7f0" d="M1046 3446l49-107 34-140-49 98z"/><path color="#b40426" d="M3283 1395l38 10 22-18-38-10z"/><path color="#c83836" d="M1762 1607l49 0 25-41-50-1z"/><path color="#b40426" d="M3734 1400l39 11 22-17-38-11z"/><path color="#e97a5f" d="M1430 2041l52-25 27-68-53 21z"/><path color="#b50927" d="M2256 1423l44 10 23-23-44-10z"/><path color="#b8122a" d="M4141 1440l41 16 22-13-41-17z"/><path color="#b40426" d="M3028 1397l38 10 22-17-39-11z"/><path color="#d1493f" d="M4720 1653l50 31 22 7-49-34z"/><path color="#b40426" d="M2767 1397l39 11 22-18-39-11z"/><path color="#b40426" d="M3834 1406l39 12 22-17-39-12z"/><path color="#b40426" d="M3381 1397l37 11 22-18-37-10z"/><path color="#b70d28" d="M4037 1425l40 14 23-15-41-14z"/><path color="#b50927" d="M3935 1414l39 13 23-16-40-13z"/><path color="#da5a49" d="M1560 1823l52-12 25-55-52 9z"/><path color="#c12b30" d="M4398 1507l44 21 23-7-45-22z"/><path color="#b40426" d="M2601 1401l41 11 22-18-40-11z"/><path color="#b40426" d="M2432 1409l42 11 22-21-42-10z"/><path color="#d1493f" d="M1662 1704l50-5 25-47-50 3z"/><path color="#b70d28" d="M2189 1439l44 9 23-25-44-9z"/><path color="#b40426" d="M3126 1400l38 10 22-18-38-10z"/><path color="#c43032" d="M1836 1566l48 3 24-37-48-4z"/><path color="#b40426" d="M3478 1400l38 10 22-17-38-11z"/><path color="#c83836" d="M4555 1569l47 26 23-1-47-27z"/><path color="#b40426" d="M2867 1400l39 11 22-18-38-10z"/><path color="#ed8366" d="M1404 2117l52-29 26-72-52 25z"/><path color="#b8122a" d="M2120 1457l45 8 24-26-46-9z"/><path color="#d5dbe5" d="M1080 3297l49-98 33-132-50 90z"/><path color="#b40426" d="M3576 1403l38 10 22-17-38-11z"/><path color="#b40426" d="M3224 1403l37 10 22-18-38-10z"/><path color="#c0282f" d="M1908 1532l48 4 24-33-48-6z"/><path color="#bd1f2d" d="M4289 1478l43 18 22-10-43-19z"/><path color="#bb1b2c" d="M2051 1478l46 7 23-28-46-8z"/><path color="#bd1f2d" d="M1980 1503l47 6 24-31-47-7z"/><path color="#b40426" d="M2705 1404l39 11 23-18-40-11z"/><path color="#b40426" d="M2967 1404l38 10 23-17-39-11z"/><path color="#b40426" d="M3674 1407l38 10 22-17-38-11z"/><path color="#d44e41" d="M4770 1684l50 34 22 9-50-36z"/><path color="#b50927" d="M2366 1420l43 10 23-21-43-10z"/><path color="#b40426" d="M3321 1405l38 10 22-18-38-10z"/><path color="#b40426" d="M2538 1410l41 11 22-20-41-10z"/><path color="#b40426" d="M3773 1411l39 12 22-17-39-12z"/><path color="#ba162b" d="M4182 1456l42 16 22-12-42-17z"/><path color="#f18d6f" d="M1377 2197l52-33 27-76-52 29z"/><path color="#df634e" d="M1535 1884l51-15 26-58-52 12z"/><path color="#b40426" d="M3873 1418l40 12 22-16-40-13z"/><path color="#b40426" d="M3066 1407l38 10 22-17-38-10z"/><path color="#cc403a" d="M1737 1652l50-3 24-42-49 0z"/><path color="#b70d28" d="M4077 1439l41 15 23-14-41-16z"/><path color="#c32e31" d="M4442 1528l45 22 23-5-45-24z"/><path color="#b50927" d="M3974 1427l41 13 22-15-40-14z"/><path color="#b40426" d="M3418 1408l38 10 22-18-38-10z"/><path color="#b40426" d="M2806 1408l39 10 22-18-39-10z"/><path color="#e0dbd8" d="M1112 3157l50-90 32-124-50 81z"/><path color="#ca3b37" d="M4602 1595l48 27 22 1-47-29z"/><path color="#b50927" d="M2300 1433l43 10 23-23-43-10z"/><path color="#e8765c" d="M5113 1935l58 48 22 31-59-52z"/><path color="#d55042" d="M1637 1756l50-8 25-49-50 5z"/><path color="#b40426" d="M3164 1410l38 10 22-17-38-11z"/><path color="#b40426" d="M3516 1410l38 11 22-18-38-10z"/><path color="#f39577" d="M1349 2281l52-38 28-79-52 33z"/><path color="#b40426" d="M2642 1412l40 11 23-19-41-10z"/><path color="#b40426" d="M2474 1420l41 10 23-20-42-11z"/><path color="#b40426" d="M2906 1411l39 10 22-17-39-11z"/><path color="#e9d5cb" d="M1144 3024l50-81 31-118-50 75z"/><path color="#b40426" d="M3614 1413l38 11 22-17-38-11z"/><path color="#b70d28" d="M2233 1448l44 9 23-24-44-10z"/><path color="#be242e" d="M4332 1496l43 19 23-8-44-21z"/><path color="#b40426" d="M3261 1413l38 10 22-18-38-10z"/><path color="#c73635" d="M1811 1607l49 0 24-38-48-3z"/><path color="#f5a081" d="M1321 2371l52-43 28-85-52 38z"/><path color="#ea7b60" d="M5171 1983l60 52 21 35-59-56z"/><path color="#b40426" d="M3712 1417l39 12 22-18-39-11z"/><path color="#e36b54" d="M1509 1948l51-18 26-61-51 15z"/><path color="#b40426" d="M3005 1414l39 10 22-17-38-10z"/><path color="#b40426" d="M2744 1415l40 11 22-18-39-11z"/><path color="#f0cdbb" d="M1175 2900l50-75 31-110-51 67z"/><path color="#b40426" d="M3359 1415l38 10 21-17-37-11z"/><path color="#b8122a" d="M2165 1465l45 8 23-25-44-9z"/><path color="#ba162b" d="M4224 1472l42 17 23-11-43-18z"/><path color="#f7a98b" d="M1293 2465l52-48 28-89-52 43z"/><path color="#b40426" d="M3812 1423l39 12 22-17-39-12z"/><path color="#b40426" d="M2409 1430l42 10 23-20-42-11z"/><path color="#c32e31" d="M1884 1569l48 2 24-35-48-4z"/><path color="#c43032" d="M4487 1550l46 23 22-4-45-24z"/><path color="#cc403a" d="M4650 1622l48 28 22 3-48-30z"/><path color="#b40426" d="M2579 1421l40 10 23-19-41-11z"/><path color="#f4c6af" d="M1205 2782l51-67 30-105-51 60z"/><path color="#b50927" d="M3913 1430l39 13 22-16-39-13z"/><path color="#f7b396" d="M1264 2565l52-55 29-93-52 48z"/><path color="#b8122a" d="M4118 1454l42 15 22-13-41-16z"/><path color="#b40426" d="M3104 1417l38 10 22-17-38-10z"/><path color="#f6bda2" d="M1235 2670l51-60 30-100-52 55z"/><path color="#ba162b" d="M2097 1485l45 7 23-27-45-8z"/><path color="#b50927" d="M4015 1440l40 14 22-15-40-14z"/><path color="#b40426" d="M3456 1418l38 10 22-18-38-10z"/><path color="#c0282f" d="M1956 1536l47 5 24-32-47-6z"/><path color="#b40426" d="M2845 1418l39 11 22-18-39-11z"/><path color="#bd1f2d" d="M2027 1509l46 6 24-30-46-7z"/><path color="#ed8366" d="M5231 2035l62 54 21 40-62-59z"/><path color="#cf453c" d="M1712 1699l50-5 25-45-50 3z"/><path color="#d85646" d="M1612 1811l50-11 25-52-50 8z"/><path color="#b40426" d="M3554 1421l38 10 22-18-38-10z"/><path color="#b40426" d="M3202 1420l37 10 22-17-37-10z"/><path color="#b50927" d="M2343 1443l43 9 23-22-43-10z"/><path color="#b40426" d="M2682 1423l40 10 22-18-39-11z"/><path color="#b40426" d="M2945 1421l38 11 22-18-38-10z"/><path color="#be242e" d="M4375 1515l45 20 22-7-44-21z"/><path color="#e7745b" d="M1482 2016l51-22 27-64-51 18z"/><path color="#b40426" d="M3652 1424l39 11 21-18-38-10z"/><path color="#b40426" d="M2515 1430l41 10 23-19-41-11z"/><path color="#f08a6c" d="M5293 2089l64 58 21 45-64-63z"/><path color="#b40426" d="M3299 1423l38 10 22-18-38-10z"/><path color="#b40426" d="M3751 1429l39 11 22-17-39-12z"/><path color="#b40426" d="M3044 1424l38 11 22-18-38-10z"/><path color="#c53334" d="M4533 1573l47 24 22-2-47-26z"/><path color="#bb1b2c" d="M4266 1489l43 17 23-10-43-18z"/><path color="#b70d28" d="M2277 1457l43 9 23-23-43-10z"/><path color="#ca3b37" d="M1787 1649l48-1 25-41-49 0z"/><path color="#b40426" d="M2784 1426l39 10 22-18-39-10z"/><path color="#b40426" d="M3397 1425l37 10 22-17-38-10z"/><path color="#b40426" d="M3851 1435l40 12 22-17-40-12z"/><path color="#b8122a" d="M4160 1469l42 15 22-12-42-16z"/><path color="#b50927" d="M3952 1443l41 13 22-16-41-13z"/><path color="#b70d28" d="M4055 1454l41 14 22-14-41-15z"/><path color="#b40426" d="M2619 1431l41 11 22-19-40-11z"/><path color="#b40426" d="M3142 1427l38 11 22-18-38-10z"/><path color="#b40426" d="M2451 1440l41 11 23-21-41-10z"/><path color="#b40426" d="M3494 1428l38 10 22-17-38-11z"/><path color="#ea7b60" d="M1456 2088l51-26 26-68-51 22z"/><path color="#b8122a" d="M2210 1473l44 9 23-25-44-9z"/><path color="#b40426" d="M2884 1429l39 10 22-18-39-10z"/><path color="#dd5f4b" d="M1586 1869l50-14 26-55-50 11z"/><path color="#c53334" d="M1860 1607l48 1 24-37-48-2z"/><path color="#d24b40" d="M1687 1748l50-7 25-47-50 5z"/><path color="#b40426" d="M3592 1431l38 11 22-18-38-11z"/><path color="#b40426" d="M3239 1430l38 10 22-17-38-10z"/><path color="#c0282f" d="M4420 1535l45 21 22-6-45-22z"/><path color="#ba162b" d="M2142 1492l44 8 24-27-45-8z"/><path color="#b40426" d="M2722 1433l40 11 22-18-40-11z"/><path color="#b40426" d="M2983 1432l39 10 22-18-39-10z"/><path color="#c12b30" d="M1932 1571l47 3 24-33-47-5z"/><path color="#bbd1f8" d="M1025 3645l47-118 36-148-47 108z"/><path color="#b40426" d="M3691 1435l38 11 22-17-39-12z"/><path color="#bb1b2c" d="M2073 1515l45 6 24-29-45-7z"/><path color="#b50927" d="M2386 1452l42 10 23-22-42-10z"/><path color="#b40426" d="M3337 1433l38 10 22-18-38-10z"/><path color="#be242e" d="M2003 1541l46 5 24-31-46-6z"/><path color="#c73635" d="M4580 1597l47 25 23 0-48-27z"/><path color="#b40426" d="M2556 1440l41 11 22-20-40-10z"/><path color="#b40426" d="M3790 1440l39 11 22-16-39-12z"/><path color="#bd1f2d" d="M4309 1506l44 19 22-10-43-19z"/><path color="#ee8468" d="M1429 2164l50-31 28-71-51 26z"/><path color="#b40426" d="M3082 1435l38 10 22-18-38-10z"/><path color="#b40426" d="M3434 1435l38 11 22-18-38-10z"/><path color="#b40426" d="M2823 1436l39 10 22-17-39-11z"/><path color="#b40426" d="M3891 1447l39 12 22-16-39-13z"/><path color="#ba162b" d="M4202 1484l42 17 22-12-42-17z"/><path color="#b50927" d="M3993 1456l40 13 22-15-40-14z"/><path color="#b70d28" d="M4096 1468l42 14 22-13-42-15z"/><path color="#cc403a" d="M1762 1694l48-4 25-42-48 1z"/><path color="#b50927" d="M2320 1466l43 9 23-23-43-9z"/><path color="#b40426" d="M3180 1438l38 10 21-18-37-10z"/><path color="#e0654f" d="M1560 1930l50-17 26-58-50 14z"/><path color="#b40426" d="M3532 1438l38 11 22-18-38-10z"/><path color="#b40426" d="M2660 1442l40 10 22-19-40-10z"/><path color="#b40426" d="M2923 1439l38 10 22-17-38-11z"/><path color="#b40426" d="M2492 1451l42 10 22-21-41-10z"/><path color="#c9d7f0" d="M1061 3487l47-108 35-140-48 100z"/><path color="#f18d6f" d="M1401 2243l51-35 27-75-50 31z"/><path color="#c12b30" d="M4465 1556l46 22 22-5-46-23z"/><path color="#b40426" d="M3630 1442l39 10 22-17-39-11z"/><path color="#b40426" d="M3277 1440l38 10 22-17-38-10z"/><path color="#d65244" d="M1662 1800l49-9 26-50-50 7z"/><path color="#b70d28" d="M2254 1482l43 8 23-24-43-9z"/><path color="#b40426" d="M3022 1442l38 10 22-17-38-11z"/><path color="#b40426" d="M3729 1446l39 11 22-17-39-11z"/><path color="#c83836" d="M1835 1648l48-1 25-39-48-1z"/><path color="#b40426" d="M2762 1444l39 10 22-18-39-10z"/><path color="#b40426" d="M3375 1443l38 10 21-18-37-10z"/><path color="#bd1f2d" d="M4353 1525l45 19 22-9-45-20z"/><path color="#b8122a" d="M2186 1500l44 7 24-25-44-9z"/><path color="#b40426" d="M3829 1451l40 12 22-16-40-12z"/><path color="#f39778" d="M1373 2328l51-40 28-80-51 35z"/><path color="#b50927" d="M2428 1462l42 10 22-21-41-11z"/><path color="#b40426" d="M2597 1451l40 10 23-19-41-11z"/><path color="#b40426" d="M3120 1445l38 10 22-17-38-11z"/><path color="#d6dce4" d="M1095 3339l48-100 34-131-48 91z"/><path color="#b40426" d="M3472 1446l38 10 22-18-38-10z"/><path color="#c43032" d="M1908 1608l46 2 25-36-47-3z"/><path color="#b50927" d="M3930 1459l41 12 22-15-41-13z"/><path color="#ba162b" d="M4244 1501l43 16 22-11-43-17z"/><path color="#b40426" d="M2862 1446l39 11 22-18-39-10z"/><path color="#e36c55" d="M1533 1994l51-20 26-61-50 17z"/><path color="#bb1b2c" d="M2118 1521l45 6 23-27-44-8z"/><path color="#b50927" d="M4033 1469l41 13 22-14-41-14z"/><path color="#c0282f" d="M1979 1574l46 4 24-32-46-5z"/><path color="#bd1f2d" d="M2049 1546l45 5 24-30-45-6z"/><path color="#b40426" d="M3218 1448l37 10 22-18-38-10z"/><path color="#b40426" d="M3570 1449l38 10 22-17-38-11z"/><path color="#f5a081" d="M1345 2417l50-45 29-84-51 40z"/><path color="#c32e31" d="M4511 1578l47 22 22-3-47-24z"/><path color="#d0473d" d="M1737 1741l48-6 25-45-48 4z"/><path color="#b40426" d="M2700 1452l39 10 23-18-40-11z"/><path color="#b40426" d="M2961 1449l39 11 22-18-39-10z"/><path color="#b50927" d="M2363 1475l42 9 23-22-42-10z"/><path color="#e0dbd8" d="M1129 3199l48-91 33-124-48 83z"/><path color="#b40426" d="M3669 1452l38 11 22-17-38-11z"/><path color="#b40426" d="M3315 1450l38 11 22-18-38-10z"/><path color="#d95847" d="M1636 1855l49-12 26-52-49 9z"/><path color="#b40426" d="M2534 1461l40 10 23-20-41-11z"/><path color="#f7aa8c" d="M1316 2510l50-50 29-88-50 45z"/><path color="#b40426" d="M3060 1452l38 11 22-18-38-10z"/><path color="#b40426" d="M3768 1457l39 11 22-17-39-11z"/><path color="#ead5c9" d="M1162 3067l48-83 33-117-49 76z"/><path color="#b40426" d="M2801 1454l39 11 22-19-39-10z"/><path color="#b40426" d="M3413 1453l37 10 22-17-38-11z"/><path color="#be242e" d="M4398 1544l45 19 22-7-45-21z"/><path color="#f7b497" d="M1286 2610l50-57 30-93-50 50z"/><path color="#b70d28" d="M2297 1490l43 8 23-23-43-9z"/><path color="#e7745b" d="M1507 2062l50-24 27-64-51 20z"/><path color="#b40426" d="M3869 1463l40 12 21-16-39-12z"/><path color="#f0cdbb" d="M1194 2943l49-76 31-111-49 69z"/><path color="#f6bda2" d="M1256 2715l49-63 31-99-50 57z"/><path color="#cb3e38" d="M1810 1690l48-2 25-41-48 1z"/><path color="#b40426" d="M3158 1455l38 10 22-17-38-10z"/><path color="#f4c6af" d="M1225 2825l49-69 31-104-49 63z"/><path color="#e9785d" d="M5210 2003l62 51 21 35-62-54z"/><path color="#b40426" d="M2637 1461l40 10 23-19-40-10z"/><path color="#b40426" d="M3510 1456l38 10 22-17-38-11z"/><path color="#bb1b2c" d="M4287 1517l44 18 22-10-44-19z"/><path color="#b50927" d="M3971 1471l40 13 22-15-40-13z"/><path color="#b50927" d="M2470 1472l41 9 23-20-42-10z"/><path color="#b40426" d="M2901 1457l38 10 22-18-38-10z"/><path color="#b70d28" d="M4074 1482l42 14 22-14-42-14z"/><path color="#b8122a" d="M4180 1497l42 16 22-12-42-17z"/><path color="#b8122a" d="M2230 1507l43 8 24-25-43-8z"/><path color="#b40426" d="M3255 1458l38 10 22-18-38-10z"/><path color="#b40426" d="M3608 1459l39 11 22-18-39-10z"/><path color="#c73635" d="M1883 1647l47 0 24-37-46-2z"/><path color="#b40426" d="M3000 1460l38 10 22-18-38-10z"/><path color="#b40426" d="M2739 1462l39 11 23-19-39-10z"/><path color="#ba162b" d="M2163 1527l43 7 24-27-44-7z"/><path color="#d44e41" d="M1711 1791l49-9 25-47-48 6z"/><path color="#dd5f4b" d="M1610 1913l49-16 26-54-49 12z"/><path color="#b40426" d="M3707 1463l39 11 22-17-39-11z"/><path color="#b40426" d="M3353 1461l38 10 22-18-38-10z"/><path color="#eb7d62" d="M1479 2133l50-28 28-67-50 24z"/><path color="#b50927" d="M2405 1484l41 9 24-21-42-10z"/><path color="#c32e31" d="M1954 1610l46 2 25-34-46-4z"/><path color="#bd1f2d" d="M2094 1551l45 5 24-29-45-6z"/><path color="#b40426" d="M2574 1471l40 9 23-19-40-10z"/><path color="#be242e" d="M2025 1578l45 4 24-31-45-5z"/><path color="#b40426" d="M3098 1463l38 10 22-18-38-10z"/><path color="#c0282f" d="M4443 1563l46 21 22-6-46-22z"/><path color="#b40426" d="M3807 1468l40 12 22-17-40-12z"/><path color="#b40426" d="M3450 1463l39 11 21-18-38-10z"/><path color="#b40426" d="M2840 1465l38 10 23-18-39-11z"/><path color="#b40426" d="M3909 1475l40 12 22-16-41-12z"/><path color="#b40426" d="M3196 1465l38 11 21-18-37-10z"/><path color="#bb1b2c" d="M4331 1535l45 17 22-8-45-19z"/><path color="#b40426" d="M3548 1466l39 11 21-18-38-10z"/><path color="#b50927" d="M4011 1484l41 13 22-15-41-13z"/><path color="#b70d28" d="M2340 1498l42 9 23-23-42-9z"/><path color="#b40426" d="M2677 1471l40 10 22-19-39-10z"/><path color="#b8122a" d="M4222 1513l43 16 22-12-43-16z"/><path color="#b70d28" d="M4116 1496l42 15 22-14-42-15z"/><path color="#b40426" d="M2939 1467l39 10 22-17-39-11z"/><path color="#c73635" d="M4605 1624l49 24 22 1-49-27z"/><path color="#cd423b" d="M1785 1735l48-5 25-42-48 2z"/><path color="#b40426" d="M2511 1481l40 10 23-20-40-10z"/><path color="#ee8669" d="M1452 2208l49-32 28-71-50 28z"/><path color="#b40426" d="M3293 1468l38 10 22-17-38-11z"/><path color="#b40426" d="M3647 1470l39 11 21-18-38-11z"/><path color="#e16751" d="M1584 1974l49-19 26-58-49 16z"/><path color="#b40426" d="M3038 1470l38 10 22-17-38-11z"/><path color="#b8122a" d="M2273 1515l43 8 24-25-43-8z"/><path color="#b40426" d="M2778 1473l39 10 23-18-39-11z"/><path color="#b40426" d="M3391 1471l38 10 21-18-37-10z"/><path color="#b40426" d="M3746 1474l40 11 21-17-39-11z"/><path color="#d75445" d="M1685 1843l49-11 26-50-49 9z"/><path color="#c83836" d="M1858 1688l47-2 25-39-47 0z"/><path color="#b40426" d="M3136 1473l38 10 22-18-38-10z"/><path color="#b40426" d="M3847 1480l40 11 22-16-40-12z"/><path color="#b40426" d="M2614 1480l40 10 23-19-40-10z"/><path color="#b50927" d="M2446 1493l42 10 23-22-41-9z"/><path color="#ba162b" d="M2206 1534l44 7 23-26-43-8z"/><path color="#b40426" d="M3489 1474l38 10 21-18-38-10z"/><path color="#b40426" d="M2878 1475l39 10 22-18-38-10z"/><path color="#f18f71" d="M1424 2288l49-37 28-75-49 32z"/><path color="#b50927" d="M3949 1487l40 13 22-16-40-13z"/><path color="#bd1f2d" d="M4376 1552l45 19 22-8-45-19z"/><path color="#b40426" d="M3234 1476l37 10 22-18-38-10z"/><path color="#c43032" d="M1930 1647l46 0 24-35-46-2z"/><path color="#bb1b2c" d="M2139 1556l44 6 23-28-43-7z"/><path color="#b40426" d="M3587 1477l38 10 22-17-39-11z"/><path color="#b50927" d="M4052 1497l42 14 22-15-42-14z"/><path color="#ba162b" d="M4265 1529l44 16 22-10-44-18z"/><path color="#b70d28" d="M4158 1511l42 14 22-12-42-16z"/><path color="#be242e" d="M2070 1582l45 4 24-30-45-5z"/><path color="#c12b30" d="M2000 1612l46 2 24-32-45-4z"/><path color="#b40426" d="M2978 1477l38 11 22-18-38-10z"/><path color="#b40426" d="M2717 1481l39 10 22-18-39-11z"/><path color="#b40426" d="M3331 1478l38 11 22-18-38-10z"/><path color="#b50927" d="M2382 1507l41 9 23-23-41-9z"/><path color="#b40426" d="M3686 1481l39 10 21-17-39-11z"/><path color="#e46e56" d="M1557 2038l49-22 27-61-49 19z"/><path color="#b40426" d="M2551 1491l41 10 22-21-40-9z"/><path color="#f4987a" d="M1395 2372l49-42 29-79-49 37z"/><path color="#d1493f" d="M1760 1782l47-7 26-45-48 5z"/><path color="#b40426" d="M3076 1480l38 10 22-17-38-10z"/><path color="#b40426" d="M3429 1481l38 10 22-17-39-11z"/><path color="#b40426" d="M3786 1485l39 12 22-17-40-12z"/><path color="#b40426" d="M2817 1483l39 10 22-18-38-10z"/><path color="#da5a49" d="M1659 1897l48-13 27-52-49 11z"/><path color="#b70d28" d="M2316 1523l42 8 24-24-42-9z"/><path color="#b40426" d="M3174 1483l38 10 22-17-38-11z"/><path color="#b40426" d="M3887 1491l40 12 22-16-40-12z"/><path color="#b40426" d="M3527 1484l38 10 22-17-39-11z"/><path color="#b40426" d="M2654 1490l40 10 23-19-40-10z"/><path color="#f6a283" d="M1366 2460l49-47 29-83-49 42z"/><path color="#e26952" d="M5129 1931l60 44 21 28-60-47z"/><path color="#b40426" d="M2917 1485l38 10 23-18-39-10z"/><path color="#b50927" d="M2488 1503l40 9 23-21-40-10z"/><path color="#b50927" d="M3989 1500l42 12 21-15-41-13z"/><path color="#be242e" d="M4421 1571l46 19 22-6-46-21z"/><path color="#cad8ef" d="M1072 3527l47-111 36-139-47 102z"/><path color="#b40426" d="M3271 1486l38 10 22-18-38-10z"/><path color="#cc403a" d="M1833 1730l46-4 26-40-47 2z"/><path color="#b40426" d="M3625 1487l39 11 22-17-39-11z"/><path color="#b8122a" d="M2250 1541l42 7 24-25-43-8z"/><path color="#b70d28" d="M4094 1511l42 13 22-13-42-15z"/><path color="#ba162b" d="M4309 1545l45 17 22-10-45-17z"/><path color="#b8122a" d="M4200 1525l44 16 21-12-43-16z"/><path color="#e8765c" d="M1529 2105l49-26 28-63-49 22z"/><path color="#b40426" d="M3016 1488l38 10 22-18-38-10z"/><path color="#b40426" d="M2756 1491l39 10 22-18-39-10z"/><path color="#f7aa8c" d="M1336 2553l49-52 30-88-49 47z"/><path color="#b40426" d="M3369 1489l38 10 22-18-38-10z"/><path color="#b40426" d="M3725 1491l39 11 22-17-40-11z"/><path color="#ba162b" d="M2183 1562l43 6 24-27-44-7z"/><path color="#c73635" d="M1905 1686l46-2 25-37-46 0z"/><path color="#d6dce4" d="M1108 3379l47-102 35-131-47 93z"/><path color="#b50927" d="M2423 1516l41 8 24-21-42-10z"/><path color="#b40426" d="M2592 1501l40 9 22-20-40-10z"/><path color="#b40426" d="M3114 1490l38 11 22-18-38-10z"/><path color="#b40426" d="M3467 1491l38 11 22-18-38-10z"/><path color="#bd1f2d" d="M2115 1586l43 5 25-29-44-6z"/><path color="#e46e56" d="M5189 1975l63 46 20 33-62-51z"/><path color="#b40426" d="M3825 1497l40 11 22-17-40-11z"/><path color="#f7b497" d="M1305 2652l49-58 31-93-49 52z"/><path color="#c32e31" d="M1976 1647l45 1 25-34-46-2z"/><path color="#b40426" d="M2856 1493l39 10 22-18-39-10z"/><path color="#d44e41" d="M1734 1832l47-10 26-47-47 7z"/><path color="#c0282f" d="M2046 1614l44 3 25-31-45-4z"/><path color="#de614d" d="M1633 1955l48-17 26-54-48 13z"/><path color="#e1dad6" d="M1143 3239l47-93 35-124-48 86z"/><path color="#b40426" d="M3212 1493l38 10 21-17-37-10z"/><path color="#b40426" d="M3927 1503l41 12 21-15-40-13z"/><path color="#f6bda2" d="M1274 2756l49-64 31-98-49 58z"/><path color="#b40426" d="M3565 1494l39 11 21-18-38-10z"/><path color="#b40426" d="M2955 1495l39 11 22-18-38-11z"/><path color="#b40426" d="M2694 1500l39 10 23-19-39-10z"/><path color="#ead5c9" d="M1177 3108l48-86 33-116-48 78z"/><path color="#b70d28" d="M2358 1531l42 8 23-23-41-9z"/><path color="#be242e" d="M4467 1590l47 20 22-5-47-21z"/><path color="#f4c6af" d="M1243 2867l48-71 32-104-49 64z"/><path color="#ec7f63" d="M1501 2176l49-30 28-67-49 26z"/><path color="#b50927" d="M4031 1512l41 13 22-14-42-14z"/><path color="#f0cdbb" d="M1210 2984l48-78 33-110-48 71z"/><path color="#b40426" d="M3309 1496l38 10 22-17-38-11z"/><path color="#b50927" d="M2528 1512l41 9 23-20-41-10z"/><path color="#b40426" d="M3664 1498l39 11 22-18-39-10z"/><path color="#b70d28" d="M4136 1524l43 15 21-14-42-14z"/><path color="#bb1b2c" d="M4354 1562l45 18 22-9-45-19z"/><path color="#b8122a" d="M4244 1541l43 15 22-11-44-16z"/><path color="#b40426" d="M3054 1498l38 10 22-18-38-10z"/><path color="#e7745b" d="M5252 2021l64 50 21 36-65-53z"/><path color="#b40426" d="M3407 1499l38 10 22-18-38-10z"/><path color="#cf453c" d="M1807 1775l47-6 25-43-46 4z"/><path color="#b40426" d="M2795 1501l39 11 22-19-39-10z"/><path color="#b8122a" d="M2292 1548l43 7 23-24-42-8z"/><path color="#b40426" d="M3764 1502l40 11 21-16-39-12z"/><path color="#b40426" d="M3152 1501l38 10 22-18-38-10z"/><path color="#c53334" d="M4632 1650l50 24 22 0-50-26z"/><path color="#b40426" d="M3505 1502l38 10 22-18-38-10z"/><path color="#b40426" d="M2632 1510l39 10 23-20-40-10z"/><path color="#b40426" d="M3865 1508l40 12 22-17-40-12z"/><path color="#b50927" d="M2464 1524l41 9 23-21-40-9z"/><path color="#b40426" d="M2895 1503l38 10 22-18-38-10z"/><path color="#e26952" d="M1606 2016l48-21 27-57-48 17z"/><path color="#ba162b" d="M2226 1568l42 6 24-26-42-7z"/><path color="#ee8669" d="M1473 2251l49-34 28-71-49 30z"/><path color="#ca3b37" d="M1879 1726l46-3 26-39-46 2z"/><path color="#b40426" d="M3250 1503l37 11 22-18-38-10z"/><path color="#d75445" d="M1707 1884l48-13 26-49-47 10z"/><path color="#b50927" d="M3968 1515l41 13 22-16-42-12z"/><path color="#b40426" d="M3604 1505l38 10 22-17-39-11z"/><path color="#b40426" d="M2994 1506l38 10 22-18-38-10z"/><path color="#c0282f" d="M4514 1610l48 21 21-4-47-22z"/><path color="#bb1b2c" d="M2158 1591l44 5 24-28-43-6z"/><path color="#b40426" d="M2733 1510l39 10 23-19-39-10z"/><path color="#b50927" d="M4072 1525l42 14 22-15-42-13z"/><path color="#c53334" d="M1951 1684l45 0 25-36-45-1z"/><path color="#b40426" d="M3347 1506l38 10 22-17-38-10z"/><path color="#be242e" d="M2090 1617l44 4 24-30-43-5z"/><path color="#b40426" d="M3703 1509l39 10 22-17-39-11z"/><path color="#c12b30" d="M2021 1648l44 2 25-33-44-3z"/><path color="#b70d28" d="M2400 1539l41 8 23-23-41-8z"/><path color="#bd1f2d" d="M4399 1580l46 18 22-8-46-19z"/><path color="#b70d28" d="M4179 1539l43 14 22-12-44-16z"/><path color="#b40426" d="M2569 1521l40 9 23-20-40-9z"/><path color="#ba162b" d="M4287 1556l45 16 22-10-45-17z"/><path color="#b40426" d="M3092 1508l38 10 22-17-38-11z"/><path color="#b40426" d="M3445 1509l38 10 22-17-38-11z"/><path color="#b40426" d="M2834 1512l38 10 23-19-39-10z"/><path color="#f18f71" d="M1444 2330l49-38 29-75-49 34z"/><path color="#b40426" d="M3804 1513l39 12 22-17-40-11z"/><path color="#b40426" d="M3190 1511l38 10 22-18-38-10z"/><path color="#d1493f" d="M1781 1822l47-9 26-44-47 6z"/><path color="#b40426" d="M3543 1512l39 10 22-17-39-11z"/><path color="#b70d28" d="M2335 1555l41 7 24-23-42-8z"/><path color="#e46e56" d="M1578 2079l48-23 28-61-48 21z"/><path color="#b40426" d="M3905 1520l41 11 22-16-41-12z"/><path color="#b40426" d="M2671 1520l39 10 23-20-39-10z"/><path color="#b40426" d="M2933 1513l38 11 23-18-39-11z"/><path color="#b40426" d="M3287 1514l38 10 22-18-38-10z"/><path color="#b50927" d="M2505 1533l40 9 24-21-41-9z"/><path color="#b40426" d="M3642 1515l39 11 22-17-39-11z"/><path color="#da5a49" d="M1681 1938l47-15 27-52-48 13z"/><path color="#b50927" d="M4009 1528l41 12 22-15-41-13z"/><path color="#c12b30" d="M4562 1631l49 21 21-2-49-23z"/><path color="#b40426" d="M3032 1516l38 10 22-18-38-10z"/><path color="#b8122a" d="M2268 1574l43 6 24-25-43-7z"/><path color="#f4987a" d="M1415 2413l48-43 30-78-49 38z"/><path color="#b40426" d="M3385 1516l38 11 22-18-38-10z"/><path color="#b40426" d="M2772 1520l39 10 23-18-39-11z"/><path color="#b50927" d="M4114 1539l43 13 22-13-43-15z"/><path color="#cc403a" d="M1854 1769l46-5 25-41-46 3z"/><path color="#b40426" d="M3742 1519l40 11 22-17-40-11z"/><path color="#de614d" d="M5108 1909l61 41 20 25-60-44z"/><path color="#bd1f2d" d="M4445 1598l47 18 22-6-47-20z"/><path color="#b8122a" d="M4222 1553l44 15 21-12-43-15z"/><path color="#b40426" d="M3130 1518l38 11 22-18-38-10z"/><path color="#ba162b" d="M4332 1572l45 17 22-9-45-18z"/><path color="#b40426" d="M2609 1530l39 10 23-20-39-10z"/><path color="#bb1b2c" d="M2202 1596l42 5 24-27-42-6z"/><path color="#b40426" d="M3483 1519l39 11 21-18-38-10z"/><path color="#b50927" d="M2441 1547l41 8 23-22-41-9z"/><path color="#b40426" d="M2872 1522l39 10 22-19-38-10z"/><path color="#b40426" d="M3843 1525l41 11 21-16-40-12z"/><path color="#c83836" d="M1925 1723l46-2 25-37-45 0z"/><path color="#b40426" d="M3228 1521l37 10 22-17-37-11z"/><path color="#bd1f2d" d="M2134 1621l43 3 25-28-44-5z"/><path color="#e8765c" d="M1550 2146l48-27 28-63-48 23z"/><path color="#f6a283" d="M1385 2501l48-48 30-83-48 43z"/><path color="#b40426" d="M3582 1522l39 11 21-18-38-10z"/><path color="#c43032" d="M1996 1684l44 0 25-34-44-2z"/><path color="#c0282f" d="M2065 1650l44 2 25-31-44-4z"/><path color="#b40426" d="M3946 1531l41 12 22-15-41-13z"/><path color="#b40426" d="M2971 1524l38 10 23-18-38-10z"/><path color="#b40426" d="M2710 1530l39 9 23-19-39-10z"/><path color="#d55042" d="M1755 1871l46-11 27-47-47 9z"/><path color="#b40426" d="M3325 1524l38 10 22-18-38-10z"/><path color="#b70d28" d="M2376 1562l41 8 24-23-41-8z"/><path color="#b40426" d="M3681 1526l40 11 21-18-39-10z"/><path color="#b50927" d="M2545 1542l40 9 24-21-40-9z"/><path color="#b50927" d="M4050 1540l43 13 21-14-42-14z"/><path color="#de614d" d="M1654 1995l47-18 27-54-47 15z"/><path color="#b40426" d="M3070 1526l38 10 22-18-38-10z"/><path color="#e0654f" d="M5169 1950l62 43 21 28-63-46z"/><path color="#f7aa8c" d="M1354 2594l48-54 31-87-48 48z"/><path color="#b40426" d="M3423 1527l39 10 21-18-38-10z"/><path color="#b40426" d="M2811 1530l39 10 22-18-38-10z"/><path color="#b70d28" d="M4157 1552l43 14 22-13-43-14z"/><path color="#b40426" d="M3782 1530l40 12 21-17-39-12z"/><path color="#be242e" d="M4492 1616l48 20 22-5-48-21z"/><path color="#b40426" d="M3168 1529l38 10 22-18-38-10z"/><path color="#b8122a" d="M4266 1568l44 15 22-11-45-16z"/><path color="#b8122a" d="M2311 1580l41 7 24-25-41-7z"/><path color="#bb1b2c" d="M4377 1589l47 17 21-8-46-18z"/><path color="#b40426" d="M3522 1530l38 10 22-18-39-10z"/><path color="#b40426" d="M2648 1540l39 9 23-19-39-10z"/><path color="#ec7f63" d="M1522 2217l47-31 29-67-48 27z"/><path color="#cf453c" d="M1828 1813l46-7 26-42-46 5z"/><path color="#b40426" d="M2911 1532l38 10 22-18-38-11z"/><path color="#f7b497" d="M1323 2692l48-59 31-93-48 54z"/><path color="#b40426" d="M3884 1536l40 12 22-17-41-11z"/><path color="#b50927" d="M2482 1555l40 8 23-21-40-9z"/><path color="#b40426" d="M3265 1531l38 11 22-18-38-10z"/><path color="#ba162b" d="M2244 1601l42 5 25-26-43-6z"/><path color="#b40426" d="M3621 1533l39 11 21-18-39-11z"/><path color="#b40426" d="M3009 1534l38 10 23-18-38-10z"/><path color="#b40426" d="M3987 1543l42 13 21-16-41-12z"/><path color="#b40426" d="M3363 1534l38 10 22-17-38-11z"/><path color="#f6bda2" d="M1291 2796l47-66 33-97-48 59z"/><path color="#b40426" d="M2749 1539l39 10 23-19-39-10z"/><path color="#ca3b37" d="M1900 1764l45-5 26-38-46 2z"/><path color="#bd1f2d" d="M2177 1624l43 5 24-28-42-5z"/><path color="#b40426" d="M3721 1537l39 11 22-18-40-11z"/><path color="#d85646" d="M1728 1923l47-14 26-49-46 11z"/><path color="#b40426" d="M3108 1536l38 11 22-18-38-11z"/><path color="#b50927" d="M4093 1553l42 13 22-14-43-13z"/><path color="#e26952" d="M1626 2056l47-22 28-57-47 18z"/><path color="#b70d28" d="M2417 1570l41 8 24-23-41-8z"/><path color="#b40426" d="M2585 1551l40 9 23-20-39-10z"/><path color="#f4c5ad" d="M1258 2906l47-72 33-104-47 66z"/><path color="#b40426" d="M3462 1537l38 10 22-17-39-11z"/><path color="#c53334" d="M1971 1721l44-2 25-35-44 0z"/><path color="#be242e" d="M2109 1652l43 2 25-30-43-3z"/><path color="#b40426" d="M2850 1540l38 10 23-18-39-10z"/><path color="#c32e31" d="M2040 1684l44 0 25-32-44-2z"/><path color="#b70d28" d="M4200 1566l44 14 22-12-44-15z"/><path color="#f0cdbb" d="M1225 3022l46-79 34-109-47 72z"/><path color="#e1dad6" d="M1155 3277l46-95 36-123-47 87z"/><path color="#ef886b" d="M1493 2292l47-36 29-70-47 31z"/><path color="#b40426" d="M3822 1542l40 11 22-17-41-11z"/><path color="#c0282f" d="M4540 1636l49 20 22-4-49-21z"/><path color="#ead4c8" d="M1190 3146l47-87 34-116-46 79z"/><path color="#b40426" d="M3206 1539l38 10 21-18-37-10z"/><path color="#b8122a" d="M4310 1583l46 16 21-10-45-17z"/><path color="#bb1b2c" d="M4424 1606l47 18 21-8-47-18z"/><path color="#b40426" d="M3560 1540l39 11 22-18-39-11z"/><path color="#b40426" d="M2949 1542l38 10 22-18-38-10z"/><path color="#b40426" d="M2687 1549l40 10 22-20-39-9z"/><path color="#b8122a" d="M2352 1587l41 7 24-24-41-8z"/><path color="#b40426" d="M3303 1542l39 10 21-18-38-10z"/><path color="#b40426" d="M3924 1548l42 11 21-16-41-12z"/><path color="#b50927" d="M2522 1563l40 9 23-21-40-9z"/><path color="#b40426" d="M3660 1544l39 10 22-17-40-11z"/><path color="#d24b40" d="M1801 1860l46-9 27-45-46 7z"/><path color="#b40426" d="M3047 1544l38 10 23-18-38-10z"/><path color="#b40426" d="M3401 1544l39 11 22-18-39-10z"/><path color="#b50927" d="M4029 1556l42 12 22-15-43-13z"/><path color="#b40426" d="M2788 1549l39 10 23-19-39-10z"/><path color="#ba162b" d="M2286 1606l42 6 24-25-41-7z"/><path color="#b40426" d="M3760 1548l40 11 22-17-40-12z"/><path color="#f29072" d="M1463 2370l48-40 29-74-47 36z"/><path color="#b40426" d="M3146 1547l38 10 22-18-38-10z"/><path color="#e57058" d="M1598 2119l47-25 28-60-47 22z"/><path color="#b50927" d="M4135 1566l44 14 21-14-43-14z"/><path color="#b40426" d="M3500 1547l39 11 21-18-38-10z"/><path color="#dc5d4a" d="M1701 1977l46-16 28-52-47 14z"/><path color="#b40426" d="M2625 1560l39 9 23-20-39-9z"/><path color="#b40426" d="M2888 1550l38 10 23-18-38-10z"/><path color="#b50927" d="M2458 1578l40 7 24-22-40-8z"/><path color="#cc403a" d="M1874 1806l45-6 26-41-45 5z"/><path color="#bb1b2c" d="M2220 1629l42 4 24-27-42-5z"/><path color="#b70d28" d="M4244 1580l45 15 21-12-44-15z"/><path color="#b40426" d="M3244 1549l38 11 21-18-38-11z"/><path color="#b40426" d="M3862 1553l41 11 21-16-40-12z"/><path color="#c0282f" d="M4589 1656l50 21 21-2-49-23z"/><path color="#b40426" d="M3599 1551l39 10 22-17-39-11z"/><path color="#ba162b" d="M4356 1599l46 17 22-10-47-17z"/><path color="#bd1f2d" d="M4471 1624l48 18 21-6-48-20z"/><path color="#b40426" d="M2987 1552l38 10 22-18-38-10z"/><path color="#be242e" d="M2152 1654l43 3 25-28-43-5z"/><path color="#c83836" d="M1945 1759l44-3 26-37-44 2z"/><path color="#b40426" d="M3342 1552l38 10 21-18-38-10z"/><path color="#b40426" d="M2727 1559l38 9 23-19-39-10z"/><path color="#b40426" d="M3966 1559l41 12 22-15-42-13z"/><path color="#c12b30" d="M2084 1684l43 2 25-32-43-2z"/><path color="#c43032" d="M2015 1719l44-1 25-34-44 0z"/><path color="#f4987a" d="M1433 2453l47-45 31-78-48 40z"/><path color="#b40426" d="M3699 1554l40 11 21-17-39-11z"/><path color="#b70d28" d="M2393 1594l41 7 24-23-41-8z"/><path color="#b40426" d="M3085 1554l38 10 23-17-38-11z"/><path color="#b50927" d="M2562 1572l40 9 23-21-40-9z"/><path color="#b40426" d="M3440 1555l38 10 22-18-38-10z"/><path color="#b50927" d="M4071 1568l43 13 21-15-42-13z"/><path color="#b40426" d="M2827 1559l38 10 23-19-38-10z"/><path color="#d55042" d="M1775 1909l45-12 27-46-46 9z"/><path color="#e9785d" d="M1569 2186l47-29 29-63-47 25z"/><path color="#b40426" d="M3184 1557l37 10 23-18-38-10z"/><path color="#b40426" d="M3800 1559l41 11 21-17-40-11z"/><path color="#b40426" d="M3539 1558l38 10 22-17-39-11z"/><path color="#b50927" d="M4179 1580l44 13 21-13-44-14z"/><path color="#b8122a" d="M2328 1612l41 6 24-24-41-7z"/><path color="#b40426" d="M2926 1560l39 10 22-18-38-10z"/><path color="#b40426" d="M2664 1569l39 9 24-19-40-10z"/><path color="#b40426" d="M3282 1560l38 10 22-18-39-10z"/><path color="#df634e" d="M1673 2034l47-19 27-54-46 16z"/><path color="#f6a283" d="M1402 2540l47-50 31-82-47 45z"/><path color="#b40426" d="M3903 1564l41 12 22-17-42-11z"/><path color="#b8122a" d="M4289 1595l45 15 22-11-46-16z"/><path color="#b50927" d="M2498 1585l40 8 24-21-40-9z"/><path color="#b40426" d="M3638 1561l39 11 22-18-39-10z"/><path color="#ba162b" d="M4402 1616l47 16 22-8-47-18z"/><path color="#b40426" d="M3025 1562l38 10 22-18-38-10z"/><path color="#bd1f2d" d="M4519 1642l49 19 21-5-49-20z"/><path color="#b40426" d="M3380 1562l38 11 22-18-39-11z"/><path color="#d0473d" d="M1847 1851l45-9 27-42-45 6z"/><path color="#ba162b" d="M2262 1633l42 5 24-26-42-6z"/><path color="#b40426" d="M2765 1568l39 10 23-19-39-10z"/><path color="#b40426" d="M4007 1571l43 12 21-15-42-12z"/><path color="#b40426" d="M3739 1565l40 11 21-17-40-11z"/><path color="#b40426" d="M3123 1564l38 11 23-18-38-10z"/><path color="#b40426" d="M3478 1565l39 11 22-18-39-11z"/><path color="#bd1f2d" d="M2195 1657l42 4 25-28-42-4z"/><path color="#b40426" d="M2602 1581l39 8 23-20-39-9z"/><path color="#f7aa8c" d="M1371 2633l46-56 32-87-47 50z"/><path color="#b70d28" d="M2434 1601l41 7 23-23-40-7z"/><path color="#ec7f63" d="M1540 2256l47-33 29-66-47 29z"/><path color="#b40426" d="M2865 1569l39 10 22-19-38-10z"/><path color="#cb3e38" d="M1919 1800l44-5 26-39-44 3z"/><path color="#b50927" d="M4114 1581l43 13 22-14-44-14z"/><path color="#b40426" d="M3221 1567l38 10 23-17-38-11z"/><path color="#b40426" d="M3841 1570l40 11 22-17-41-11z"/><path color="#c0282f" d="M2127 1686l43 1 25-30-43-3z"/><path color="#b40426" d="M3577 1568l39 11 22-18-39-10z"/><path color="#c53334" d="M1989 1756l44-2 26-36-44 1z"/><path color="#de614d" d="M5211 1968l64 41 21 29-65-45z"/><path color="#c32e31" d="M2059 1718l43 0 25-32-43-2z"/><path color="#b40426" d="M2965 1570l38 10 22-18-38-10z"/><path color="#b70d28" d="M4223 1593l44 15 22-13-45-15z"/><path color="#d85646" d="M1747 1961l46-15 27-49-45 12z"/><path color="#b40426" d="M3320 1570l38 10 22-18-38-10z"/><path color="#b40426" d="M2703 1578l39 10 23-20-38-9z"/><path color="#e26952" d="M1645 2094l46-23 29-56-47 19z"/><path color="#b40426" d="M3944 1576l42 11 21-16-41-12z"/><path color="#b8122a" d="M2369 1618l41 6 24-23-41-7z"/><path color="#f7b396" d="M1338 2730l47-61 32-92-46 56z"/><path color="#b8122a" d="M4334 1610l47 16 21-10-46-17z"/><path color="#b40426" d="M3677 1572l40 10 22-17-40-11z"/><path color="#b40426" d="M3063 1572l38 10 22-18-38-10z"/><path color="#b50927" d="M2538 1593l40 9 24-21-40-9z"/><path color="#b40426" d="M3418 1573l38 10 22-18-38-10z"/><path color="#bb1b2c" d="M4449 1632l48 18 22-8-48-18z"/><path color="#be242e" d="M4568 1661l50 20 21-4-50-21z"/><path color="#b40426" d="M2804 1578l38 9 23-18-38-10z"/><path color="#b40426" d="M4050 1583l42 13 22-15-43-13z"/><path color="#b40426" d="M3161 1575l38 10 22-18-37-10z"/><path color="#b40426" d="M3779 1576l40 11 22-17-41-11z"/><path color="#ef886b" d="M1511 2330l46-37 30-70-47 33z"/><path color="#b40426" d="M3517 1576l39 10 21-18-38-10z"/><path color="#ba162b" d="M2304 1638l41 5 24-25-41-6z"/><path color="#f7bca1" d="M1305 2834l47-68 33-97-47 61z"/><path color="#d24b40" d="M1820 1897l45-11 27-44-45 9z"/><path color="#b40426" d="M2904 1579l38 10 23-19-39-10z"/><path color="#b40426" d="M2641 1589l39 9 23-20-39-9z"/><path color="#b40426" d="M3259 1577l39 11 22-18-38-10z"/><path color="#b50927" d="M4157 1594l44 13 22-14-44-13z"/><path color="#b50927" d="M2475 1608l40 8 23-23-40-8z"/><path color="#b40426" d="M3881 1581l42 11 21-16-41-12z"/><path color="#b40426" d="M3616 1579l40 10 21-17-39-11z"/><path color="#bb1b2c" d="M2237 1661l42 4 25-27-42-5z"/><path color="#b40426" d="M3003 1580l38 10 22-18-38-10z"/><path color="#b40426" d="M3358 1580l38 11 22-18-38-11z"/><path color="#b70d28" d="M4267 1608l46 14 21-12-45-15z"/><path color="#b40426" d="M2742 1588l39 9 23-19-39-10z"/><path color="#cd423b" d="M1892 1842l45-7 26-40-44 5z"/><path color="#dc5d4a" d="M1720 2015l45-18 28-51-46 15z"/><path color="#e57058" d="M1616 2157l46-26 29-60-46 23z"/><path color="#b40426" d="M3986 1587l42 12 22-16-43-12z"/><path color="#b40426" d="M3101 1582l38 11 22-18-38-11z"/><path color="#b40426" d="M3717 1582l40 11 22-17-40-11z"/><path color="#c43032" d="M4742 1722l54 23 21 3-53-26z"/><path color="#be242e" d="M2170 1687l42 3 25-29-42-4z"/><path color="#f1cdba" d="M1237 3059l45-81 35-109-46 74z"/><path color="#b8122a" d="M4381 1626l47 16 21-10-47-16z"/><path color="#b40426" d="M3456 1583l39 11 22-18-39-11z"/><path color="#b50927" d="M2578 1602l39 8 24-21-39-8z"/><path color="#c83836" d="M1963 1795l44-5 26-36-44 2z"/><path color="#b70d28" d="M2410 1624l40 7 25-23-41-7z"/><path color="#f18f71" d="M1480 2408l47-41 30-74-46 37z"/><path color="#bb1b2c" d="M4497 1650l49 18 22-7-49-19z"/><path color="#c0282f" d="M4618 1681l51 20 21-2-51-22z"/><path color="#c12b30" d="M2102 1718l43 1 25-32-43-1z"/><path color="#b40426" d="M2842 1587l39 10 23-18-39-10z"/><path color="#c43032" d="M2033 1754l43-2 26-34-43 0z"/><path color="#b40426" d="M3199 1585l38 10 22-18-38-10z"/><path color="#e3d9d3" d="M1164 3312l45-97 37-122-45 89z"/><path color="#b40426" d="M4092 1596l44 12 21-14-43-13z"/><path color="#b40426" d="M3819 1587l41 11 21-17-40-11z"/><path color="#b40426" d="M3556 1586l39 11 21-18-39-11z"/><path color="#b40426" d="M2942 1589l38 10 23-19-38-10z"/><path color="#b40426" d="M3298 1588l38 10 22-18-38-10z"/><path color="#b40426" d="M2680 1598l39 9 23-19-39-10z"/><path color="#b8122a" d="M2345 1643l41 6 24-25-41-6z"/><path color="#b50927" d="M4201 1607l45 14 21-13-44-15z"/><path color="#b40426" d="M3656 1589l40 11 21-18-40-10z"/><path color="#b40426" d="M3923 1592l41 12 22-17-42-11z"/><path color="#d55042" d="M1793 1946l45-14 27-46-45 11z"/><path color="#b40426" d="M3041 1590l38 11 22-19-38-10z"/><path color="#b50927" d="M2515 1616l39 7 24-21-40-9z"/><path color="#b40426" d="M3396 1591l39 10 21-18-38-10z"/><path color="#d75445" d="M5127 1909l63 37 21 22-63-40z"/><path color="#b40426" d="M2781 1597l38 9 23-19-38-9z"/><path color="#b70d28" d="M4313 1622l46 15 22-11-47-16z"/><path color="#f4987a" d="M1449 2490l46-46 32-77-47 41z"/><path color="#b40426" d="M3139 1593l38 10 22-18-38-10z"/><path color="#e9785d" d="M1587 2223l46-30 29-62-46 26z"/><path color="#ba162b" d="M2279 1665l41 4 25-26-41-5z"/><path color="#b40426" d="M3757 1593l41 11 21-17-40-11z"/><path color="#b40426" d="M4028 1599l43 12 21-15-42-13z"/><path color="#b40426" d="M3495 1594l39 10 22-18-39-10z"/><path color="#df634e" d="M1691 2071l46-21 28-53-45 18z"/><path color="#ba162b" d="M4428 1642l48 16 21-8-48-18z"/><path color="#b40426" d="M2881 1597l38 10 23-18-38-10z"/><path color="#b40426" d="M2617 1610l40 9 23-21-39-9z"/><path color="#b40426" d="M3237 1595l38 11 23-18-39-11z"/><path color="#d0473d" d="M1865 1886l45-9 27-42-45 7z"/><path color="#c0282f" d="M4669 1701l52 22 21-1-52-23z"/><path color="#bd1f2d" d="M4546 1668l50 18 22-5-50-20z"/><path color="#b70d28" d="M2450 1631l40 7 25-22-40-8z"/><path color="#bd1f2d" d="M2212 1690l42 3 25-28-42-4z"/><path color="#b40426" d="M3595 1597l39 10 22-18-40-10z"/><path color="#b40426" d="M3860 1598l41 11 22-17-42-11z"/><path color="#b50927" d="M4136 1608l44 13 21-14-44-13z"/><path color="#b40426" d="M2980 1599l38 10 23-19-38-10z"/><path color="#b40426" d="M3336 1598l38 11 22-18-38-11z"/><path color="#cb3e38" d="M1937 1835l43-6 27-39-44 5z"/><path color="#c0282f" d="M2145 1719l42 1 25-30-42-3z"/><path color="#b40426" d="M2719 1607l39 9 23-19-39-9z"/><path color="#f5a081" d="M1417 2577l47-51 31-82-46 46z"/><path color="#b40426" d="M3696 1600l40 11 21-18-40-11z"/><path color="#b40426" d="M3079 1601l38 10 22-18-38-11z"/><path color="#c32e31" d="M2076 1752l43-1 26-32-43-1z"/><path color="#c73635" d="M2007 1790l43-3 26-35-43 2z"/><path color="#b50927" d="M4246 1621l46 14 21-13-46-14z"/><path color="#b40426" d="M3964 1604l43 11 21-16-42-12z"/><path color="#b40426" d="M3435 1601l38 11 22-18-39-11z"/><path color="#b8122a" d="M2386 1649l40 6 24-24-40-7z"/><path color="#b50927" d="M2554 1623l40 8 23-21-39-8z"/><path color="#b40426" d="M2819 1606l39 10 23-19-39-10z"/><path color="#b40426" d="M3177 1603l38 10 22-18-38-10z"/><path color="#ec7f63" d="M1557 2293l46-34 30-66-46 30z"/><path color="#d85646" d="M1765 1997l45-16 28-49-45 14z"/><path color="#b70d28" d="M4359 1637l48 15 21-10-47-16z"/><path color="#b40426" d="M3798 1604l40 11 22-17-41-11z"/><path color="#b40426" d="M3534 1604l39 11 22-18-39-11z"/><path color="#b40426" d="M4071 1611l43 13 22-16-44-12z"/><path color="#b40426" d="M2919 1607l38 10 23-18-38-10z"/><path color="#b40426" d="M3275 1606l39 10 22-18-38-10z"/><path color="#ba162b" d="M4476 1658l49 17 21-7-49-18z"/><path color="#ba162b" d="M2320 1669l41 5 25-25-41-6z"/><path color="#e26952" d="M1662 2131l46-24 29-57-46 21z"/><path color="#b40426" d="M2657 1619l38 8 24-20-39-9z"/><path color="#f7a98b" d="M1385 2669l46-57 33-86-47 51z"/><path color="#c12b30" d="M4721 1723l54 22 21 0-54-23z"/><path color="#bd1f2d" d="M4596 1686l52 19 21-4-51-20z"/><path color="#b40426" d="M3634 1607l40 11 22-18-40-11z"/><path color="#b40426" d="M3901 1609l42 12 21-17-41-12z"/><path color="#b50927" d="M2490 1638l40 7 24-22-39-7z"/><path color="#b40426" d="M3018 1609l38 10 23-18-38-11z"/><path color="#b40426" d="M3374 1609l39 10 22-18-39-10z"/><path color="#b50927" d="M4180 1621l45 14 21-14-45-14z"/><path color="#d24b40" d="M1838 1932l44-11 28-44-45 9z"/><path color="#b40426" d="M2758 1616l38 10 23-20-38-9z"/><path color="#bb1b2c" d="M2254 1693l41 3 25-27-41-4z"/><path color="#b40426" d="M3117 1611l38 10 22-18-38-10z"/><path color="#b40426" d="M3736 1611l40 11 22-18-41-11z"/><path color="#b40426" d="M3473 1612l39 10 22-18-39-10z"/><path color="#b40426" d="M4007 1615l43 12 21-16-43-12z"/><path color="#b70d28" d="M4292 1635l46 14 21-12-46-15z"/><path color="#ee8669" d="M1527 2367l45-39 31-69-46 34z"/><path color="#f7b396" d="M1352 2766l45-63 34-91-46 57z"/><path color="#b40426" d="M2858 1616l38 10 23-19-38-10z"/><path color="#b40426" d="M3215 1613l38 11 22-18-38-11z"/><path color="#b50927" d="M2594 1631l39 8 24-20-40-9z"/><path color="#be242e" d="M2187 1720l41 1 26-28-42-3z"/><path color="#b70d28" d="M2426 1655l40 6 24-23-40-7z"/><path color="#cd423b" d="M1910 1877l43-9 27-39-43 6z"/><path color="#b40426" d="M3573 1615l40 10 21-18-39-10z"/><path color="#b40426" d="M3838 1615l42 11 21-17-41-11z"/><path color="#b8122a" d="M4407 1652l48 16 21-10-48-16z"/><path color="#c12b30" d="M2119 1751l42 0 26-31-42-1z"/><path color="#b40426" d="M3314 1616l38 11 22-18-38-11z"/><path color="#b40426" d="M2957 1617l38 10 23-18-38-10z"/><path color="#b40426" d="M4114 1624l45 12 21-15-44-13z"/><path color="#c83836" d="M1980 1829l43-6 27-36-43 3z"/><path color="#dc5d4a" d="M1737 2050l45-18 28-51-45 16z"/><path color="#c43032" d="M2050 1787l43-3 26-33-43 1z"/><path color="#b40426" d="M2695 1627l39 9 24-20-39-9z"/><path color="#ba162b" d="M4525 1675l50 18 21-7-50-18z"/><path color="#e57058" d="M1633 2193l45-27 30-59-46 24z"/><path color="#b40426" d="M3674 1618l40 11 22-18-40-11z"/><path color="#b40426" d="M3056 1619l38 10 23-18-38-10z"/><path color="#b40426" d="M3413 1619l38 11 22-18-38-11z"/><path color="#c32e31" d="M4775 1745l55 23 21 2-55-25z"/><path color="#f7ba9f" d="M1317 2869l46-69 34-97-45 63z"/><path color="#b40426" d="M3943 1621l42 11 22-17-43-11z"/><path color="#b8122a" d="M2361 1674l40 5 25-24-40-6z"/><path color="#b50927" d="M2530 1645l40 8 24-22-40-8z"/><path color="#b50927" d="M4225 1635l45 13 22-13-46-14z"/><path color="#b40426" d="M2796 1626l39 9 23-19-39-10z"/><path color="#b40426" d="M3155 1621l38 11 22-19-38-10z"/><path color="#b40426" d="M3512 1622l39 11 22-18-39-11z"/><path color="#b40426" d="M3776 1622l41 11 21-18-40-11z"/><path color="#f18f71" d="M1495 2444l46-43 31-73-45 39z"/><path color="#b40426" d="M4050 1627l43 12 21-15-43-13z"/><path color="#b40426" d="M3253 1624l39 10 22-18-39-10z"/><path color="#b40426" d="M2896 1626l38 10 23-19-38-10z"/><path color="#ba162b" d="M2295 1696l41 4 25-26-41-5z"/><path color="#f5c4ac" d="M1282 2978l46-76 35-102-46 69z"/><path color="#b70d28" d="M4338 1649l47 14 22-11-48-15z"/><path color="#d55042" d="M1810 1981l44-14 28-46-44 11z"/><path color="#b40426" d="M2633 1639l39 9 23-21-38-8z"/><path color="#b40426" d="M3613 1625l39 11 22-18-40-11z"/><path color="#b70d28" d="M2466 1661l40 7 24-23-40-7z"/><path color="#b40426" d="M3880 1626l42 12 21-17-42-12z"/><path color="#b40426" d="M3352 1627l39 10 22-18-39-10z"/><path color="#b40426" d="M2995 1627l38 10 23-18-38-10z"/><path color="#b8122a" d="M4455 1668l49 16 21-9-49-17z"/><path color="#bd1f2d" d="M2228 1721l42 3 25-28-41-3z"/><path color="#b40426" d="M4159 1636l44 13 22-14-45-14z"/><path color="#f2cbb7" d="M1246 3093l45-83 37-108-46 76z"/><path color="#b40426" d="M2734 1636l39 9 23-19-38-10z"/><path color="#b40426" d="M3094 1629l38 10 23-18-38-10z"/><path color="#b40426" d="M3714 1629l41 11 21-18-40-11z"/><path color="#d0473d" d="M1882 1921l44-11 27-42-43 9z"/><path color="#b40426" d="M3451 1630l39 10 22-18-39-10z"/><path color="#df634e" d="M1708 2107l45-22 29-53-45 18z"/><path color="#e8765c" d="M1603 2259l45-31 30-62-45 27z"/><path color="#bb1b2c" d="M4575 1693l51 18 22-6-52-19z"/><path color="#b40426" d="M3985 1632l43 12 22-17-43-12z"/><path color="#c0282f" d="M2161 1751l42 0 25-30-41-1z"/><path color="#c0282f" d="M4700 1725l54 21 21-1-54-22z"/><path color="#b40426" d="M3193 1632l38 10 22-18-38-11z"/><path color="#b50927" d="M2570 1653l39 7 24-21-39-8z"/><path color="#b40426" d="M2835 1635l38 10 23-19-38-10z"/><path color="#ecd3c5" d="M1209 3215l45-90 37-115-45 83z"/><path color="#f39778" d="M1464 2526l45-48 32-77-46 43z"/><path color="#b8122a" d="M2401 1679l40 6 25-24-40-6z"/><path color="#cb3e38" d="M1953 1868l43-7 27-38-43 6z"/><path color="#b50927" d="M4270 1648l47 14 21-13-46-14z"/><path color="#b40426" d="M3551 1633l40 11 22-19-40-10z"/><path color="#c32e31" d="M2093 1784l42-1 26-32-42 0z"/><path color="#c73635" d="M2023 1823l43-4 27-35-43 3z"/><path color="#b40426" d="M3817 1633l41 11 22-18-42-11z"/><path color="#b40426" d="M3292 1634l38 11 22-18-38-11z"/><path color="#b40426" d="M2934 1636l38 10 23-19-38-10z"/><path color="#b40426" d="M4093 1639l44 13 22-16-45-12z"/><path color="#b40426" d="M2672 1648l38 8 24-20-39-9z"/><path color="#b70d28" d="M4385 1663l48 15 22-10-48-16z"/><path color="#b40426" d="M3652 1636l40 11 22-18-40-11z"/><path color="#b40426" d="M3391 1637l38 11 22-18-38-11z"/><path color="#b40426" d="M3033 1637l38 10 23-18-38-10z"/><path color="#ba162b" d="M2336 1700l40 4 25-25-40-5z"/><path color="#b40426" d="M3922 1638l42 11 21-17-42-11z"/><path color="#d85646" d="M1782 2032l44-17 28-48-44 14z"/><path color="#b50927" d="M2506 1668l39 7 25-22-40-8z"/><path color="#b40426" d="M3132 1639l38 11 23-18-38-11z"/><path color="#b40426" d="M2773 1645l38 9 24-19-39-9z"/><path color="#b8122a" d="M4504 1684l50 17 21-8-50-18z"/><path color="#b40426" d="M4203 1649l46 13 21-14-45-13z"/><path color="#b40426" d="M3490 1640l39 11 22-18-39-11z"/><path color="#b40426" d="M3755 1640l40 11 22-18-41-11z"/><path color="#f5a081" d="M1431 2612l45-53 33-81-45 48z"/><path color="#ec7f63" d="M1572 2328l45-35 31-65-45 31z"/><path color="#bb1b2c" d="M2270 1724l40 3 26-27-41-4z"/><path color="#b40426" d="M3231 1642l38 11 23-19-39-10z"/><path color="#b40426" d="M4028 1644l44 12 21-17-43-12z"/><path color="#bb1b2c" d="M4626 1711l53 19 21-5-52-20z"/><path color="#b40426" d="M2873 1645l38 10 23-19-38-10z"/><path color="#e26952" d="M1678 2166l45-25 30-56-45 22z"/><path color="#b50927" d="M2609 1660l39 8 24-20-39-9z"/><path color="#b40426" d="M3591 1644l40 10 21-18-39-11z"/><path color="#c0282f" d="M4754 1746l55 22 21 0-55-23z"/><path color="#d24b40" d="M1854 1967l44-13 28-44-44 11z"/><path color="#b50927" d="M4317 1662l47 14 21-13-47-14z"/><path color="#b40426" d="M3858 1644l42 11 22-17-42-12z"/><path color="#b40426" d="M3330 1645l38 11 23-19-39-10z"/><path color="#b70d28" d="M2441 1685l40 6 25-23-40-7z"/><path color="#b40426" d="M2972 1646l38 10 23-19-38-10z"/><path color="#be242e" d="M2203 1751l41 1 26-28-42-3z"/><path color="#b40426" d="M4137 1652l45 12 21-15-44-13z"/><path color="#b40426" d="M3692 1647l41 11 22-18-41-11z"/><path color="#b40426" d="M2710 1656l39 9 24-20-39-9z"/><path color="#b40426" d="M3071 1647l38 11 23-19-38-10z"/><path color="#b40426" d="M3429 1648l39 11 22-19-39-10z"/><path color="#cd423b" d="M1926 1910l43-9 27-40-43 7z"/><path color="#c12b30" d="M2135 1783l41-1 27-31-42 0z"/><path color="#b70d28" d="M4433 1678l50 16 21-10-49-16z"/><path color="#b40426" d="M3964 1649l43 12 21-17-43-12z"/><path color="#c43032" d="M2066 1819l42-3 27-33-42 1z"/><path color="#c83836" d="M1996 1861l43-6 27-36-43 4z"/><path color="#b40426" d="M3170 1650l38 10 23-18-38-10z"/><path color="#b50927" d="M2545 1675l39 7 25-22-39-7z"/><path color="#b8122a" d="M2376 1704l40 5 25-24-40-6z"/><path color="#b40426" d="M2811 1654l38 10 24-19-38-10z"/><path color="#b40426" d="M3529 1651l40 11 22-18-40-11z"/><path color="#b40426" d="M3795 1651l42 11 21-18-41-11z"/><path color="#b50927" d="M4249 1662l47 13 21-13-47-14z"/><path color="#ba162b" d="M4554 1701l51 17 21-7-51-18z"/><path color="#b40426" d="M3269 1653l39 10 22-18-38-11z"/><path color="#ee8669" d="M1541 2401l45-39 31-69-45 35z"/><path color="#dc5d4a" d="M1753 2085l44-20 29-50-44 17z"/><path color="#b40426" d="M2911 1655l38 9 23-18-38-10z"/><path color="#b40426" d="M4072 1656l44 12 21-16-44-13z"/><path color="#b40426" d="M3631 1654l40 11 21-18-40-11z"/><path color="#b40426" d="M2648 1668l38 9 24-21-38-8z"/><path color="#bd1f2d" d="M4679 1730l54 19 21-3-54-21z"/><path color="#b40426" d="M3368 1656l39 11 22-19-38-11z"/><path color="#ba162b" d="M2310 1727l41 3 25-26-40-4z"/><path color="#b40426" d="M3010 1656l38 10 23-19-38-10z"/><path color="#e46e56" d="M1648 2228l45-29 30-58-45 25z"/><path color="#b40426" d="M3900 1655l43 12 21-18-42-11z"/><path color="#b50927" d="M4364 1676l48 14 21-12-48-15z"/><path color="#b70d28" d="M2481 1691l40 6 24-22-39-7z"/><path color="#b40426" d="M3109 1658l39 10 22-18-38-11z"/><path color="#b40426" d="M3468 1659l40 11 21-19-39-11z"/><path color="#b40426" d="M3733 1658l41 11 21-18-40-11z"/><path color="#b40426" d="M2749 1665l38 9 24-20-38-9z"/><path color="#b40426" d="M4182 1664l46 13 21-15-46-13z"/><path color="#d55042" d="M1826 2015l43-16 29-45-44 13z"/><path color="#bd1f2d" d="M2244 1752l41 2 25-27-40-3z"/><path color="#b40426" d="M3208 1660l39 11 22-18-38-11z"/><path color="#b40426" d="M4007 1661l43 12 22-17-44-12z"/><path color="#b70d28" d="M4483 1694l50 16 21-9-50-17z"/><path color="#b40426" d="M2849 1664l39 10 23-19-38-10z"/><path color="#b40426" d="M3569 1662l40 11 22-19-40-10z"/><path color="#b50927" d="M2584 1682l39 7 25-21-39-8z"/><path color="#b40426" d="M3837 1662l42 11 21-18-42-11z"/><path color="#b40426" d="M3308 1663l38 11 22-18-38-11z"/><path color="#f18d6f" d="M1509 2478l45-44 32-72-45 39z"/><path color="#b8122a" d="M2416 1709l40 5 25-23-40-6z"/><path color="#c0282f" d="M2176 1782l42 0 26-30-41-1z"/><path color="#b40426" d="M2949 1664l38 10 23-18-38-10z"/><path color="#d0473d" d="M1898 1954l43-12 28-41-43 9z"/><path color="#f7b99e" d="M1328 2902l44-71 36-95-45 64z"/><path color="#b50927" d="M4296 1675l47 14 21-13-47-14z"/><path color="#ba162b" d="M4605 1718l53 17 21-5-53-19z"/><path color="#b40426" d="M3671 1665l40 12 22-19-41-11z"/><path color="#b40426" d="M3407 1667l39 10 22-18-39-11z"/><path color="#c32e31" d="M2108 1816l42-2 26-32-41 1z"/><path color="#b40426" d="M4116 1668l45 12 21-16-45-12z"/><path color="#b40426" d="M3048 1666l39 10 22-18-38-11z"/><path color="#cb3e38" d="M1969 1901l43-8 27-38-43 6z"/><path color="#b40426" d="M2686 1677l39 8 24-20-39-9z"/><path color="#de614d" d="M1723 2141l44-23 30-53-44 20z"/><path color="#c53334" d="M2039 1855l42-4 27-35-42 3z"/><path color="#b40426" d="M3943 1667l42 11 22-17-43-12z"/><path color="#be242e" d="M4733 1749l55 20 21-1-55-22z"/><path color="#e8765c" d="M1617 2293l45-32 31-62-45 29z"/><path color="#b40426" d="M3148 1668l38 11 22-19-38-10z"/><path color="#b40426" d="M3508 1670l39 11 22-19-40-11z"/><path color="#ba162b" d="M2351 1730l40 4 25-25-40-5z"/><path color="#b50927" d="M2521 1697l39 7 24-22-39-7z"/><path color="#b70d28" d="M4412 1690l50 15 21-11-50-16z"/><path color="#b40426" d="M2787 1674l39 9 23-19-38-10z"/><path color="#b40426" d="M3774 1669l41 11 22-18-42-11z"/><path color="#f5c1a9" d="M1291 3010l44-77 37-102-44 71z"/><path color="#b40426" d="M3247 1671l38 11 23-19-39-10z"/><path color="#b40426" d="M4228 1677l46 13 22-15-47-13z"/><path color="#b40426" d="M2888 1674l38 9 23-19-38-9z"/><path color="#b40426" d="M3609 1673l40 11 22-19-40-11z"/><path color="#b40426" d="M4050 1673l45 12 21-17-44-12z"/><path color="#b40426" d="M3346 1674l39 11 22-18-39-11z"/><path color="#f39577" d="M1476 2559l45-49 33-76-45 44z"/><path color="#b50927" d="M2623 1689l39 8 24-20-38-9z"/><path color="#bb1b2c" d="M2285 1754l40 3 26-27-41-3z"/><path color="#b8122a" d="M4533 1710l51 16 21-8-51-17z"/><path color="#b40426" d="M3879 1673l42 12 22-18-43-12z"/><path color="#b40426" d="M2987 1674l38 11 23-19-38-10z"/><path color="#d85646" d="M1797 2065l43-18 29-48-43 16z"/><path color="#b70d28" d="M2456 1714l39 6 26-23-40-6z"/><path color="#b40426" d="M3446 1677l39 11 23-18-40-11z"/><path color="#f2cab5" d="M1254 3125l44-84 37-108-44 77z"/><path color="#b40426" d="M3711 1677l41 11 22-19-41-11z"/><path color="#b40426" d="M3087 1676l38 11 23-19-39-10z"/><path color="#b50927" d="M4343 1689l48 14 21-13-48-14z"/><path color="#b40426" d="M2725 1685l38 9 24-20-38-9z"/><path color="#bb1b2c" d="M4658 1735l54 19 21-5-54-19z"/><path color="#be242e" d="M2218 1782l40 1 27-29-41-2z"/><path color="#b40426" d="M4161 1680l46 13 21-16-46-13z"/><path color="#b40426" d="M3186 1679l38 11 23-19-39-11z"/><path color="#b40426" d="M3985 1678l44 12 21-17-43-12z"/><path color="#b40426" d="M3547 1681l40 11 22-19-40-11z"/><path color="#d24b40" d="M1869 1999l43-13 29-44-43 12z"/><path color="#b40426" d="M2826 1683l38 10 24-19-39-10z"/><path color="#e26952" d="M1693 2199l44-26 30-55-44 23z"/><path color="#eb7d62" d="M1586 2362l44-37 32-64-45 32z"/><path color="#b40426" d="M3815 1680l42 12 22-19-42-11z"/><path color="#be242e" d="M4788 1769l56 21 21 0-56-22z"/><path color="#b50927" d="M2560 1704l39 7 24-22-39-7z"/><path color="#b40426" d="M3285 1682l39 11 22-19-38-11z"/><path color="#c12b30" d="M2150 1814l41-2 27-30-42 0z"/><path color="#b8122a" d="M2391 1734l40 5 25-25-40-5z"/><path color="#b70d28" d="M4462 1705l50 15 21-10-50-16z"/><path color="#b40426" d="M2926 1683l38 10 23-19-38-10z"/><path color="#cc403a" d="M1941 1942l42-10 29-39-43 8z"/><path color="#c43032" d="M2081 1851l42-4 27-33-42 2z"/><path color="#b40426" d="M3649 1684l40 11 22-18-40-12z"/><path color="#f59f80" d="M1442 2645l45-54 34-81-45 49z"/><path color="#c83836" d="M2012 1893l42-6 27-36-42 4z"/><path color="#b40426" d="M3385 1685l39 11 22-19-39-10z"/><path color="#b40426" d="M4274 1690l48 13 21-14-47-14z"/><path color="#b40426" d="M4095 1685l45 12 21-17-45-12z"/><path color="#b40426" d="M3025 1685l38 10 24-19-39-10z"/><path color="#b40426" d="M2662 1697l39 9 24-21-39-8z"/><path color="#b40426" d="M3921 1685l43 11 21-18-42-11z"/><path color="#b40426" d="M3485 1688l40 12 22-19-39-11z"/><path color="#b40426" d="M3125 1687l38 11 23-19-38-11z"/><path color="#b8122a" d="M4584 1726l53 17 21-8-53-17z"/><path color="#b40426" d="M3752 1688l42 11 21-19-41-11z"/><path color="#ba162b" d="M2325 1757l40 3 26-26-40-4z"/><path color="#b70d28" d="M2495 1720l40 6 25-22-39-7z"/><path color="#b40426" d="M2763 1694l39 9 24-20-39-9z"/><path color="#b40426" d="M3224 1690l39 11 22-19-38-11z"/><path color="#da5a49" d="M1767 2118l44-21 29-50-43 18z"/><path color="#b50927" d="M4391 1703l49 14 22-12-50-15z"/><path color="#b40426" d="M3587 1692l40 11 22-19-40-11z"/><path color="#b40426" d="M4207 1693l46 12 21-15-46-13z"/><path color="#b40426" d="M2864 1693l38 10 24-20-38-9z"/><path color="#b40426" d="M4029 1690l44 12 22-17-45-12z"/><path color="#bb1b2c" d="M4712 1754l55 19 21-4-55-20z"/><path color="#b40426" d="M3324 1693l39 11 22-19-39-11z"/><path color="#b40426" d="M3857 1692l43 11 21-18-42-12z"/><path color="#bd1f2d" d="M2258 1783l41 1 26-27-40-3z"/><path color="#ee8468" d="M1554 2434l44-41 32-68-44 37z"/><path color="#b50927" d="M2599 1711l38 7 25-21-39-8z"/><path color="#f7a688" d="M1408 2736l44-60 35-85-45 54z"/><path color="#b40426" d="M2964 1693l38 11 23-19-38-11z"/><path color="#e46e56" d="M1662 2261l44-30 31-58-44 26z"/><path color="#b40426" d="M3689 1695l41 12 22-19-41-11z"/><path color="#b40426" d="M3424 1696l39 11 22-19-39-11z"/><path color="#b70d28" d="M2431 1739l39 5 25-24-39-6z"/><path color="#b70d28" d="M4512 1720l51 16 21-10-51-16z"/><path color="#b40426" d="M3063 1695l39 11 23-19-38-11z"/><path color="#d55042" d="M1840 2047l43-16 29-45-43 13z"/><path color="#be242e" d="M2191 1812l41 0 26-29-40-1z"/><path color="#b40426" d="M2701 1706l38 8 24-20-38-9z"/><path color="#b40426" d="M4322 1703l48 14 21-14-48-14z"/><path color="#b40426" d="M4140 1697l45 12 22-16-46-13z"/><path color="#b40426" d="M3163 1698l38 11 23-19-38-11z"/><path color="#b40426" d="M3964 1696l44 12 21-18-44-12z"/><path color="#b40426" d="M3525 1700l40 11 22-19-40-11z"/><path color="#b40426" d="M3794 1699l41 12 22-19-42-12z"/><path color="#c32e31" d="M2123 1847l41-3 27-32-41 2z"/><path color="#cf453c" d="M1912 1986l43-13 28-41-42 10z"/><path color="#b40426" d="M2802 1703l38 9 24-19-38-10z"/><path color="#b40426" d="M3263 1701l38 11 23-19-39-11z"/><path color="#b50927" d="M2535 1726l39 7 25-22-39-7z"/><path color="#b8122a" d="M4637 1743l54 17 21-6-54-19z"/><path color="#c53334" d="M2054 1887l41-6 28-34-42 4z"/><path color="#ca3b37" d="M1983 1932l42-8 29-37-42 6z"/><path color="#b8122a" d="M2365 1760l40 3 26-24-40-5z"/><path color="#b40426" d="M3627 1703l41 12 21-20-40-11z"/><path color="#b40426" d="M2902 1703l38 9 24-19-38-10z"/><path color="#f7af91" d="M1372 2831l44-65 36-90-44 60z"/><path color="#b40426" d="M3363 1704l39 11 22-19-39-11z"/><path color="#b50927" d="M4440 1717l51 15 21-12-50-15z"/><path color="#b40426" d="M4253 1705l48 14 21-16-48-13z"/><path color="#b40426" d="M4073 1702l45 12 22-17-45-12z"/><path color="#b40426" d="M3002 1704l38 10 23-19-38-10z"/><path color="#b40426" d="M3900 1703l43 12 21-19-43-11z"/><path color="#de614d" d="M1737 2173l43-24 31-52-44 21z"/><path color="#b40426" d="M2637 1718l39 8 25-20-39-9z"/><path color="#f18d6f" d="M1521 2510l44-45 33-72-44 41z"/><path color="#b40426" d="M3463 1707l40 12 22-19-40-12z"/><path color="#b40426" d="M3730 1707l42 11 22-19-42-11z"/><path color="#b40426" d="M3102 1706l38 11 23-19-38-11z"/><path color="#bb1b2c" d="M2299 1784l40 2 26-26-40-3z"/><path color="#b70d28" d="M2470 1744l39 5 26-23-40-6z"/><path color="#b40426" d="M2739 1714l38 9 25-20-39-9z"/><path color="#b40426" d="M3201 1709l39 11 23-19-39-11z"/><path color="#e7745b" d="M1630 2325l44-33 32-61-44 30z"/><path color="#b40426" d="M3565 1711l40 11 22-19-40-11z"/><path color="#b70d28" d="M4563 1736l53 16 21-9-53-17z"/><path color="#b40426" d="M4185 1709l47 13 21-17-46-12z"/><path color="#b40426" d="M4008 1708l44 12 21-18-44-12z"/><path color="#b40426" d="M4370 1717l49 14 21-14-49-14z"/><path color="#b40426" d="M3301 1712l39 11 23-19-39-11z"/><path color="#b40426" d="M2840 1712l38 10 24-19-38-10z"/><path color="#b40426" d="M3835 1711l43 11 22-19-43-11z"/><path color="#f7b89c" d="M1335 2933l44-72 37-95-44 65z"/><path color="#bd1f2d" d="M2232 1812l40 0 27-28-41-1z"/><path color="#d75445" d="M1811 2097l42-19 30-47-43 16z"/><path color="#b50927" d="M2574 1733l38 7 25-22-38-7z"/><path color="#b40426" d="M3668 1715l41 11 21-19-41-12z"/><path color="#b40426" d="M2940 1712l38 11 24-19-38-11z"/><path color="#b40426" d="M3402 1715l39 12 22-20-39-11z"/><path color="#ba162b" d="M4691 1760l55 18 21-5-55-19z"/><path color="#b8122a" d="M2405 1763l39 5 26-24-39-5z"/><path color="#b40426" d="M3040 1714l38 11 24-19-39-11z"/><path color="#c0282f" d="M2164 1844l41-2 27-30-41 0z"/><path color="#b40426" d="M4118 1714l46 12 21-17-45-12z"/><path color="#b40426" d="M3943 1715l43 12 22-19-44-12z"/><path color="#b40426" d="M3503 1719l40 11 22-19-40-11z"/><path color="#d1493f" d="M1883 2031l43-15 29-43-43 13z"/><path color="#b40426" d="M2676 1726l39 8 24-20-38-8z"/><path color="#b50927" d="M4491 1732l51 15 21-11-51-16z"/><path color="#b40426" d="M4301 1719l48 13 21-15-48-14z"/><path color="#b40426" d="M3140 1717l38 11 23-19-38-11z"/><path color="#f39475" d="M1487 2591l44-50 34-76-44 45z"/><path color="#b40426" d="M3772 1718l42 12 21-19-41-12z"/><path color="#c43032" d="M2095 1881l41-4 28-33-41 3z"/><path color="#cc403a" d="M1955 1973l42-10 28-39-42 8z"/><path color="#b40426" d="M3240 1720l38 11 23-19-38-11z"/><path color="#c83836" d="M2025 1924l42-7 28-36-41 6z"/><path color="#b40426" d="M2777 1723l39 9 24-20-38-9z"/><path color="#e16751" d="M1706 2231l43-27 31-55-43 24z"/><path color="#b40426" d="M3605 1722l41 12 22-19-41-12z"/><path color="#b50927" d="M2509 1749l39 6 26-22-39-7z"/><path color="#ba162b" d="M2339 1786l40 3 26-26-40-3z"/><path color="#b40426" d="M3340 1723l39 12 23-20-39-11z"/><path color="#b40426" d="M2878 1722l38 10 24-20-38-9z"/><path color="#ea7b60" d="M1598 2393l44-37 32-64-44 33z"/><path color="#b40426" d="M4052 1720l45 12 21-18-45-12z"/><path color="#b40426" d="M3878 1722l43 12 22-19-43-12z"/><path color="#b40426" d="M4232 1722l47 13 22-16-48-14z"/><path color="#b70d28" d="M4616 1752l54 17 21-9-54-17z"/><path color="#b40426" d="M4419 1731l51 14 21-13-51-15z"/><path color="#b40426" d="M2978 1723l39 10 23-19-38-10z"/><path color="#b40426" d="M3441 1727l39 11 23-19-40-12z"/><path color="#b40426" d="M3709 1726l41 12 22-20-42-11z"/><path color="#b50927" d="M2612 1740l39 7 25-21-39-8z"/><path color="#b40426" d="M3078 1725l39 11 23-19-38-11z"/><path color="#bb1b2c" d="M2272 1812l40 1 27-27-40-2z"/><path color="#b40426" d="M3543 1730l40 12 22-20-40-11z"/><path color="#b40426" d="M3178 1728l39 11 23-19-39-11z"/><path color="#b70d28" d="M2444 1768l40 5 25-24-39-5z"/><path color="#b40426" d="M2715 1734l38 9 24-20-38-9z"/><path color="#da5a49" d="M1780 2149l43-22 30-49-42 19z"/><path color="#f59d7e" d="M1452 2676l44-55 35-80-44 50z"/><path color="#b40426" d="M3986 1727l44 12 22-19-44-12z"/><path color="#ba162b" d="M4746 1778l57 19 21-5-57-19z"/><path color="#b40426" d="M4164 1726l47 13 21-17-47-13z"/><path color="#b40426" d="M3814 1730l42 12 22-20-43-11z"/><path color="#b40426" d="M3278 1731l39 11 23-19-39-11z"/><path color="#b40426" d="M4349 1732l49 13 21-14-49-14z"/><path color="#b50927" d="M4542 1747l53 15 21-10-53-16z"/><path color="#b40426" d="M2816 1732l38 10 24-20-38-10z"/><path color="#be242e" d="M2205 1842l40-1 27-29-40 0z"/><path color="#b40426" d="M3646 1734l41 12 22-20-41-11z"/><path color="#b40426" d="M3379 1735l39 11 23-19-39-12z"/><path color="#b40426" d="M2916 1732l39 10 23-19-38-11z"/><path color="#b50927" d="M2548 1755l39 7 25-22-38-7z"/><path color="#d44e41" d="M1853 2078l43-17 30-45-43 15z"/><path color="#be242e" d="M4882 1813l60 21 21 1-60-23z"/><path color="#b40426" d="M3017 1733l38 11 23-19-38-11z"/><path color="#c12b30" d="M2136 1877l41-3 28-32-41 2z"/><path color="#b8122a" d="M2379 1789l39 3 26-24-39-5z"/><path color="#b40426" d="M3921 1734l44 12 21-19-43-12z"/><path color="#b40426" d="M4097 1732l46 13 21-19-46-12z"/><path color="#e36c55" d="M1674 2292l43-31 32-57-43 27z"/><path color="#b40426" d="M3480 1738l40 12 23-20-40-11z"/><path color="#ed8366" d="M1565 2465l43-42 34-67-44 37z"/><path color="#b40426" d="M3750 1738l42 12 22-20-42-12z"/><path color="#b40426" d="M4279 1735l49 13 21-16-48-13z"/><path color="#b40426" d="M3117 1736l38 11 23-19-38-11z"/><path color="#cf453c" d="M1926 2016l42-13 29-40-42 10z"/><path color="#b40426" d="M2651 1747l39 8 25-21-39-8z"/><path color="#c53334" d="M2067 1917l41-6 28-34-41 4z"/><path color="#b8122a" d="M4670 1769l55 17 21-8-55-18z"/><path color="#b50927" d="M4470 1745l51 15 21-13-51-15z"/><path color="#ca3b37" d="M1997 1963l41-9 29-37-42 7z"/><path color="#b40426" d="M3217 1739l38 11 23-19-38-11z"/><path color="#b40426" d="M3583 1742l40 12 23-20-41-12z"/><path color="#b40426" d="M2753 1743l38 9 25-20-39-9z"/><path color="#f6a586" d="M1416 2766l44-61 36-84-44 55z"/><path color="#b40426" d="M3317 1742l39 12 23-19-39-12z"/><path color="#b70d28" d="M2484 1773l39 5 25-23-39-6z"/><path color="#ba162b" d="M2312 1813l40 2 27-26-40-3z"/><path color="#b40426" d="M4030 1739l46 12 21-19-45-12z"/><path color="#b40426" d="M3856 1742l43 12 22-20-43-12z"/><path color="#b40426" d="M2854 1742l38 9 24-19-38-10z"/><path color="#b40426" d="M4211 1739l47 13 21-17-47-13z"/><path color="#b40426" d="M3687 1746l41 12 22-20-41-12z"/><path color="#b40426" d="M3418 1746l40 12 22-20-39-11z"/><path color="#bb1b2c" d="M4803 1797l58 19 21-3-58-21z"/><path color="#b40426" d="M2955 1742l38 10 24-19-39-10z"/><path color="#b40426" d="M4398 1745l51 14 21-14-51-14z"/><path color="#dd5f4b" d="M1749 2204l43-25 31-52-43 22z"/><path color="#b50927" d="M4595 1762l54 16 21-9-54-17z"/><path color="#b50927" d="M2587 1762l39 7 25-22-39-7z"/><path color="#b40426" d="M3055 1744l38 11 24-19-39-11z"/><path color="#b40426" d="M3520 1750l41 12 22-20-40-12z"/><path color="#bd1f2d" d="M2245 1841l40 0 27-28-40-1z"/><path color="#b40426" d="M3155 1747l39 11 23-19-39-11z"/><path color="#b40426" d="M3965 1746l44 12 21-19-44-12z"/><path color="#b40426" d="M3792 1750l42 12 22-20-42-12z"/><path color="#b40426" d="M4143 1745l46 12 22-18-47-13z"/><path color="#b8122a" d="M2418 1792l39 5 27-24-40-5z"/><path color="#b40426" d="M2690 1755l38 9 25-21-38-9z"/><path color="#b40426" d="M3255 1750l39 12 23-20-39-11z"/><path color="#f08b6e" d="M1531 2541l43-47 34-71-43 42z"/><path color="#b40426" d="M4328 1748l49 13 21-16-49-13z"/><path color="#b40426" d="M3623 1754l42 12 22-20-41-12z"/><path color="#e7745b" d="M1642 2356l43-35 32-60-43 31z"/><path color="#c0282f" d="M2177 1874l40-3 28-30-40 1z"/><path color="#d75445" d="M1823 2127l42-19 31-47-43 17z"/><path color="#b40426" d="M2791 1752l38 9 25-19-38-10z"/><path color="#b40426" d="M3356 1754l40 12 22-20-39-11z"/><path color="#b50927" d="M4521 1760l53 15 21-13-53-15z"/><path color="#b8122a" d="M4725 1786l57 17 21-6-57-19z"/><path color="#b40426" d="M2892 1751l38 10 25-19-39-10z"/><path color="#b40426" d="M3899 1754l44 12 22-20-44-12z"/><path color="#b50927" d="M2523 1778l38 6 26-22-39-7z"/><path color="#b40426" d="M4076 1751l45 13 22-19-46-13z"/><path color="#b40426" d="M3458 1758l40 12 22-20-40-12z"/><path color="#c32e31" d="M2108 1911l41-5 28-32-41 3z"/><path color="#b40426" d="M3728 1758l42 12 22-20-42-12z"/><path color="#b40426" d="M2993 1752l38 11 24-19-38-11z"/><path color="#d1493f" d="M1896 2061l42-15 30-43-42 13z"/><path color="#ba162b" d="M2352 1815l40 3 26-26-39-3z"/><path color="#b40426" d="M4258 1752l49 13 21-17-49-13z"/><path color="#c73635" d="M2038 1954l41-8 29-35-41 6z"/><path color="#b40426" d="M3093 1755l38 11 24-19-38-11z"/><path color="#cc403a" d="M1968 2003l41-11 29-38-41 9z"/><path color="#b40426" d="M3561 1762l40 12 22-20-40-12z"/><path color="#b40426" d="M2626 1769l38 7 26-21-39-8z"/><path color="#b40426" d="M3194 1758l38 12 23-20-38-11z"/><path color="#b40426" d="M4449 1759l51 15 21-14-51-15z"/><path color="#bb1b2c" d="M4861 1816l60 20 21-2-60-21z"/><path color="#b70d28" d="M4649 1778l56 17 20-9-55-17z"/><path color="#b40426" d="M3834 1762l44 12 21-20-43-12z"/><path color="#b40426" d="M4009 1758l45 13 22-20-46-12z"/><path color="#b40426" d="M3294 1762l39 12 23-20-39-12z"/><path color="#b40426" d="M2728 1764l38 8 25-20-38-9z"/><path color="#e0654f" d="M1717 2261l43-28 32-54-43 25z"/><path color="#bb1b2c" d="M2285 1841l40 1 27-27-40-2z"/><path color="#b40426" d="M4189 1757l48 13 21-18-47-13z"/><path color="#b70d28" d="M2457 1797l39 5 27-24-39-5z"/><path color="#b40426" d="M3665 1766l41 12 22-20-41-12z"/><path color="#b40426" d="M3396 1766l39 12 23-20-40-12z"/><path color="#b40426" d="M2829 1761l39 10 24-20-38-9z"/><path color="#b40426" d="M4377 1761l51 14 21-16-51-14z"/><path color="#b40426" d="M2930 1761l39 11 24-20-38-10z"/><path color="#b40426" d="M3498 1770l40 12 23-20-41-12z"/><path color="#b40426" d="M3031 1763l38 11 24-19-38-11z"/><path color="#e97a5f" d="M1608 2423l43-38 34-64-43 35z"/><path color="#b40426" d="M3943 1766l44 12 22-20-44-12z"/><path color="#b50927" d="M2561 1784l39 7 26-22-39-7z"/><path color="#b40426" d="M3770 1770l43 12 21-20-42-12z"/><path color="#b50927" d="M4574 1775l54 15 21-12-54-16z"/><path color="#be242e" d="M2217 1871l41-1 27-29-40 0z"/><path color="#b40426" d="M3131 1766l39 12 24-20-39-11z"/><path color="#b40426" d="M4121 1764l47 12 21-19-46-12z"/><path color="#b8122a" d="M4782 1803l59 19 20-6-58-19z"/><path color="#d95847" d="M1792 2179l42-23 31-48-42 19z"/><path color="#b40426" d="M3232 1770l39 12 23-20-39-12z"/><path color="#b40426" d="M3601 1774l41 13 23-21-42-12z"/><path color="#b8122a" d="M2392 1818l39 3 26-24-39-5z"/><path color="#b40426" d="M2664 1776l39 8 25-20-38-9z"/><path color="#b40426" d="M4307 1765l49 13 21-17-49-13z"/><path color="#b40426" d="M3333 1774l40 12 23-20-40-12z"/><path color="#c12b30" d="M2149 1906l40-4 28-31-40 3z"/><path color="#b40426" d="M2766 1772l39 10 24-21-38-9z"/><path color="#b40426" d="M3878 1774l43 13 22-21-44-12z"/><path color="#b40426" d="M4500 1774l53 14 21-13-53-15z"/><path color="#b40426" d="M4054 1771l46 12 21-19-45-13z"/><path color="#b40426" d="M3706 1778l42 13 22-21-42-12z"/><path color="#d44e41" d="M1865 2108l42-18 31-44-42 15z"/><path color="#b40426" d="M3435 1778l40 12 23-20-40-12z"/><path color="#b40426" d="M2868 1771l38 10 24-20-38-10z"/><path color="#c43032" d="M2079 1946l41-6 29-34-41 5z"/><path color="#b50927" d="M2496 1802l39 5 26-23-38-6z"/><path color="#b70d28" d="M4705 1795l56 17 21-9-57-17z"/><path color="#b40426" d="M4237 1770l48 13 22-18-49-13z"/><path color="#b40426" d="M2969 1772l38 11 24-20-38-11z"/><path color="#cd423b" d="M1938 2046l41-14 30-40-41 11z"/><path color="#c83836" d="M2009 1992l41-9 29-37-41 8z"/><path color="#ba162b" d="M2325 1842l39 2 28-26-40-3z"/><path color="#f49a7b" d="M1460 2705l43-56 36-80-43 52z"/><path color="#b40426" d="M3069 1774l39 12 23-20-38-11z"/><path color="#b40426" d="M3538 1782l41 13 22-21-40-12z"/><path color="#e36b54" d="M1685 2321l42-31 33-57-43 28z"/><path color="#b40426" d="M3170 1778l39 12 23-20-38-12z"/><path color="#b40426" d="M3813 1782l43 13 22-21-44-12z"/><path color="#b40426" d="M4428 1775l51 14 21-15-51-15z"/><path color="#b40426" d="M3987 1778l45 13 22-20-45-13z"/><path color="#b40426" d="M2600 1791l39 7 25-22-38-7z"/><path color="#b40426" d="M3271 1782l39 12 23-20-39-12z"/><path color="#b40426" d="M3642 1787l42 12 22-21-41-12z"/><path color="#b40426" d="M4168 1776l48 13 21-19-48-13z"/><path color="#ec8165" d="M1574 2494l43-42 34-67-43 38z"/><path color="#b40426" d="M2703 1784l38 9 25-21-38-8z"/><path color="#b50927" d="M4628 1790l56 16 21-11-56-17z"/><path color="#b40426" d="M3373 1786l39 12 23-20-39-12z"/><path color="#bd1f2d" d="M2258 1870l39 0 28-28-40-1z"/><path color="#b70d28" d="M2431 1821l39 4 26-23-39-5z"/><path color="#b8122a" d="M4841 1822l60 18 20-4-60-20z"/><path color="#b40426" d="M2805 1782l38 9 25-20-39-10z"/><path color="#b40426" d="M4356 1778l50 14 22-17-51-14z"/><path color="#b40426" d="M3475 1790l41 13 22-21-40-12z"/><path color="#b40426" d="M3921 1787l45 12 21-21-44-12z"/><path color="#b40426" d="M2906 1781l38 11 25-20-39-11z"/><path color="#b40426" d="M3748 1791l43 13 22-22-43-12z"/><path color="#b40426" d="M4100 1783l47 13 21-20-47-12z"/><path color="#b40426" d="M3007 1783l38 11 24-20-38-11z"/><path color="#dd5f4b" d="M1760 2233l42-26 32-51-42 23z"/><path color="#be242e" d="M2189 1902l40-2 29-30-41 1z"/><path color="#b40426" d="M3108 1786l38 11 24-19-39-12z"/><path color="#b50927" d="M2535 1807l39 6 26-22-39-7z"/><path color="#b40426" d="M4553 1788l54 15 21-13-54-15z"/><path color="#b40426" d="M3579 1795l41 13 22-21-41-13z"/><path color="#b40426" d="M3209 1790l39 12 23-20-39-12z"/><path color="#f6a385" d="M1422 2794l43-62 38-83-43 56z"/><path color="#b40426" d="M4285 1783l50 13 21-18-49-13z"/><path color="#b8122a" d="M2364 1844l40 3 27-26-39-3z"/><path color="#b40426" d="M3310 1794l40 12 23-20-40-12z"/><path color="#b40426" d="M3856 1795l43 13 22-21-43-13z"/><path color="#b40426" d="M2639 1798l38 8 26-22-39-8z"/><path color="#b40426" d="M4032 1791l46 13 22-21-46-12z"/><path color="#c32e31" d="M2120 1940l41-5 28-33-40 4z"/><path color="#d65244" d="M1834 2156l42-20 31-46-42 18z"/><path color="#b40426" d="M3684 1799l42 13 22-21-42-13z"/><path color="#b40426" d="M3412 1798l40 13 23-21-40-12z"/><path color="#b40426" d="M2741 1793l38 9 26-20-39-10z"/><path color="#b40426" d="M4479 1789l53 14 21-15-53-14z"/><path color="#b40426" d="M4216 1789l48 13 21-19-48-13z"/><path color="#c73635" d="M2050 1983l41-8 29-35-41 6z"/><path color="#e67259" d="M1651 2385l43-35 33-60-42 31z"/><path color="#b40426" d="M2843 1791l38 10 25-20-38-10z"/><path color="#d0473d" d="M1907 2090l42-16 30-42-41 14z"/><path color="#cb3e38" d="M1979 2032l41-11 30-38-41 9z"/><path color="#b40426" d="M3516 1803l40 13 23-21-41-13z"/><path color="#ef886b" d="M1539 2569l42-47 36-70-43 42z"/><path color="#b40426" d="M2944 1792l38 11 25-20-38-11z"/><path color="#b70d28" d="M2470 1825l39 5 26-23-39-5z"/><path color="#b40426" d="M3045 1794l39 12 24-20-39-12z"/><path color="#b40426" d="M3791 1804l43 13 22-22-43-13z"/><path color="#b40426" d="M3966 1799l45 13 21-21-45-13z"/><path color="#bb1b2c" d="M2297 1870l40 1 27-27-39-2z"/><path color="#b50927" d="M4684 1806l57 16 20-10-56-17z"/><path color="#b40426" d="M3146 1797l39 13 24-20-39-12z"/><path color="#b40426" d="M4406 1792l52 14 21-17-51-14z"/><path color="#b50927" d="M3620 1808l41 13 23-22-42-12z"/><path color="#b40426" d="M4147 1796l47 13 22-20-48-13z"/><path color="#ba162b" d="M4901 1840l62 20 20-3-62-21z"/><path color="#b40426" d="M3248 1802l39 12 23-20-39-12z"/><path color="#b50927" d="M2574 1813l39 7 26-22-39-7z"/><path color="#b40426" d="M3350 1806l39 13 23-21-39-12z"/><path color="#f7aa8c" d="M1384 2889l43-68 38-89-43 62z"/><path color="#b40426" d="M2677 1806l38 8 26-21-38-9z"/><path color="#b40426" d="M3899 1808l45 13 22-22-45-12z"/><path color="#b40426" d="M4607 1803l56 16 21-13-56-16z"/><path color="#bd1f2d" d="M2229 1900l40-1 28-29-39 0z"/><path color="#b40426" d="M4335 1796l50 14 21-18-50-14z"/><path color="#b50927" d="M3726 1812l42 13 23-21-43-13z"/><path color="#b40426" d="M3452 1811l41 13 23-21-41-13z"/><path color="#df634e" d="M1727 2290l42-29 33-54-42 26z"/><path color="#b8122a" d="M2404 1847l39 3 27-25-39-4z"/><path color="#b40426" d="M4078 1804l47 13 22-21-47-13z"/><path color="#b40426" d="M2779 1802l39 10 25-21-38-9z"/><path color="#b40426" d="M2881 1801l38 11 25-20-38-11z"/><path color="#b50927" d="M3556 1816l41 13 23-21-41-13z"/><path color="#b40426" d="M2982 1803l39 11 24-20-38-11z"/><path color="#b40426" d="M3084 1806l38 12 24-21-38-11z"/><path color="#b40426" d="M4264 1802l49 14 22-20-50-13z"/><path color="#c0282f" d="M2161 1935l40-4 28-31-40 2z"/><path color="#b40426" d="M4532 1803l54 15 21-15-54-15z"/><path color="#b40426" d="M3185 1810l39 12 24-20-39-12z"/><path color="#b40426" d="M3834 1817l43 13 22-22-43-13z"/><path color="#b50927" d="M2509 1830l38 6 27-23-39-6z"/><path color="#b40426" d="M4011 1812l46 14 21-22-46-13z"/><path color="#b40426" d="M3287 1814l39 13 24-21-40-12z"/><path color="#d85646" d="M1802 2207l42-23 32-48-42 20z"/><path color="#b50927" d="M3661 1821l43 13 22-22-42-13z"/><path color="#f29072" d="M1503 2649l42-53 36-74-42 47z"/><path color="#e9785d" d="M1617 2452l42-40 35-62-43 35z"/><path color="#ba162b" d="M2337 1871l39 1 28-25-40-3z"/><path color="#b40426" d="M3389 1819l40 13 23-21-40-13z"/><path color="#c43032" d="M2091 1975l40-7 30-33-41 5z"/><path color="#b40426" d="M2613 1820l38 7 26-21-38-8z"/><path color="#b40426" d="M4194 1809l49 14 21-21-48-13z"/><path color="#b50927" d="M4741 1822l58 17 21-10-59-17z"/><path color="#b40426" d="M4458 1806l53 14 21-17-53-14z"/><path color="#d24b40" d="M1876 2136l41-18 32-44-42 16z"/><path color="#b40426" d="M2715 1814l39 9 25-21-38-9z"/><path color="#c83836" d="M2020 2021l41-10 30-36-41 8z"/><path color="#b50927" d="M3493 1824l40 14 23-22-40-13z"/><path color="#cc403a" d="M1949 2074l41-13 30-40-41 11z"/><path color="#b40426" d="M3944 1821l45 13 22-22-45-13z"/><path color="#b50927" d="M3768 1825l44 14 22-22-43-13z"/><path color="#b40426" d="M2818 1812l38 10 25-21-38-10z"/><path color="#ba162b" d="M4963 1860l64 20 20-2-64-21z"/><path color="#b40426" d="M2919 1812l39 11 24-20-38-11z"/><path color="#b40426" d="M3021 1814l38 12 25-20-39-12z"/><path color="#b70d28" d="M2443 1850l39 4 27-24-39-5z"/><path color="#b40426" d="M4385 1810l52 14 21-18-52-14z"/><path color="#b40426" d="M4125 1817l48 14 21-22-47-13z"/><path color="#b50927" d="M3597 1829l42 14 22-22-41-13z"/><path color="#b40426" d="M3122 1818l39 12 24-20-39-13z"/><path color="#bb1b2c" d="M2269 1899l40-1 28-27-40-1z"/><path color="#b40426" d="M4663 1819l57 15 21-12-57-16z"/><path color="#b40426" d="M3224 1822l39 13 24-21-39-12z"/><path color="#b40426" d="M3326 1827l40 13 23-21-39-13z"/><path color="#b50927" d="M3877 1830l45 13 22-22-45-13z"/><path color="#b50927" d="M2547 1836l39 6 27-22-39-7z"/><path color="#e26952" d="M1694 2350l42-33 33-56-42 29z"/><path color="#b50927" d="M3704 1834l42 14 22-23-42-13z"/><path color="#b40426" d="M4313 1816l51 14 21-20-50-14z"/><path color="#b40426" d="M4057 1826l46 13 22-22-47-13z"/><path color="#b50927" d="M3429 1832l41 14 23-22-41-13z"/><path color="#b8122a" d="M4880 1847l62 19 21-6-62-20z"/><path color="#b40426" d="M4586 1818l56 15 21-14-56-16z"/><path color="#b40426" d="M2651 1827l38 8 26-21-38-8z"/><path color="#be242e" d="M2201 1931l39-3 29-29-40 1z"/><path color="#f4987a" d="M1465 2732l43-57 37-79-42 53z"/><path color="#b50927" d="M3533 1838l42 13 22-22-41-13z"/><path color="#b8122a" d="M2376 1872l39 3 28-25-39-3z"/><path color="#b40426" d="M2754 1823l38 9 26-20-39-10z"/><path color="#b40426" d="M4243 1823l49 14 21-21-49-14z"/><path color="#b40426" d="M2856 1822l38 10 25-20-38-11z"/><path color="#b50927" d="M3812 1839l43 14 22-23-43-13z"/><path color="#ec7f63" d="M1581 2522l43-43 35-67-42 40z"/><path color="#b40426" d="M2958 1823l38 11 25-20-39-11z"/><path color="#b40426" d="M3989 1834l46 14 22-22-46-14z"/><path color="#b40426" d="M4511 1820l54 15 21-17-54-15z"/><path color="#b40426" d="M3059 1826l39 12 24-20-38-12z"/><path color="#b40426" d="M3161 1830l39 13 24-21-39-12z"/><path color="#da5a49" d="M1769 2261l42-26 33-51-42 23z"/><path color="#b50927" d="M3639 1843l42 14 23-23-43-13z"/><path color="#c12b30" d="M2131 1968l40-5 30-32-40 4z"/><path color="#b50927" d="M4799 1839l61 17 20-9-60-18z"/><path color="#b40426" d="M3263 1835l40 13 23-21-39-13z"/><path color="#b50927" d="M2482 1854l38 5 27-23-38-6z"/><path color="#b40426" d="M4173 1831l48 13 22-21-49-14z"/><path color="#b50927" d="M3366 1840l40 14 23-22-40-13z"/><path color="#b40426" d="M4437 1824l53 14 21-18-53-14z"/><path color="#c53334" d="M2061 2011l40-8 30-35-40 7z"/><path color="#ba162b" d="M2309 1898l39 1 28-27-39-1z"/><path color="#b50927" d="M3922 1843l45 14 22-23-45-13z"/><path color="#d55042" d="M1844 2184l41-20 32-46-41 18z"/><path color="#b50927" d="M3470 1846l40 14 23-22-40-14z"/><path color="#b50927" d="M3746 1848l43 14 23-23-44-14z"/><path color="#b40426" d="M2586 1842l39 7 26-22-38-7z"/><path color="#b40426" d="M4720 1834l59 17 20-12-58-17z"/><path color="#ca3b37" d="M1990 2061l40-12 31-38-41 10z"/><path color="#cf453c" d="M1917 2118l41-16 32-41-41 13z"/><path color="#b40426" d="M4103 1839l48 14 22-22-48-14z"/><path color="#b40426" d="M2689 1835l39 9 26-21-39-9z"/><path color="#b40426" d="M4364 1830l52 14 21-20-52-14z"/><path color="#b50927" d="M3575 1851l41 14 23-22-42-14z"/><path color="#b40426" d="M2792 1832l38 10 26-20-38-10z"/><path color="#b40426" d="M2894 1832l39 11 25-20-39-11z"/><path color="#b40426" d="M2996 1834l39 12 24-20-38-12z"/><path color="#b40426" d="M3098 1838l39 13 24-21-39-12z"/><path color="#b50927" d="M3855 1853l45 14 22-24-45-13z"/><path color="#b40426" d="M4642 1833l57 16 21-15-57-15z"/><path color="#e46e56" d="M1659 2412l42-36 35-59-42 33z"/><path color="#b40426" d="M3200 1843l39 13 24-21-39-13z"/><path color="#b70d28" d="M2415 1875l39 4 28-25-39-4z"/><path color="#f5a081" d="M1427 2821l42-63 39-83-43 57z"/><path color="#b8122a" d="M4942 1866l64 19 21-5-64-20z"/><path color="#bd1f2d" d="M2240 1928l40-1 29-29-40 1z"/><path color="#b50927" d="M3681 1857l43 14 22-23-42-14z"/><path color="#b50927" d="M3303 1848l39 14 24-22-40-13z"/><path color="#b40426" d="M4292 1837l51 14 21-21-51-14z"/><path color="#b50927" d="M4035 1848l47 14 21-23-46-13z"/><path color="#b50927" d="M3406 1854l40 14 24-22-41-14z"/><path color="#b40426" d="M4565 1835l56 15 21-17-56-15z"/><path color="#b50927" d="M2520 1859l39 6 27-23-39-6z"/><path color="#ee8669" d="M1545 2596l42-48 37-69-43 43z"/><path color="#b50927" d="M3510 1860l42 14 23-23-42-13z"/><path color="#b40426" d="M4221 1844l50 15 21-22-49-14z"/><path color="#b50927" d="M3789 1862l44 14 22-23-43-14z"/><path color="#b50927" d="M3967 1857l46 15 22-24-46-14z"/><path color="#c0282f" d="M2171 1963l40-4 29-31-39 3z"/><path color="#b50927" d="M4860 1856l62 18 20-8-62-19z"/><path color="#b40426" d="M2625 1849l38 8 26-22-38-8z"/><path color="#b40426" d="M4490 1838l54 15 21-18-54-15z"/><path color="#b40426" d="M2728 1844l38 9 26-21-38-9z"/><path color="#b8122a" d="M2348 1899l39 2 28-26-39-3z"/><path color="#b50927" d="M3616 1865l42 15 23-23-42-14z"/><path color="#de614d" d="M1736 2317l41-29 34-53-42 26z"/><path color="#b40426" d="M2830 1842l39 11 25-21-38-10z"/><path color="#b40426" d="M2933 1843l38 12 25-21-38-11z"/><path color="#b40426" d="M3035 1846l38 13 25-21-39-12z"/><path color="#b40426" d="M4151 1853l49 14 21-23-48-13z"/><path color="#b40426" d="M3137 1851l39 13 24-21-39-13z"/><path color="#b50927" d="M3239 1856l40 14 24-22-40-13z"/><path color="#c32e31" d="M2101 2003l40-7 30-33-40 5z"/><path color="#b50927" d="M3342 1862l40 14 24-22-40-14z"/><path color="#b50927" d="M4779 1851l60 17 21-12-61-17z"/><path color="#b40426" d="M4416 1844l53 14 21-20-53-14z"/><path color="#b50927" d="M3900 1867l45 14 22-24-45-14z"/><path color="#b50927" d="M3724 1871l43 14 22-23-43-14z"/><path color="#b70d28" d="M2454 1879l39 4 27-24-38-5z"/><path color="#b50927" d="M3446 1868l41 14 23-22-40-14z"/><path color="#d75445" d="M1811 2235l41-24 33-47-41 20z"/><path color="#b50927" d="M4082 1862l47 15 22-24-48-14z"/><path color="#c73635" d="M2030 2049l41-11 30-35-40 8z"/><path color="#b40426" d="M4343 1851l51 14 22-21-52-14z"/><path color="#bb1b2c" d="M2280 1927l39 0 29-28-39-1z"/><path color="#b50927" d="M3552 1874l41 15 23-24-41-14z"/><path color="#b40426" d="M4699 1849l59 16 21-14-59-17z"/><path color="#d1493f" d="M1885 2164l41-19 32-43-41 16z"/><path color="#cc403a" d="M1958 2102l41-14 31-39-40 12z"/><path color="#b40426" d="M2559 1865l39 7 27-23-39-7z"/><path color="#e8765c" d="M1624 2479l41-40 36-63-42 36z"/><path color="#b50927" d="M3833 1876l45 15 22-24-45-14z"/><path color="#b8122a" d="M5006 1885l67 20 20-3-66-22z"/><path color="#b40426" d="M2663 1857l38 9 27-22-39-9z"/><path color="#b50927" d="M4013 1872l47 14 22-24-47-14z"/><path color="#b40426" d="M4271 1859l50 14 22-22-51-14z"/><path color="#b70d28" d="M3658 1880l43 15 23-24-43-14z"/><path color="#b40426" d="M2766 1853l38 10 26-21-38-10z"/><path color="#b40426" d="M2869 1853l38 11 26-21-39-11z"/><path color="#b40426" d="M4621 1850l57 15 21-16-57-16z"/><path color="#b40426" d="M2971 1855l39 12 25-21-39-12z"/><path color="#b40426" d="M3073 1859l39 13 25-21-39-13z"/><path color="#b40426" d="M3176 1864l39 13 24-21-39-13z"/><path color="#b50927" d="M3279 1870l39 14 24-22-39-14z"/><path color="#b50927" d="M3382 1876l41 14 23-22-40-14z"/><path color="#b70d28" d="M2387 1901l39 3 28-25-39-4z"/><path color="#bd1f2d" d="M2211 1959l40-3 29-29-40 1z"/><path color="#b40426" d="M4200 1867l49 15 22-23-50-15z"/><path color="#b40426" d="M4544 1853l56 15 21-18-56-15z"/><path color="#b70d28" d="M4922 1874l64 19 20-8-64-19z"/><path color="#b70d28" d="M3767 1885l44 15 22-24-44-14z"/><path color="#b50927" d="M3487 1882l41 15 24-23-42-14z"/><path color="#b50927" d="M3945 1881l46 15 22-24-46-15z"/><path color="#b50927" d="M2493 1883l38 6 28-24-39-6z"/><path color="#b70d28" d="M3593 1889l42 15 23-24-42-15z"/><path color="#b40426" d="M4469 1858l54 15 21-20-54-15z"/><path color="#e16751" d="M1701 2376l41-32 35-56-41 29z"/><path color="#b50927" d="M4129 1877l49 14 22-24-49-14z"/><path color="#c0282f" d="M2141 1996l40-6 30-31-40 4z"/><path color="#b50927" d="M4839 1868l62 17 21-11-62-18z"/><path color="#b40426" d="M2598 1872l38 7 27-22-38-8z"/><path color="#b70d28" d="M3878 1891l45 15 22-25-45-14z"/><path color="#b40426" d="M2701 1866l39 9 26-22-38-9z"/><path color="#b40426" d="M4394 1865l53 15 22-22-53-14z"/><path color="#b40426" d="M3112 1872l39 13 25-21-39-13z"/><path color="#ba162b" d="M2319 1927l39 0 29-26-39-2z"/><path color="#b40426" d="M3010 1867l38 13 25-21-38-13z"/><path color="#b50927" d="M3215 1877l39 14 25-21-40-14z"/><path color="#b40426" d="M2804 1863l39 11 26-21-39-11z"/><path color="#b40426" d="M2907 1864l39 12 25-21-38-12z"/><path color="#b70d28" d="M3701 1895l43 15 23-25-43-14z"/><path color="#b50927" d="M3318 1884l41 14 23-22-40-14z"/><path color="#b50927" d="M4060 1886l47 15 22-24-47-15z"/><path color="#b40426" d="M4758 1865l60 16 21-13-60-17z"/><path color="#b50927" d="M3423 1890l41 15 23-23-41-14z"/><path color="#c43032" d="M2071 2038l40-8 30-34-40 7z"/><path color="#d95847" d="M1777 2288l41-27 34-50-41 24z"/><path color="#b40426" d="M4321 1873l52 15 21-23-51-14z"/><path color="#b70d28" d="M3528 1897l42 15 23-23-41-15z"/><path color="#ea7b60" d="M1587 2548l42-44 36-65-41 40z"/><path color="#b70d28" d="M3811 1900l44 16 23-25-45-15z"/><path color="#b70d28" d="M2426 1904l39 4 28-25-39-4z"/><path color="#c83836" d="M1999 2088l40-12 32-38-41 11z"/><path color="#b40426" d="M4678 1865l59 16 21-16-59-16z"/><path color="#d44e41" d="M1852 2211l41-21 33-45-41 19z"/><path color="#b70d28" d="M3991 1896l47 15 22-25-47-14z"/><path color="#b40426" d="M4249 1882l51 15 21-24-50-14z"/><path color="#cd423b" d="M1926 2145l41-16 32-41-41 14z"/><path color="#b70d28" d="M3635 1904l43 15 23-24-43-15z"/><path color="#bb1b2c" d="M2251 1956l39-1 29-28-39 0z"/><path color="#b50927" d="M2531 1889l39 6 28-23-39-7z"/><path color="#b40426" d="M4600 1868l57 16 21-19-57-15z"/><path color="#b50927" d="M3151 1885l39 14 25-22-39-13z"/><path color="#b40426" d="M2636 1879l38 9 27-22-38-9z"/><path color="#b50927" d="M3254 1891l40 15 24-22-39-14z"/><path color="#b50927" d="M4178 1891l49 15 22-24-49-15z"/><path color="#b40426" d="M3048 1880l39 13 25-21-39-13z"/><path color="#b40426" d="M2946 1876l38 12 26-21-39-12z"/><path color="#b70d28" d="M4986 1893l66 19 21-7-67-20z"/><path color="#b40426" d="M2740 1875l38 10 26-22-38-10z"/><path color="#b40426" d="M2843 1874l38 11 26-21-38-11z"/><path color="#b50927" d="M3359 1898l40 15 24-23-41-14z"/><path color="#b70d28" d="M3923 1906l46 15 22-25-46-15z"/><path color="#b70d28" d="M3744 1910l44 16 23-26-44-15z"/><path color="#b40426" d="M4523 1873l56 15 21-20-56-15z"/><path color="#b70d28" d="M3464 1905l41 16 23-24-41-15z"/><path color="#b8122a" d="M2358 1927l39 3 29-26-39-3z"/><path color="#be242e" d="M2181 1990l40-4 30-30-40 3z"/><path color="#b50927" d="M4107 1901l49 15 22-25-49-14z"/><path color="#b40426" d="M4447 1880l55 15 21-22-54-15z"/><path color="#b70d28" d="M3570 1912l42 16 23-24-42-15z"/><path color="#b50927" d="M4901 1885l64 18 21-10-64-19z"/><path color="#b70d28" d="M3855 1916l45 16 23-26-45-15z"/><path color="#b40426" d="M4373 1888l53 15 21-23-53-15z"/><path color="#b70d28" d="M3678 1919l43 16 23-25-43-15z"/><path color="#b50927" d="M2465 1908l38 4 28-23-38-6z"/><path color="#b70d28" d="M4038 1911l47 16 22-26-47-15z"/><path color="#b40426" d="M4818 1881l62 17 21-13-62-17z"/><path color="#c12b30" d="M2111 2030l39-7 31-33-40 6z"/><path color="#b50927" d="M3190 1899l40 15 24-23-39-14z"/><path color="#b50927" d="M3294 1906l40 15 25-23-41-14z"/><path color="#b40426" d="M3087 1893l39 14 25-22-39-13z"/><path color="#b50927" d="M4300 1897l52 15 21-24-52-15z"/><path color="#b40426" d="M2570 1895l38 7 28-23-38-7z"/><path color="#b40426" d="M2984 1888l39 13 25-21-38-13z"/><path color="#b70d28" d="M3399 1913l41 16 24-24-41-15z"/><path color="#b40426" d="M2881 1885l39 12 26-21-39-12z"/><path color="#b40426" d="M2674 1888l39 9 27-22-39-9z"/><path color="#b40426" d="M2778 1885l38 10 27-21-39-11z"/><path color="#b40426" d="M4737 1881l60 16 21-16-60-16z"/><path color="#ba162b" d="M2290 1955l39 0 29-28-39 0z"/><path color="#ed8366" d="M1549 2622l42-49 38-69-42 44z"/><path color="#dd5f4b" d="M1742 2344l42-30 34-53-41 27z"/><path color="#b8122a" d="M3788 1926l44 16 23-26-44-16z"/><path color="#b70d28" d="M3505 1921l41 16 24-25-42-15z"/><path color="#b70d28" d="M3969 1921l47 16 22-26-47-15z"/><path color="#b50927" d="M4227 1906l51 16 22-25-51-15z"/><path color="#c53334" d="M2039 2076l40-11 32-35-40 8z"/><path color="#b40426" d="M4657 1884l59 15 21-18-59-16z"/><path color="#b8122a" d="M3612 1928l43 16 23-25-43-15z"/><path color="#d65244" d="M1818 2261l41-24 34-47-41 21z"/><path color="#cb3e38" d="M1967 2129l40-14 32-39-40 12z"/><path color="#b40426" d="M4579 1888l57 16 21-20-57-16z"/><path color="#b70d28" d="M4156 1916l50 16 21-26-49-15z"/><path color="#d0473d" d="M1893 2190l41-19 33-42-41 16z"/><path color="#b70d28" d="M2397 1930l39 3 29-25-39-4z"/><path color="#b8122a" d="M3900 1932l46 16 23-27-46-15z"/><path color="#b8122a" d="M3721 1935l44 16 23-25-44-16z"/><path color="#b40426" d="M4502 1895l56 15 21-22-56-15z"/><path color="#bd1f2d" d="M2221 1986l39-2 30-29-39 1z"/><path color="#b50927" d="M3230 1914l40 15 24-23-40-15z"/><path color="#b70d28" d="M3334 1921l41 16 24-24-40-15z"/><path color="#b50927" d="M3126 1907l39 14 25-22-39-14z"/><path color="#b50927" d="M2503 1912l39 6 28-23-39-6z"/><path color="#b40426" d="M3023 1901l39 14 25-22-39-13z"/><path color="#b70d28" d="M4085 1927l49 16 22-27-49-15z"/><path color="#b70d28" d="M3440 1929l41 16 24-24-41-16z"/><path color="#b40426" d="M2920 1897l38 13 26-22-38-12z"/><path color="#b40426" d="M4426 1903l54 15 22-23-55-15z"/><path color="#b40426" d="M2608 1902l39 8 27-22-38-9z"/><path color="#b40426" d="M2816 1895l39 12 26-22-38-11z"/><path color="#b50927" d="M4965 1903l67 18 20-9-66-19z"/><path color="#b40426" d="M2713 1897l38 9 27-21-38-10z"/><path color="#b8122a" d="M3546 1937l43 16 23-25-42-16z"/><path color="#b8122a" d="M3832 1942l46 16 22-26-45-16z"/><path color="#b50927" d="M4352 1912l53 16 21-25-53-15z"/><path color="#b70d28" d="M4016 1937l47 17 22-27-47-16z"/><path color="#b8122a" d="M3655 1944l43 17 23-26-43-16z"/><path color="#b40426" d="M4880 1898l65 18 20-13-64-18z"/><path color="#c0282f" d="M2150 2023l40-5 31-32-40 4z"/><path color="#b8122a" d="M2329 1955l39 1 29-26-39-3z"/><path color="#b50927" d="M4278 1922l52 16 22-26-52-15z"/><path color="#b40426" d="M4797 1897l63 17 20-16-62-17z"/><path color="#b70d28" d="M3270 1929l40 16 24-24-40-15z"/><path color="#f08a6c" d="M1511 2700l41-54 39-73-42 49z"/><path color="#b8122a" d="M3765 1951l45 17 22-26-44-16z"/><path color="#b8122a" d="M3946 1948l47 17 23-28-47-16z"/><path color="#b70d28" d="M3375 1937l41 16 24-24-41-16z"/><path color="#b50927" d="M3165 1921l40 16 25-23-40-15z"/><path color="#b70d28" d="M4206 1932l50 16 22-26-51-16z"/><path color="#b50927" d="M2436 1933l39 4 28-25-38-4z"/><path color="#b40426" d="M3062 1915l39 14 25-22-39-14z"/><path color="#b40426" d="M4716 1899l60 17 21-19-60-16z"/><path color="#b8122a" d="M3481 1945l42 17 23-25-41-16z"/><path color="#c32e31" d="M2079 2065l40-8 31-34-39 7z"/><path color="#b40426" d="M2958 1910l39 13 26-22-39-13z"/><path color="#df634e" d="M1707 2402l41-33 36-55-42 30z"/><path color="#b40426" d="M2542 1918l38 7 28-23-38-7z"/><path color="#b40426" d="M2855 1907l38 12 27-22-39-12z"/><path color="#b40426" d="M4636 1904l59 16 21-21-59-15z"/><path color="#b8122a" d="M3589 1953l42 17 24-26-43-16z"/><path color="#b40426" d="M2751 1906l38 11 27-22-38-10z"/><path color="#b70d28" d="M4134 1943l50 16 22-27-50-16z"/><path color="#b40426" d="M2647 1910l38 9 28-22-39-9z"/><path color="#ba162b" d="M2260 1984l39-1 30-28-39 0z"/><path color="#b40426" d="M4558 1910l57 16 21-22-57-16z"/><path color="#b8122a" d="M3878 1958l46 17 22-27-46-16z"/><path color="#c73635" d="M2007 2115l40-13 32-37-40 11z"/><path color="#b8122a" d="M3698 1961l44 17 23-27-44-16z"/><path color="#d85646" d="M1784 2314l40-27 35-50-41 24z"/><path color="#b40426" d="M4480 1918l56 16 22-24-56-15z"/><path color="#b8122a" d="M4063 1954l49 17 22-28-49-16z"/><path color="#cc403a" d="M1934 2171l40-16 33-40-40 14z"/><path color="#d24b40" d="M1859 2237l41-21 34-45-41 19z"/><path color="#b50927" d="M4405 1928l54 16 21-26-54-15z"/><path color="#b70d28" d="M3310 1945l40 16 25-24-41-16z"/><path color="#b50927" d="M3205 1937l40 15 25-23-40-15z"/><path color="#b8122a" d="M3416 1953l41 17 24-25-41-16z"/><path color="#b70d28" d="M2368 1956l39 2 29-25-39-3z"/><path color="#b50927" d="M3101 1929l39 15 25-23-39-14z"/><path color="#ba162b" d="M3810 1968l45 18 23-28-46-16z"/><path color="#b50927" d="M4330 1938l53 16 22-26-53-16z"/><path color="#b8122a" d="M3523 1962l42 17 24-26-43-16z"/><path color="#b8122a" d="M3993 1965l48 17 22-28-47-17z"/><path color="#b40426" d="M2997 1923l39 14 26-22-39-14z"/><path color="#bd1f2d" d="M2190 2018l39-4 31-30-39 2z"/><path color="#e9785d" d="M1591 2573l41-45 38-65-41 41z"/><path color="#b40426" d="M2893 1919l39 13 26-22-38-13z"/><path color="#b50927" d="M2475 1937l38 5 29-24-39-6z"/><path color="#ba162b" d="M3631 1970l44 18 23-27-43-17z"/><path color="#b40426" d="M4945 1916l66 18 21-13-67-18z"/><path color="#b70d28" d="M4256 1948l52 17 22-27-52-16z"/><path color="#b40426" d="M2789 1917l39 12 27-22-39-12z"/><path color="#b40426" d="M2580 1925l39 8 28-23-39-8z"/><path color="#b40426" d="M2685 1919l39 10 27-23-38-9z"/><path color="#b40426" d="M4860 1914l64 18 21-16-65-18z"/><path color="#ba162b" d="M3924 1975l46 18 23-28-47-17z"/><path color="#b70d28" d="M4184 1959l50 18 22-29-50-16z"/><path color="#ba162b" d="M3742 1978l44 18 24-28-45-17z"/><path color="#b40426" d="M4776 1916l63 17 21-19-63-17z"/><path color="#c0282f" d="M2119 2057l39-7 32-32-40 5z"/><path color="#b8122a" d="M2299 1983l39 0 30-27-39-1z"/><path color="#b8122a" d="M3350 1961l41 17 25-25-41-16z"/><path color="#b40426" d="M4695 1920l60 17 21-21-60-17z"/><path color="#b70d28" d="M3245 1952l40 17 25-24-40-16z"/><path color="#b8122a" d="M3457 1970l42 18 24-26-42-17z"/><path color="#b8122a" d="M4112 1971l49 17 23-29-50-16z"/><path color="#b50927" d="M3140 1944l40 16 25-23-40-16z"/><path color="#b40426" d="M4615 1926l59 17 21-23-59-16z"/><path color="#ba162b" d="M3565 1979l43 18 23-27-42-17z"/><path color="#3b4cc0" d="M3932 5382l63 222 39-238-63-208z"/><path color="#b50927" d="M3036 1937l39 15 26-23-39-14z"/><path color="#ba162b" d="M3855 1986l46 18 23-29-46-17z"/><path color="#e26952" d="M1670 2463l41-37 37-57-41 33z"/><path color="#b40426" d="M4536 1934l57 17 22-25-57-16z"/><path color="#b40426" d="M2932 1932l39 13 26-22-39-13z"/><path color="#b70d28" d="M2407 1958l38 4 30-25-39-4z"/><path color="#b50927" d="M4459 1944l56 16 21-26-56-16z"/><path color="#ba162b" d="M4041 1982l48 18 23-29-49-17z"/><path color="#ba162b" d="M3675 1988l43 18 24-28-44-17z"/><path color="#c43032" d="M2047 2102l40-10 32-35-40 8z"/><path color="#b40426" d="M2828 1929l38 12 27-22-38-12z"/><path color="#b50927" d="M4383 1954l54 17 22-27-54-16z"/><path color="#b40426" d="M2513 1942l39 7 28-24-38-7z"/><path color="#b40426" d="M2724 1929l38 10 27-22-38-11z"/><path color="#b40426" d="M2619 1933l38 9 28-23-38-9z"/><path color="#da5a49" d="M1748 2369l40-31 36-51-40 27z"/><path color="#b70d28" d="M4308 1965l53 17 22-28-53-16z"/><path color="#bb1b2c" d="M2229 2014l39-2 31-29-39 1z"/><path color="#ba162b" d="M3786 1996l46 19 23-29-45-18z"/><path color="#ca3b37" d="M1974 2155l40-14 33-39-40 13z"/><path color="#ba162b" d="M3970 1993l48 18 23-29-48-17z"/><path color="#b8122a" d="M3391 1978l41 18 25-26-41-17z"/><path color="#b70d28" d="M3285 1969l40 17 25-25-40-16z"/><path color="#ba162b" d="M3499 1988l42 18 24-27-42-17z"/><path color="#b8122a" d="M4234 1977l52 17 22-29-52-17z"/><path color="#d44e41" d="M1824 2287l41-24 35-47-41 21z"/><path color="#cf453c" d="M1900 2216l40-19 34-42-40 16z"/><path color="#b70d28" d="M3180 1960l40 16 25-24-40-15z"/><path color="#ba162b" d="M3608 1997l43 19 24-28-44-18z"/><path color="#b50927" d="M3075 1952l39 15 26-23-39-15z"/><path color="#b8122a" d="M4161 1988l51 18 22-29-50-18z"/><path color="#bb1b2c" d="M3901 2004l47 19 22-30-46-18z"/><path color="#b40426" d="M2971 1945l39 15 26-23-39-14z"/><path color="#b70d28" d="M2338 1983l39 2 30-27-39-2z"/><path color="#b40426" d="M4924 1932l66 18 21-16-66-18z"/><path color="#bb1b2c" d="M3718 2006l45 19 23-29-44-18z"/><path color="#b40426" d="M2866 1941l39 13 27-22-39-13z"/><path color="#b40426" d="M4839 1933l64 17 21-18-64-18z"/><path color="#be242e" d="M2158 2050l40-5 31-31-39 4z"/><path color="#b40426" d="M4755 1937l63 17 21-21-63-17z"/><path color="#ba162b" d="M4089 2000l50 18 22-30-49-17z"/><path color="#b50927" d="M2445 1962l39 5 29-25-38-5z"/><path color="#b40426" d="M2762 1939l39 12 27-22-39-12z"/><path color="#b40426" d="M4674 1943l60 17 21-23-60-17z"/><path color="#b40426" d="M2657 1942l39 9 28-22-39-10z"/><path color="#b40426" d="M2552 1949l38 7 29-23-39-8z"/><path color="#b40426" d="M4593 1951l59 17 22-25-59-17z"/><path color="#ba162b" d="M3432 1996l42 18 25-26-42-18z"/><path color="#b8122a" d="M3325 1986l41 18 25-26-41-17z"/><path color="#bb1b2c" d="M3832 2015l46 19 23-30-46-18z"/><path color="#b50927" d="M4515 1960l57 18 21-27-57-17z"/><path color="#ba162b" d="M3541 2006l43 19 24-28-43-18z"/><path color="#b70d28" d="M3220 1976l40 17 25-24-40-17z"/><path color="#b70d28" d="M4437 1971l56 17 22-28-56-16z"/><path color="#bb1b2c" d="M4018 2011l49 19 22-30-48-18z"/><path color="#b50927" d="M3114 1967l40 17 26-24-40-16z"/><path color="#bb1b2c" d="M3651 2016l44 19 23-29-43-18z"/><path color="#b70d28" d="M4361 1982l55 18 21-29-54-17z"/><path color="#c12b30" d="M2087 2092l39-8 32-34-39 7z"/><path color="#e46e56" d="M1632 2528l41-41 38-61-41 37z"/><path color="#ba162b" d="M2268 2012l39-1 31-28-39 0z"/><path color="#b50927" d="M3010 1960l39 15 26-23-39-15z"/><path color="#b8122a" d="M4286 1994l53 18 22-30-53-17z"/><path color="#bb1b2c" d="M3948 2023l47 19 23-31-48-18z"/><path color="#bb1b2c" d="M3763 2025l45 20 24-30-46-19z"/><path color="#b40426" d="M2905 1954l39 14 27-23-39-13z"/><path color="#ba162b" d="M4212 2006l52 19 22-31-52-17z"/><path color="#c53334" d="M2014 2141l40-12 33-37-40 10z"/><path color="#b70d28" d="M2377 1985l38 3 30-26-38-4z"/><path color="#b40426" d="M2801 1951l38 12 27-22-38-12z"/><path color="#ba162b" d="M3366 2004l42 18 24-26-41-18z"/><path color="#ba162b" d="M3474 2014l42 19 25-27-42-18z"/><path color="#de614d" d="M1711 2426l41-33 36-55-40 31z"/><path color="#ba162b" d="M4139 2018l51 19 22-31-51-18z"/><path color="#b40426" d="M2696 1951l38 11 28-23-38-10z"/><path color="#b8122a" d="M3260 1993l40 18 25-25-40-17z"/><path color="#b40426" d="M2484 1967l39 6 29-24-39-7z"/><path color="#bb1b2c" d="M3584 2025l43 19 24-28-43-19z"/><path color="#b40426" d="M2590 1956l39 9 28-23-38-9z"/><path color="#bd1f2d" d="M3878 2034l47 20 23-31-47-19z"/><path color="#b70d28" d="M3154 1984l40 17 26-25-40-16z"/><path color="#cb3e38" d="M1940 2197l40-16 34-40-40 14z"/><path color="#bb1b2c" d="M2198 2045l39-3 31-30-39 2z"/><path color="#bd1f2d" d="M3695 2035l44 20 24-30-45-19z"/><path color="#d65244" d="M1788 2338l41-27 36-48-41 24z"/><path color="#bb1b2c" d="M4067 2030l50 20 22-32-50-18z"/><path color="#d0473d" d="M1865 2263l40-22 35-44-40 19z"/><path color="#b50927" d="M3049 1975l39 16 26-24-39-15z"/><path color="#b40426" d="M4903 1950l67 18 20-18-66-18z"/><path color="#b40426" d="M4818 1954l64 17 21-21-64-17z"/><path color="#b40426" d="M4734 1960l63 17 21-23-63-17z"/><path color="#516ddb" d="M3971 5158l63 208 38-223-64-195z"/><path color="#b50927" d="M4652 1968l61 18 21-26-60-17z"/><path color="#b50927" d="M4572 1978l59 17 21-27-59-17z"/><path color="#b40426" d="M2944 1968l39 15 27-23-39-15z"/><path color="#b70d28" d="M4493 1988l57 18 22-28-57-18z"/><path color="#bd1f2d" d="M3808 2045l46 20 24-31-46-19z"/><path color="#b8122a" d="M4416 2000l55 18 22-30-56-17z"/><path color="#bd1f2d" d="M3995 2042l49 20 23-32-49-19z"/><path color="#b8122a" d="M2307 2011l39 1 31-27-39-2z"/><path color="#b8122a" d="M4339 2012l55 19 22-31-55-18z"/><path color="#b40426" d="M2839 1963l39 14 27-23-39-13z"/><path color="#ba162b" d="M3408 2022l41 20 25-28-42-18z"/><path color="#bb1b2c" d="M3516 2033l43 20 25-28-43-19z"/><path color="#b8122a" d="M3300 2011l41 19 25-26-41-18z"/><path color="#c0282f" d="M2126 2084l39-7 33-32-40 5z"/><path color="#ba162b" d="M4264 2025l53 19 22-32-53-18z"/><path color="#bd1f2d" d="M3627 2044l44 21 24-30-44-19z"/><path color="#b40426" d="M2734 1962l39 12 28-23-39-12z"/><path color="#b8122a" d="M3194 2001l40 18 26-26-40-17z"/><path color="#b50927" d="M2415 1988l39 4 30-25-39-5z"/><path color="#bd1f2d" d="M3925 2054l47 21 23-33-47-19z"/><path color="#b40426" d="M2629 1965l38 9 29-23-39-9z"/><path color="#b40426" d="M2523 1973l38 7 29-24-38-7z"/><path color="#bb1b2c" d="M4190 2037l52 20 22-32-52-19z"/><path color="#bd1f2d" d="M3739 2055l46 21 23-31-45-20z"/><path color="#b70d28" d="M3088 1991l40 17 26-24-40-17z"/><path color="#e7745b" d="M1593 2597l41-46 39-64-41 41z"/><path color="#bd1f2d" d="M4117 2050l50 20 23-33-51-19z"/><path color="#b50927" d="M2983 1983l39 16 27-24-39-15z"/><path color="#c32e31" d="M2054 2129l39-10 33-35-39 8z"/><path color="#be242e" d="M3854 2065l47 21 24-32-47-20z"/><path color="#ba162b" d="M2237 2042l39-2 31-29-39 1z"/><path color="#bb1b2c" d="M3449 2042l43 20 24-29-42-19z"/><path color="#516ddb" d="M3870 5173l62 209 39-224-62-195z"/><path color="#bd1f2d" d="M3559 2053l44 21 24-30-43-19z"/><path color="#b40426" d="M2878 1977l39 14 27-23-39-14z"/><path color="#ba162b" d="M3341 2030l42 19 25-27-42-18z"/><path color="#bd1f2d" d="M4044 2062l50 21 23-33-50-20z"/><path color="#be242e" d="M3671 2065l44 21 24-31-44-20z"/><path color="#b8122a" d="M3234 2019l41 18 25-26-40-18z"/><path color="#b40426" d="M2773 1974l38 12 28-23-38-12z"/><path color="#e0654f" d="M1673 2487l40-37 39-57-41 33z"/><path color="#c73635" d="M1980 2181l40-14 34-38-40 12z"/><path color="#b70d28" d="M4550 2006l59 19 22-30-59-17z"/><path color="#b50927" d="M4631 1995l61 19 21-28-61-18z"/><path color="#b8122a" d="M4471 2018l58 19 21-31-57-18z"/><path color="#b50927" d="M4713 1986l62 18 22-27-63-17z"/><path color="#b70d28" d="M2346 2012l39 2 30-26-38-3z"/><path color="#b40426" d="M4797 1977l64 18 21-24-64-17z"/><path color="#b70d28" d="M3128 2008l40 18 26-25-40-17z"/><path color="#ba162b" d="M4394 2031l55 20 22-33-55-18z"/><path color="#b40426" d="M4882 1971l67 19 21-22-67-18z"/><path color="#be242e" d="M3972 2075l49 21 23-34-49-20z"/><path color="#b40426" d="M2667 1974l39 11 28-23-38-11z"/><path color="#be242e" d="M3785 2076l46 21 23-32-46-20z"/><path color="#bb1b2c" d="M4317 2044l54 20 23-33-55-19z"/><path color="#b40426" d="M2454 1992l39 6 30-25-39-6z"/><path color="#b40426" d="M2561 1980l38 8 30-23-39-9z"/><path color="#cc403a" d="M1905 2241l40-19 35-41-40 16z"/><path color="#b50927" d="M3022 1999l40 16 26-24-39-16z"/><path color="#d95847" d="M1752 2393l40-30 37-52-41 27z"/><path color="#bb1b2c" d="M4242 2057l53 21 22-34-53-19z"/><path color="#bd1f2d" d="M2165 2077l40-4 32-31-39 3z"/><path color="#bd1f2d" d="M3492 2062l42 21 25-30-43-20z"/><path color="#bd1f2d" d="M4167 2070l52 21 23-34-52-20z"/><path color="#bb1b2c" d="M3383 2049l41 21 25-28-41-20z"/><path color="#be242e" d="M3901 2086l48 22 23-33-47-21z"/><path color="#be242e" d="M3603 2074l44 22 24-31-44-21z"/><path color="#b50927" d="M2917 1991l39 15 27-23-39-15z"/><path color="#ba162b" d="M3275 2037l41 20 25-27-41-19z"/><path color="#be242e" d="M3715 2086l46 22 24-32-46-21z"/><path color="#be242e" d="M4094 2083l50 22 23-35-50-20z"/><path color="#b40426" d="M2811 1986l39 14 28-23-39-14z"/><path color="#b8122a" d="M3168 2026l40 18 26-25-40-18z"/><path color="#b8122a" d="M2276 2040l39 0 31-28-39-1z"/><path color="#c0282f" d="M3831 2097l47 23 23-34-47-21z"/><path color="#b40426" d="M2706 1985l38 12 29-23-39-12z"/><path color="#c0282f" d="M2093 2119l39-8 33-34-39 7z"/><path color="#688aef" d="M4008 4948l64 195 36-211-64-182z"/><path color="#c0282f" d="M4021 2096l50 22 23-35-50-21z"/><path color="#b70d28" d="M3062 2015l39 18 27-25-40-17z"/><path color="#b50927" d="M2385 2014l38 4 31-26-39-4z"/><path color="#b40426" d="M2599 1988l39 10 29-24-38-9z"/><path color="#be242e" d="M3534 2083l44 22 25-31-44-21z"/><path color="#b40426" d="M2493 1998l38 6 30-24-38-7z"/><path color="#bd1f2d" d="M3424 2070l43 21 25-29-43-20z"/><path color="#b8122a" d="M4529 2037l59 20 21-32-59-19z"/><path color="#ba162b" d="M4449 2051l58 20 22-34-58-19z"/><path color="#c0282f" d="M3647 2096l44 22 24-32-44-21z"/><path color="#b70d28" d="M4609 2025l61 19 22-30-61-19z"/><path color="#bb1b2c" d="M4371 2064l56 21 22-34-55-20z"/><path color="#b50927" d="M2956 2006l39 17 27-24-39-16z"/><path color="#b50927" d="M4692 2014l62 19 21-29-62-18z"/><path color="#bb1b2c" d="M3316 2057l41 20 26-28-42-19z"/><path color="#c0282f" d="M3949 2108l49 23 23-35-49-21z"/><path color="#bd1f2d" d="M4295 2078l54 21 22-35-54-20z"/><path color="#b50927" d="M4775 2004l65 18 21-27-64-18z"/><path color="#c0282f" d="M3761 2108l46 23 24-34-46-21z"/><path color="#b40426" d="M4861 1995l67 19 21-24-67-19z"/><path color="#be242e" d="M4219 2091l53 22 23-35-53-21z"/><path color="#ba162b" d="M3208 2044l41 20 26-27-41-18z"/><path color="#c43032" d="M2020 2167l39-12 34-36-39 10z"/><path color="#b40426" d="M2850 2000l39 15 28-24-39-14z"/><path color="#bb1b2c" d="M2205 2073l39-3 32-30-39 2z"/><path color="#c0282f" d="M4144 2105l52 23 23-37-52-21z"/><path color="#b8122a" d="M3101 2033l40 18 27-25-40-18z"/><path color="#c12b30" d="M3878 2120l47 23 24-35-48-22z"/><path color="#b40426" d="M2744 1997l39 13 28-24-38-12z"/><path color="#c0282f" d="M3578 2105l44 23 25-32-44-22z"/><path color="#ca3b37" d="M1945 2222l39-16 36-39-40 14z"/><path color="#c0282f" d="M4071 2118l50 23 23-36-50-22z"/><path color="#be242e" d="M3467 2091l42 23 25-31-42-21z"/><path color="#688aef" d="M3909 4963l62 195 37-210-62-183z"/><path color="#b70d28" d="M2315 2040l38 1 32-27-39-2z"/><path color="#c12b30" d="M3691 2118l45 24 25-34-46-22z"/><path color="#b40426" d="M2638 1998l38 11 30-24-39-11z"/><path color="#bd1f2d" d="M3357 2077l42 22 25-29-41-21z"/><path color="#b70d28" d="M2995 2023l39 17 28-25-40-16z"/><path color="#b40426" d="M2531 2004l39 9 29-25-38-8z"/><path color="#b50927" d="M2423 2018l39 5 31-25-39-6z"/><path color="#cf453c" d="M1869 2287l40-21 36-44-40 19z"/><path color="#ba162b" d="M3249 2064l41 21 26-28-41-20z"/><path color="#c12b30" d="M3998 2131l49 24 24-37-50-22z"/><path color="#c12b30" d="M3807 2131l47 24 24-35-47-23z"/><path color="#d55042" d="M1792 2363l40-28 37-48-40 24z"/><path color="#b50927" d="M2889 2015l39 16 28-25-39-15z"/><path color="#be242e" d="M2132 2111l39-7 34-31-40 4z"/><path color="#bd1f2d" d="M4427 2085l58 21 22-35-58-20z"/><path color="#bb1b2c" d="M4507 2071l59 21 22-35-59-20z"/><path color="#be242e" d="M4349 2099l56 22 22-36-56-21z"/><path color="#b8122a" d="M3141 2051l40 20 27-27-40-18z"/><path color="#b8122a" d="M4588 2057l60 20 22-33-61-19z"/><path color="#c0282f" d="M4272 2113l55 23 22-37-54-21z"/><path color="#b8122a" d="M4670 2044l62 20 22-31-62-19z"/><path color="#c32e31" d="M3925 2143l49 25 24-37-49-23z"/><path color="#b40426" d="M2783 2010l39 14 28-24-39-14z"/><path color="#c0282f" d="M3509 2114l44 23 25-32-44-22z"/><path color="#c12b30" d="M3622 2128l44 24 25-34-44-22z"/><path color="#c0282f" d="M4196 2128l53 23 23-38-53-22z"/><path color="#b70d28" d="M4754 2033l64 19 22-30-65-18z"/><path color="#be242e" d="M3399 2099l42 23 26-31-43-21z"/><path color="#c32e31" d="M3736 2142l47 24 24-35-46-23z"/><path color="#b70d28" d="M3034 2040l40 18 27-25-39-18z"/><path color="#b50927" d="M4840 2022l66 20 22-28-67-19z"/><path color="#c12b30" d="M4121 2141l52 25 23-38-52-23z"/><path color="#b8122a" d="M2244 2070l38-1 33-29-39 0z"/><path color="#b40426" d="M2676 2009l39 12 29-24-38-12z"/><path color="#bb1b2c" d="M3290 2085l41 21 26-29-41-20z"/><path color="#c12b30" d="M2059 2155l39-10 34-34-39 8z"/><path color="#c32e31" d="M3854 2155l47 25 24-37-47-23z"/><path color="#b40426" d="M2570 2013l38 9 30-24-39-10z"/><path color="#80a3fa" d="M4044 4750l64 182 36-198-64-170z"/><path color="#688aef" d="M3810 4976l60 197 39-210-60-184z"/><path color="#b50927" d="M2928 2031l39 17 28-25-39-17z"/><path color="#c32e31" d="M4047 2155l51 25 23-39-50-23z"/><path color="#b50927" d="M2353 2041l39 3 31-26-38-4z"/><path color="#b40426" d="M2462 2023l39 6 30-25-38-6z"/><path color="#ba162b" d="M3181 2071l41 21 27-28-41-20z"/><path color="#c12b30" d="M3553 2137l44 24 25-33-44-23z"/><path color="#c32e31" d="M3666 2152l46 25 24-35-45-24z"/><path color="#c0282f" d="M3441 2122l43 23 25-31-42-23z"/><path color="#b40426" d="M2822 2024l39 15 28-24-39-15z"/><path color="#c43032" d="M3974 2168l50 25 23-38-49-24z"/><path color="#b8122a" d="M3074 2058l40 20 27-27-40-18z"/><path color="#c53334" d="M1984 2206l40-14 35-37-39 12z"/><path color="#c43032" d="M3783 2166l46 26 25-37-47-24z"/><path color="#be242e" d="M4405 2121l57 23 23-38-58-21z"/><path color="#c0282f" d="M4327 2136l55 24 23-39-56-22z"/><path color="#bd1f2d" d="M4485 2106l59 23 22-37-59-21z"/><path color="#bd1f2d" d="M3331 2106l42 23 26-30-42-22z"/><path color="#bb1b2c" d="M4566 2092l60 21 22-36-60-20z"/><path color="#c12b30" d="M4249 2151l55 24 23-39-55-23z"/><path color="#bb1b2c" d="M2171 2104l39-4 34-30-39 3z"/><path color="#b40426" d="M2715 2021l39 13 29-24-39-13z"/><path color="#ba162b" d="M4648 2077l63 22 21-35-62-20z"/><path color="#c32e31" d="M4173 2166l53 25 23-40-53-23z"/><path color="#c43032" d="M3901 2180l49 26 24-38-49-25z"/><path color="#b70d28" d="M2967 2048l40 18 27-26-39-17z"/><path color="#bb1b2c" d="M3222 2092l41 21 27-28-41-21z"/><path color="#cb3e38" d="M1909 2266l39-19 36-41-39 16z"/><path color="#b8122a" d="M4732 2064l65 21 21-33-64-19z"/><path color="#7ea1fa" d="M3946 4765l62 183 36-198-62-171z"/><path color="#de614d" d="M1674 2510l40-37 40-57-41 34z"/><path color="#b40426" d="M2608 2022l39 11 29-24-38-11z"/><path color="#c43032" d="M4098 2180l52 26 23-40-52-25z"/><path color="#c32e31" d="M3597 2161l44 26 25-35-44-24z"/><path color="#b70d28" d="M2282 2069l39 0 32-28-38-1z"/><path color="#c43032" d="M3712 2177l46 26 25-37-47-24z"/><path color="#b70d28" d="M4818 2052l67 21 21-31-66-20z"/><path color="#c12b30" d="M3484 2145l43 25 26-33-44-23z"/><path color="#d0473d" d="M1832 2335l40-24 37-45-40 21z"/><path color="#b40426" d="M2501 2029l38 8 31-24-39-9z"/><path color="#d75445" d="M1754 2416l40-30 38-51-40 28z"/><path color="#b50927" d="M2392 2044l39 5 31-26-39-5z"/><path color="#ba162b" d="M3114 2078l40 20 27-27-40-20z"/><path color="#b50927" d="M2861 2039l39 16 28-24-39-16z"/><path color="#c53334" d="M4024 2193l51 27 23-40-51-25z"/><path color="#be242e" d="M3373 2129l42 24 26-31-42-23z"/><path color="#c53334" d="M3829 2192l48 27 24-39-47-25z"/><path color="#be242e" d="M2098 2145l39-7 34-34-39 7z"/><path color="#bd1f2d" d="M3263 2113l41 23 27-30-41-21z"/><path color="#b40426" d="M2754 2034l39 14 29-24-39-14z"/><path color="#b70d28" d="M3007 2066l39 19 28-27-40-18z"/><path color="#c73635" d="M3950 2206l50 28 24-41-50-25z"/><path color="#c12b30" d="M4382 2160l58 25 22-41-57-23z"/><path color="#c32e31" d="M4304 2175l56 26 22-41-55-24z"/><path color="#c0282f" d="M4462 2144l59 24 23-39-59-23z"/><path color="#c43032" d="M3641 2187l46 26 25-36-46-25z"/><path color="#c43032" d="M4226 2191l55 26 23-42-55-24z"/><path color="#be242e" d="M4544 2129l60 23 22-39-60-21z"/><path color="#c32e31" d="M3527 2170l44 26 26-35-44-24z"/><path color="#c53334" d="M3758 2203l47 27 24-38-46-26z"/><path color="#b40426" d="M2647 2033l38 12 30-24-39-12z"/><path color="#bb1b2c" d="M3154 2098l41 22 27-28-41-21z"/><path color="#c53334" d="M4150 2206l53 27 23-42-53-25z"/><path color="#bb1b2c" d="M4626 2113l63 23 22-37-63-22z"/><path color="#ba162b" d="M2210 2100l39-2 33-29-38 1z"/><path color="#c12b30" d="M3415 2153l43 25 26-33-43-23z"/><path color="#b50927" d="M2900 2055l39 18 28-25-39-17z"/><path color="#94b6ff" d="M4080 4564l64 170 34-188-64-158z"/><path color="#7ea1fa" d="M3849 4779l60 184 37-198-60-172z"/><path color="#c32e31" d="M2024 2192l39-11 35-36-39 10z"/><path color="#c73635" d="M3877 2219l49 28 24-41-49-26z"/><path color="#b40426" d="M2539 2037l39 10 30-25-38-9z"/><path color="#ba162b" d="M4711 2099l64 22 22-36-65-21z"/><path color="#c73635" d="M4075 2220l51 28 24-42-52-26z"/><path color="#b50927" d="M2321 2069l39 3 32-28-39-3z"/><path color="#be242e" d="M3304 2136l42 24 27-31-42-23z"/><path color="#b40426" d="M2431 2049l38 6 32-26-39-6z"/><path color="#b8122a" d="M3046 2085l40 20 28-27-40-20z"/><path color="#b8122a" d="M4797 2085l67 21 21-33-67-21z"/><path color="#b40426" d="M2793 2048l39 16 29-25-39-15z"/><path color="#c53334" d="M3687 2213l46 28 25-38-46-26z"/><path color="#c83836" d="M4000 2234l51 28 24-42-51-27z"/><path color="#c43032" d="M3571 2196l45 27 25-36-44-26z"/><path color="#c83836" d="M3805 2230l48 29 24-40-48-27z"/><path color="#bd1f2d" d="M3195 2120l41 23 27-30-41-21z"/><path color="#c73635" d="M1948 2247l40-16 36-39-40 14z"/><path color="#c32e31" d="M3458 2178l43 26 26-34-43-25z"/><path color="#b70d28" d="M2939 2073l39 19 29-26-40-18z"/><path color="#c43032" d="M4360 2201l57 26 23-42-58-25z"/><path color="#b40426" d="M2685 2045l39 13 30-24-39-13z"/><path color="#94b6ff" d="M3982 4579l62 171 36-186-63-160z"/><path color="#c53334" d="M4281 2217l56 27 23-43-56-26z"/><path color="#c32e31" d="M4440 2185l59 25 22-42-59-24z"/><path color="#bd1f2d" d="M2137 2138l39-6 34-32-39 4z"/><path color="#c83836" d="M3926 2247l50 29 24-42-50-28z"/><path color="#c73635" d="M4203 2233l54 28 24-44-55-26z"/><path color="#c12b30" d="M4521 2168l61 25 22-41-60-23z"/><path color="#c0282f" d="M3346 2160l43 25 26-32-42-24z"/><path color="#cc403a" d="M1872 2311l39-21 37-43-39 19z"/><path color="#ba162b" d="M3086 2105l41 22 27-29-40-20z"/><path color="#c83836" d="M4126 2248l53 29 24-44-53-27z"/><path color="#be242e" d="M4604 2152l63 24 22-40-63-23z"/><path color="#b40426" d="M2578 2047l38 11 31-25-39-11z"/><path color="#c83836" d="M3733 2241l47 29 25-40-47-27z"/><path color="#c73635" d="M3616 2223l45 28 26-38-46-26z"/><path color="#b50927" d="M2832 2064l39 17 29-26-39-16z"/><path color="#b8122a" d="M2249 2098l39 0 33-29-39 0z"/><path color="#d24b40" d="M1794 2386l39-27 39-48-40 24z"/><path color="#d95847" d="M1714 2473l40-34 40-53-40 30z"/><path color="#be242e" d="M3236 2143l42 24 26-31-41-23z"/><path color="#b40426" d="M2469 2055l39 8 31-26-38-8z"/><path color="#bd1f2d" d="M4689 2136l64 23 22-38-64-22z"/><path color="#80a3fa" d="M3752 4791l58 185 39-197-59-173z"/><path color="#ca3b37" d="M4051 2262l51 30 24-44-51-28z"/><path color="#c43032" d="M3501 2204l44 28 26-36-44-26z"/><path color="#ca3b37" d="M3853 2259l48 30 25-42-49-28z"/><path color="#b50927" d="M2360 2072l38 4 33-27-39-5z"/><path color="#b8122a" d="M2978 2092l40 20 28-27-39-19z"/><path color="#bb1b2c" d="M4775 2121l67 23 22-38-67-21z"/><path color="#c32e31" d="M3389 2185l43 27 26-34-43-25z"/><path color="#c0282f" d="M2063 2181l39-9 35-34-39 7z"/><path color="#b40426" d="M2724 2058l39 15 30-25-39-14z"/><path color="#cb3e38" d="M3976 2276l50 31 25-45-51-28z"/><path color="#bb1b2c" d="M3127 2127l40 22 28-29-41-22z"/><path color="#94b6ff" d="M3886 4593l60 172 36-186-60-160z"/><path color="#a9c6fd" d="M4114 4388l64 158 34-176-64-148z"/><path color="#c73635" d="M4337 2244l57 29 23-46-57-26z"/><path color="#ca3b37" d="M4257 2261l56 29 24-46-56-27z"/><path color="#c83836" d="M3661 2251l47 30 25-40-46-28z"/><path color="#c53334" d="M4417 2227l59 28 23-45-59-25z"/><path color="#ca3b37" d="M3780 2270l48 31 25-42-48-29z"/><path color="#c0282f" d="M3278 2167l41 25 27-32-42-24z"/><path color="#b70d28" d="M2871 2081l39 18 29-26-39-18z"/><path color="#cb3e38" d="M4179 2277l55 30 23-46-54-28z"/><path color="#c43032" d="M4499 2210l60 27 23-44-61-25z"/><path color="#c73635" d="M3545 2232l45 29 26-38-45-27z"/><path color="#b40426" d="M2616 2058l39 12 30-25-38-12z"/><path color="#cc403a" d="M3901 2289l50 31 25-44-50-29z"/><path color="#c12b30" d="M4582 2193l62 26 23-43-63-24z"/><path color="#cc403a" d="M4102 2292l54 31 23-46-53-29z"/><path color="#ba162b" d="M2176 2132l39-3 34-31-39 2z"/><path color="#ba162b" d="M3018 2112l40 21 28-28-40-20z"/><path color="#c43032" d="M3432 2212l43 28 26-36-43-26z"/><path color="#c43032" d="M1988 2231l39-13 36-37-39 11z"/><path color="#b40426" d="M2508 2063l38 9 32-25-39-10z"/><path color="#bd1f2d" d="M3167 2149l42 24 27-30-41-23z"/><path color="#c0282f" d="M4667 2176l64 25 22-42-64-23z"/><path color="#a7c5fe" d="M4017 4404l63 160 34-176-62-149z"/><path color="#cc403a" d="M4026 2307l52 32 24-47-51-30z"/><path color="#b70d28" d="M2288 2098l39 2 33-28-39-3z"/><path color="#b40426" d="M2763 2073l39 16 30-25-39-16z"/><path color="#b40426" d="M2398 2076l39 5 32-26-38-6z"/><path color="#cb3e38" d="M3708 2281l46 31 26-42-47-29z"/><path color="#c12b30" d="M3319 2192l43 27 27-34-43-25z"/><path color="#cc403a" d="M3828 2301l48 32 25-44-48-30z"/><path color="#c83836" d="M3590 2261l46 30 25-40-45-28z"/><path color="#bd1f2d" d="M4753 2159l67 25 22-40-67-23z"/><path color="#b70d28" d="M2910 2099l39 19 29-26-39-19z"/><path color="#cd423b" d="M3951 2320l51 33 24-46-50-31z"/><path color="#c83836" d="M1911 2290l40-18 37-41-40 16z"/><path color="#cb3e38" d="M4313 2290l58 31 23-48-57-29z"/><path color="#c53334" d="M3475 2240l44 29 26-37-44-28z"/><path color="#ca3b37" d="M4394 2273l59 30 23-48-59-28z"/><path color="#cc403a" d="M4234 2307l56 32 23-49-56-29z"/><path color="#bb1b2c" d="M3058 2133l41 23 28-29-41-22z"/><path color="#b40426" d="M2655 2070l39 14 30-26-39-13z"/><path color="#94b6ff" d="M3790 4606l59 173 37-186-59-161z"/><path color="#c73635" d="M4476 2255l60 29 23-47-60-27z"/><path color="#cd423b" d="M4156 2323l54 33 24-49-55-30z"/><path color="#be242e" d="M3209 2173l41 26 28-32-42-24z"/><path color="#bd1f2d" d="M2102 2172l39-7 35-33-39 6z"/><path color="#cc403a" d="M3754 2312l48 33 26-44-48-31z"/><path color="#c53334" d="M4559 2237l63 28 22-46-62-26z"/><path color="#c43032" d="M3362 2219l43 28 27-35-43-27z"/><path color="#cf453c" d="M1833 2359l40-24 38-45-39 21z"/><path color="#cf453c" d="M4078 2339l53 33 25-49-54-31z"/><path color="#b50927" d="M2802 2089l39 18 30-26-39-17z"/><path color="#cb3e38" d="M3636 2291l46 32 26-42-47-30z"/><path color="#b40426" d="M2546 2072l39 11 31-25-38-11z"/><path color="#cf453c" d="M3876 2333l50 34 25-47-50-31z"/><path color="#a7c5fe" d="M3922 4419l60 160 35-175-60-150z"/><path color="#bbd1f8" d="M4148 4222l64 148 33-167-65-138z"/><path color="#d55042" d="M1754 2439l40-30 39-50-39 27z"/><path color="#c32e31" d="M4644 2219l65 28 22-46-64-25z"/><path color="#b8122a" d="M2949 2118l40 21 29-27-40-20z"/><path color="#c83836" d="M3519 2269l45 31 26-39-45-29z"/><path color="#b8122a" d="M2215 2129l39-1 34-30-39 0z"/><path color="#b40426" d="M2437 2081l39 8 32-26-39-8z"/><path color="#d0473d" d="M4002 2353l52 35 24-49-52-32z"/><path color="#bd1f2d" d="M3099 2156l40 24 28-31-40-22z"/><path color="#b50927" d="M2327 2100l38 3 33-27-38-4z"/><path color="#c12b30" d="M3250 2199l42 27 27-34-41-25z"/><path color="#b40426" d="M2694 2084l38 15 31-26-39-15z"/><path color="#c12b30" d="M4731 2201l67 27 22-44-67-25z"/><path color="#cf453c" d="M4290 2339l57 33 24-51-58-31z"/><path color="#c53334" d="M3405 2247l43 30 27-37-43-28z"/><path color="#cf453c" d="M3802 2345l49 34 25-46-48-32z"/><path color="#cc403a" d="M4371 2321l58 33 24-51-59-30z"/><path color="#cd423b" d="M3682 2323l47 33 25-44-46-31z"/><path color="#d0473d" d="M4210 2356l56 34 24-51-56-32z"/><path color="#c12b30" d="M2027 2218l39-11 36-35-39 9z"/><path color="#bad0f8" d="M4052 4239l62 149 34-166-63-139z"/><path color="#cb3e38" d="M4453 2303l60 31 23-50-60-29z"/><path color="#d1493f" d="M3926 2367l51 35 25-49-51-33z"/><path color="#b70d28" d="M2841 2107l39 19 30-27-39-18z"/><path color="#d1493f" d="M4131 2372l55 35 24-51-54-33z"/><path color="#cb3e38" d="M3564 2300l45 32 27-41-46-30z"/><path color="#c83836" d="M4536 2284l63 31 23-50-63-28z"/><path color="#ba162b" d="M2989 2139l40 23 29-29-40-21z"/><path color="#b40426" d="M2585 2083l39 12 31-25-39-12z"/><path color="#be242e" d="M3139 2180l41 25 29-32-42-24z"/><path color="#c32e31" d="M3292 2226l42 28 28-35-43-27z"/><path color="#d24b40" d="M4054 2388l53 36 24-52-53-33z"/><path color="#94b6ff" d="M3694 4617l58 174 38-185-58-163z"/><path color="#a7c5fe" d="M3827 4432l59 161 36-174-59-152z"/><path color="#c83836" d="M3448 2277l44 31 27-39-44-29z"/><path color="#c73635" d="M4622 2265l64 30 23-48-65-28z"/><path color="#d1493f" d="M3851 2379l50 36 25-48-50-34z"/><path color="#d0473d" d="M3729 2356l47 35 26-46-48-33z"/><path color="#bb1b2c" d="M2141 2165l39-4 35-32-39 3z"/><path color="#b40426" d="M2476 2089l38 9 32-26-38-9z"/><path color="#c53334" d="M1951 2272l39-15 37-39-39 13z"/><path color="#b50927" d="M2732 2099l39 16 31-26-39-16z"/><path color="#d44e41" d="M3977 2402l52 37 25-51-52-35z"/><path color="#cd423b" d="M3609 2332l46 34 27-43-46-32z"/><path color="#b9d0f9" d="M3957 4254l60 150 35-165-61-140z"/><path color="#cad8ef" d="M4180 4065l65 138 32-157-65-129z"/><path color="#d24b40" d="M4266 2390l57 36 24-54-57-33z"/><path color="#d0473d" d="M4347 2372l59 35 23-53-58-33z"/><path color="#b70d28" d="M2880 2126l40 20 29-28-39-19z"/><path color="#b40426" d="M2365 2103l39 6 33-28-39-5z"/><path color="#b70d28" d="M2254 2128l39 1 34-29-39-2z"/><path color="#c43032" d="M4709 2247l66 28 23-47-67-27z"/><path color="#bb1b2c" d="M3029 2162l41 23 29-29-41-23z"/><path color="#d44e41" d="M4186 2407l55 38 25-55-56-34z"/><path color="#c0282f" d="M3180 2205l42 27 28-33-41-26z"/><path color="#cf453c" d="M4429 2354l61 34 23-54-60-31z"/><path color="#c53334" d="M3334 2254l43 30 28-37-43-28z"/><path color="#cb3e38" d="M3492 2308l45 33 27-41-45-31z"/><path color="#d55042" d="M4107 2424l54 38 25-55-55-35z"/><path color="#cc403a" d="M4513 2334l63 34 23-53-63-31z"/><path color="#d24b40" d="M3776 2391l49 37 26-49-49-34z"/><path color="#d44e41" d="M3901 2415l50 38 26-51-51-35z"/><path color="#b40426" d="M2624 2095l38 14 32-25-39-14z"/><path color="#ca3b37" d="M1873 2335l39-20 39-43-40 18z"/><path color="#c9d7f0" d="M4085 4083l63 139 32-157-63-130z"/><path color="#d0473d" d="M3655 2366l47 36 27-46-47-33z"/><path color="#d65244" d="M4029 2439l53 39 25-54-53-36z"/><path color="#ca3b37" d="M4599 2315l64 32 23-52-64-30z"/><path color="#b50927" d="M2771 2115l40 18 30-26-39-18z"/><path color="#be242e" d="M2066 2207l39-8 36-34-39 7z"/><path color="#c83836" d="M3377 2284l44 31 27-38-43-30z"/><path color="#c32e31" d="M3222 2232l42 28 28-34-42-27z"/><path color="#bd1f2d" d="M3070 2185l41 26 28-31-40-24z"/><path color="#b8122a" d="M2920 2146l40 22 29-29-40-21z"/><path color="#d0473d" d="M1794 2409l39-27 40-47-40 24z"/><path color="#cd423b" d="M3537 2341l45 34 27-43-45-32z"/><path color="#b40426" d="M2514 2098l39 11 32-26-39-11z"/><path color="#d44e41" d="M4323 2426l59 38 24-57-59-35z"/><path color="#d65244" d="M4241 2445l58 39 24-58-57-36z"/><path color="#d55042" d="M3825 2428l50 38 26-51-50-36z"/><path color="#b9d0f9" d="M3863 4267l59 152 35-165-59-141z"/><path color="#d75445" d="M3951 2453l52 40 26-54-52-37z"/><path color="#d24b40" d="M4406 2407l60 37 24-56-61-34z"/><path color="#c83836" d="M4686 2295l67 31 22-51-66-28z"/><path color="#a7c5fe" d="M3732 4443l58 163 37-174-58-153z"/><path color="#d75445" d="M4161 2462l56 40 24-57-55-38z"/><path color="#d24b40" d="M3702 2402l48 37 26-48-47-35z"/><path color="#b40426" d="M2404 2109l38 7 34-27-39-8z"/><path color="#b8122a" d="M2180 2161l39-2 35-31-39 1z"/><path color="#c9d7f0" d="M3991 4099l61 140 33-156-61-131z"/><path color="#d0473d" d="M4490 2388l62 36 24-56-63-34z"/><path color="#d7dce3" d="M4212 3917l65 129 31-149-65-120z"/><path color="#d85646" d="M4082 2478l54 41 25-57-54-38z"/><path color="#b40426" d="M2662 2109l39 16 31-26-38-15z"/><path color="#b50927" d="M2293 2129l38 3 34-29-38-3z"/><path color="#ca3b37" d="M3421 2315l44 33 27-40-44-31z"/><path color="#c43032" d="M3264 2260l42 30 28-36-42-28z"/><path color="#d0473d" d="M3582 2375l47 36 26-45-46-34z"/><path color="#c0282f" d="M3111 2211l41 27 28-33-41-25z"/><path color="#b70d28" d="M2811 2133l39 20 30-27-39-19z"/><path color="#ba162b" d="M2960 2168l40 23 29-29-40-23z"/><path color="#cf453c" d="M4576 2368l64 34 23-55-64-32z"/><path color="#d75445" d="M3875 2466l51 41 25-54-50-38z"/><path color="#c12b30" d="M1990 2257l39-13 37-37-39 11z"/><path color="#d55042" d="M3750 2439l49 40 26-51-49-37z"/><path color="#d95847" d="M4003 2493l53 42 26-57-53-39z"/><path color="#d6dce4" d="M4117 3935l63 130 32-148-63-121z"/><path color="#d85646" d="M4299 2484l58 41 25-61-59-38z"/><path color="#d95847" d="M4217 2502l57 42 25-60-58-39z"/><path color="#d65244" d="M4382 2464l60 40 24-60-60-37z"/><path color="#b40426" d="M2553 2109l38 13 33-27-39-12z"/><path color="#cc403a" d="M3465 2348l45 35 27-42-45-33z"/><path color="#cc403a" d="M4663 2347l67 33 23-54-67-31z"/><path color="#d24b40" d="M3629 2411l47 38 26-47-47-36z"/><path color="#c73635" d="M3306 2290l43 32 28-38-43-30z"/><path color="#da5a49" d="M4136 2519l56 43 25-60-56-40z"/><path color="#d55042" d="M4466 2444l62 39 24-59-62-36z"/><path color="#c12b30" d="M3152 2238l41 28 29-34-42-27z"/><path color="#da5a49" d="M3926 2507l51 43 26-57-52-40z"/><path color="#c9d7f0" d="M3898 4113l59 141 34-155-59-132z"/><path color="#d85646" d="M3799 2479l50 41 26-54-50-38z"/><path color="#b50927" d="M2701 2125l39 17 31-27-39-16z"/><path color="#bd1f2d" d="M3000 2191l40 25 30-31-41-23z"/><path color="#b9d0f9" d="M3769 4279l58 153 36-165-58-142z"/><path color="#dd5f4b" d="M4056 2535l55 44 25-60-54-41z"/><path color="#b8122a" d="M2850 2153l40 21 30-28-40-20z"/><path color="#d6dce4" d="M4024 3952l61 131 32-148-61-122z"/><path color="#b40426" d="M2442 2116l39 9 33-27-38-9z"/><path color="#bb1b2c" d="M2105 2199l39-5 36-33-39 4z"/><path color="#d24b40" d="M4552 2424l64 37 24-59-64-34z"/><path color="#e3d9d3" d="M4243 3777l65 120 30-141-65-111z"/><path color="#d0473d" d="M3510 2383l45 37 27-45-45-34z"/><path color="#d55042" d="M3676 2449l47 41 27-51-48-37z"/><path color="#ca3b37" d="M3349 2322l44 33 28-40-44-31z"/><path color="#b40426" d="M2331 2132l39 4 34-27-39-6z"/><path color="#dd5f4b" d="M4274 2544l59 44 24-63-58-41z"/><path color="#b70d28" d="M2219 2159l39 0 35-30-39-1z"/><path color="#da5a49" d="M4357 2525l61 43 24-64-60-40z"/><path color="#dd5f4b" d="M3977 2550l53 45 26-60-53-42z"/><path color="#de614d" d="M4192 2562l57 46 25-64-57-42z"/><path color="#a9c6fd" d="M3638 4453l56 164 38-174-56-154z"/><path color="#c43032" d="M3193 2266l42 30 29-36-42-28z"/><path color="#da5a49" d="M3849 2520l50 44 27-57-51-41z"/><path color="#e1dad6" d="M4149 3796l63 121 31-140-63-112z"/><path color="#d0473d" d="M4640 2402l66 37 24-59-67-33z"/><path color="#d95847" d="M4442 2504l62 42 24-63-62-39z"/><path color="#b40426" d="M2591 2122l39 14 32-27-38-14z"/><path color="#df634e" d="M4111 2579l55 47 26-64-56-43z"/><path color="#be242e" d="M3040 2216l41 27 30-32-41-26z"/><path color="#d24b40" d="M3555 2420l46 39 28-48-47-36z"/><path color="#d85646" d="M3723 2490l49 42 27-53-49-40z"/><path color="#ba162b" d="M2890 2174l40 23 30-29-40-22z"/><path color="#cc403a" d="M3393 2355l44 36 28-43-44-33z"/><path color="#b50927" d="M2740 2142l40 19 31-28-40-18z"/><path color="#d75445" d="M4528 2483l65 41 23-63-64-37z"/><path color="#d5dbe5" d="M3932 3967l59 132 33-147-59-123z"/><path color="#de614d" d="M3899 2564l52 46 26-60-51-43z"/><path color="#e0654f" d="M4030 2595l55 48 26-64-55-44z"/><path color="#e1dad6" d="M4056 3813l61 122 32-139-61-113z"/><path color="#c73635" d="M3235 2296l43 32 28-38-42-30z"/><path color="#c9d7f0" d="M3805 4125l58 142 35-154-58-133z"/><path color="#e16751" d="M4249 2608l58 48 26-68-59-44z"/><path color="#df634e" d="M4333 2588l60 47 25-67-61-43z"/><path color="#ecd3c5" d="M4273 3645l65 111 30-132-65-104z"/><path color="#be242e" d="M2029 2244l39-9 37-36-39 8z"/><path color="#b40426" d="M2481 2125l39 11 33-27-39-11z"/><path color="#d55042" d="M3601 2459l47 40 28-50-47-38z"/><path color="#dc5d4a" d="M3772 2532l50 44 27-56-50-41z"/><path color="#e26952" d="M4166 2626l57 49 26-67-57-46z"/><path color="#de614d" d="M4418 2568l62 46 24-68-62-42z"/><path color="#d55042" d="M4616 2461l67 40 23-62-66-37z"/><path color="#c0282f" d="M3081 2243l41 28 30-33-41-27z"/><path color="#cf453c" d="M3437 2391l45 37 28-45-45-35z"/><path color="#ebd3c6" d="M4180 3665l63 112 30-132-63-105z"/><path color="#e16751" d="M3951 2610l53 48 26-63-53-45z"/><path color="#e36b54" d="M4085 2643l55 50 26-67-55-47z"/><path color="#bb1b2c" d="M2930 2197l40 25 30-31-40-23z"/><path color="#dc5d4a" d="M4504 2546l64 45 25-67-65-41z"/><path color="#b40426" d="M2630 2136l39 16 32-27-39-16z"/><path color="#bad0f8" d="M3676 4289l56 154 37-164-56-143z"/><path color="#b40426" d="M2370 2136l38 7 34-27-38-7z"/><path color="#c83836" d="M3278 2328l43 34 28-40-43-32z"/><path color="#de614d" d="M3822 2576l51 47 26-59-50-44z"/><path color="#d85646" d="M3648 2499l48 43 27-52-47-41z"/><path color="#b8122a" d="M2144 2194l39-4 36-31-39 2z"/><path color="#b70d28" d="M2780 2161l39 21 31-29-39-20z"/><path color="#b50927" d="M2258 2159l38 2 35-29-38-3z"/><path color="#e0dbd8" d="M3965 3829l59 123 32-139-59-114z"/><path color="#e36c55" d="M4307 2656l61 50 25-71-60-47z"/><path color="#e46e56" d="M4223 2675l59 52 25-71-58-48z"/><path color="#ead4c8" d="M4088 3683l61 113 31-131-61-106z"/><path color="#d24b40" d="M3482 2428l45 39 28-47-45-37z"/><path color="#e36c55" d="M4004 2658l54 52 27-67-55-48z"/><path color="#e26952" d="M4393 2635l62 50 25-71-62-46z"/><path color="#c32e31" d="M3122 2271l42 30 29-35-41-28z"/><path color="#f2cab5" d="M4303 3520l65 104 29-126-65-96z"/><path color="#e67259" d="M4140 2693l57 53 26-71-57-49z"/><path color="#d95847" d="M4593 2524l66 43 24-66-67-40z"/><path color="#d5dbe5" d="M3840 3980l58 133 34-146-58-125z"/><path color="#e26952" d="M3873 2623l51 50 27-63-52-46z"/><path color="#dc5d4a" d="M3696 2542l49 46 27-56-49-42z"/><path color="#c32e31" d="M1951 2297l39-14 39-39-39 13z"/><path color="#f2cbb7" d="M4210 3540l63 105 30-125-63-97z"/><path color="#cc403a" d="M3321 2362l43 35 29-42-44-33z"/><path color="#e0654f" d="M4480 2614l64 48 24-71-64-45z"/><path color="#bd1f2d" d="M2970 2222l40 26 30-32-40-25z"/><path color="#b40426" d="M2520 2136l39 12 32-26-38-13z"/><path color="#d55042" d="M3527 2467l47 41 27-49-46-39z"/><path color="#e7745b" d="M4058 2710l56 54 26-71-55-50z"/><path color="#e8765c" d="M4282 2727l60 54 26-75-61-50z"/><path color="#e46e56" d="M3924 2673l53 52 27-67-53-48z"/><path color="#e9785d" d="M4197 2746l59 56 26-75-59-52z"/><path color="#df634e" d="M3745 2588l50 47 27-59-50-44z"/><path color="#e67259" d="M4368 2706l62 54 25-75-62-50z"/><path color="#f1cdba" d="M4119 3559l61 106 30-125-61-98z"/><path color="#b8122a" d="M2819 2182l40 22 31-30-40-21z"/><path color="#ead5c9" d="M3997 3699l59 114 32-130-60-107z"/><path color="#b50927" d="M2669 2152l39 18 32-28-39-17z"/><path color="#c53334" d="M3164 2301l42 32 29-37-42-30z"/><path color="#c9d7f0" d="M3713 4136l56 143 36-154-56-134z"/><path color="#de614d" d="M4568 2591l67 47 24-71-66-43z"/><path color="#cf453c" d="M3364 2397l44 38 29-44-44-36z"/><path color="#f5c0a7" d="M4332 3402l65 96 28-119-65-89z"/><path color="#e97a5f" d="M4114 2764l57 57 26-75-57-53z"/><path color="#e46e56" d="M4455 2685l64 52 25-75-64-48z"/><path color="#d85646" d="M3574 2508l47 44 27-53-47-40z"/><path color="#f5c1a9" d="M4240 3423l63 97 29-118-64-90z"/><path color="#e7745b" d="M3977 2725l55 55 26-70-54-52z"/><path color="#e0dbd8" d="M3874 3842l58 125 33-138-58-116z"/><path color="#e26952" d="M3795 2635l50 51 28-63-51-47z"/><path color="#b40426" d="M2408 2143l39 9 34-27-39-9z"/><path color="#ec7f63" d="M4256 2802l60 59 26-80-60-54z"/><path color="#bb1b2c" d="M2068 2235l39-7 37-34-39 5z"/><path color="#ea7b60" d="M4342 2781l62 58 26-79-62-54z"/><path color="#c0282f" d="M3010 2248l41 28 30-33-41-27z"/><path color="#c83836" d="M1872 2359l40-19 39-43-39 18z"/><path color="#f5c4ac" d="M4149 3442l61 98 30-117-62-92z"/><path color="#ec8165" d="M4171 2821l58 60 27-79-59-56z"/><path color="#ea7b60" d="M4032 2780l55 58 27-74-56-54z"/><path color="#f0cdbb" d="M4028 3576l60 107 31-124-60-100z"/><path color="#e36b54" d="M4544 2662l66 51 25-75-67-47z"/><path color="#dc5d4a" d="M3621 2552l47 46 28-56-48-43z"/><path color="#c83836" d="M3206 2333l42 34 30-39-43-32z"/><path color="#e9785d" d="M4430 2760l64 57 25-80-64-52z"/><path color="#e46e56" d="M3845 2686l52 53 27-66-51-50z"/><path color="#d1493f" d="M3408 2435l45 39 29-46-45-37z"/><path color="#b40426" d="M2296 2161l39 4 35-29-39-4z"/><path color="#f7b89c" d="M4268 3312l64 90 28-112-63-84z"/><path color="#f7b599" d="M4360 3290l65 89 28-112-65-82z"/><path color="#b70d28" d="M2183 2190l38-1 37-30-39 0z"/><path color="#ba162b" d="M2859 2204l40 24 31-31-40-23z"/><path color="#ee8669" d="M4316 2861l62 63 26-85-62-58z"/><path color="#ed8366" d="M4087 2838l57 62 27-79-57-57z"/><path color="#ef886b" d="M4229 2881l61 64 26-84-60-59z"/><path color="#b40426" d="M2559 2148l38 15 33-27-39-14z"/><path color="#f7b99e" d="M4178 3331l62 92 28-111-61-85z"/><path color="#d5dbe5" d="M3749 3991l56 134 35-145-56-126z"/><path color="#e8765c" d="M3897 2739l53 56 27-70-53-52z"/><path color="#ead5c9" d="M3907 3713l58 116 32-130-58-108z"/><path color="#ed8366" d="M4404 2839l64 62 26-84-64-57z"/><path color="#b50927" d="M2708 2170l40 19 32-28-40-19z"/><path color="#df634e" d="M3668 2598l49 48 28-58-49-46z"/><path color="#f4c5ad" d="M4059 3459l60 100 30-117-60-93z"/><path color="#e7745b" d="M4519 2737l66 55 25-79-66-51z"/><path color="#bbd1f8" d="M3583 4298l55 155 38-164-55-144z"/><path color="#f08b6e" d="M4144 2900l59 65 26-84-58-60z"/><path color="#f7ad90" d="M4297 3206l63 84 28-105-64-78z"/><path color="#f29072" d="M4290 2945l61 68 27-89-62-63z"/><path color="#d55042" d="M3453 2474l46 42 28-49-45-39z"/><path color="#f7aa8c" d="M4388 3185l65 82 28-106-66-76z"/><path color="#eb7d62" d="M3950 2795l54 59 28-74-55-55z"/><path color="#c12b30" d="M3051 2276l41 30 30-35-41-28z"/><path color="#f7af91" d="M4207 3227l61 85 29-106-62-78z"/><path color="#f29274" d="M4203 2965l60 69 27-89-61-64z"/><path color="#f18d6f" d="M4378 2924l64 66 26-89-64-62z"/><path color="#cb3e38" d="M3248 2367l44 36 29-41-43-34z"/><path color="#f6a385" d="M4324 3107l64 78 27-100-64-72z"/><path color="#f49a7b" d="M4263 3034l61 73 27-94-61-68z"/><path color="#f6a586" d="M4235 3128l62 78 27-99-61-73z"/><path color="#f4987a" d="M4351 3013l64 72 27-95-64-66z"/><path color="#e26952" d="M3717 2646l50 51 28-62-50-47z"/><path color="#ee8468" d="M4004 2854l56 63 27-79-55-58z"/><path color="#ec7f63" d="M4494 2817l66 60 25-85-66-55z"/><path color="#f7ba9f" d="M4089 3349l60 93 29-111-60-86z"/><path color="#f59d7e" d="M4175 3053l60 75 28-94-60-69z"/><path color="#f5a081" d="M4415 3085l66 76 26-100-65-71z"/><path color="#f18d6f" d="M4060 2917l57 66 27-83-57-62z"/><path color="#f0cdbb" d="M3939 3591l58 108 31-123-58-101z"/><path color="#f39475" d="M4117 2983l58 70 28-88-59-65z"/><path color="#f7b194" d="M4118 3245l60 86 29-104-60-80z"/><path color="#f08a6c" d="M4468 2901l66 65 26-89-66-60z"/><path color="#f7a688" d="M4147 3147l60 80 28-99-60-75z"/><path color="#f39577" d="M4442 2990l65 71 27-95-66-65z"/><path color="#d85646" d="M3499 2516l46 44 29-52-47-41z"/><path color="#e57058" d="M3767 2697l51 54 27-65-50-51z"/><path color="#b40426" d="M2447 2152l39 11 34-27-39-11z"/><path color="#bb1b2c" d="M2899 2228l40 26 31-32-40-25z"/><path color="#e0dbd8" d="M3784 3854l56 126 34-138-57-117z"/><path color="#c0282f" d="M1990 2283l39-11 39-37-39 9z"/><path color="#cd423b" d="M3292 2403l43 38 29-44-43-35z"/><path color="#f59f80" d="M4089 3071l58 76 28-94-58-70z"/><path color="#f4c5ad" d="M3970 3475l58 101 31-117-58-94z"/><path color="#e8765c" d="M3818 2751l51 57 28-69-52-53z"/><path color="#c43032" d="M3092 2306l42 32 30-37-42-30z"/><path color="#dc5d4a" d="M3545 2560l47 47 29-55-47-44z"/><path color="#ec7f63" d="M3869 2808l53 61 28-74-53-56z"/><path color="#f39577" d="M4032 3000l57 71 28-88-57-66z"/><path color="#b70d28" d="M2748 2189l39 22 32-29-39-21z"/><path color="#f7a889" d="M4060 3164l58 81 29-98-58-76z"/><path color="#c9d7f0" d="M3621 4145l55 144 37-153-55-136z"/><path color="#b40426" d="M2597 2163l39 17 33-28-39-16z"/><path color="#f7bca1" d="M4001 3365l58 94 30-110-58-87z"/><path color="#ee8669" d="M3922 2869l54 63 28-78-54-59z"/><path color="#f18d6f" d="M3976 2932l56 68 28-83-56-63z"/><path color="#f7b396" d="M4031 3262l58 87 29-104-58-81z"/><path color="#b40426" d="M2335 2165l38 7 35-29-38-7z"/><path color="#e9d5cb" d="M3817 3725l57 117 33-129-57-109z"/><path color="#df634e" d="M3592 2607l48 49 28-58-47-46z"/><path color="#d1493f" d="M3335 2441l44 40 29-46-44-38z"/><path color="#ba162b" d="M2107 2228l38-5 38-33-39 4z"/><path color="#f5a081" d="M4003 3087l57 77 29-93-57-71z"/><path color="#be242e" d="M2939 2254l40 27 31-33-40-26z"/><path color="#b50927" d="M2221 2189l39 2 36-30-38-2z"/><path color="#c73635" d="M3134 2338l42 34 30-39-42-32z"/><path color="#e26952" d="M3640 2656l49 52 28-62-49-48z"/><path color="#f0cdbb" d="M3850 3604l57 109 32-122-57-102z"/><path color="#f39778" d="M3948 3015l55 72 29-87-56-68z"/><path color="#f7a98b" d="M3974 3180l57 82 29-98-57-77z"/><path color="#d44e41" d="M3379 2481l45 42 29-49-45-39z"/><path color="#e57058" d="M3689 2708l49 55 29-66-50-51z"/><path color="#d6dce4" d="M3658 4000l55 136 36-145-55-127z"/><path color="#f4c6af" d="M3882 3489l57 102 31-116-56-95z"/><path color="#f18f71" d="M3894 2946l54 69 28-83-54-63z"/><path color="#f7b396" d="M3944 3277l57 88 30-103-57-82z"/><path color="#e9785d" d="M3738 2763l51 58 29-70-51-54z"/><path color="#b8122a" d="M2787 2211l40 23 32-30-40-22z"/><path color="#c43032" d="M1912 2340l39-17 39-40-39 14z"/><path color="#f6bda2" d="M3914 3380l56 95 31-110-57-88z"/><path color="#b40426" d="M2486 2163l39 13 34-28-39-12z"/><path color="#ee8669" d="M3841 2882l53 64 28-77-53-61z"/><path color="#ec7f63" d="M3789 2821l52 61 28-74-51-57z"/><path color="#ca3b37" d="M3176 2372l43 36 29-41-42-34z"/><path color="#b50927" d="M2636 2180l40 18 32-28-39-18z"/><path color="#d75445" d="M3424 2523l46 44 29-51-46-42z"/><path color="#f5a081" d="M3919 3102l55 78 29-93-55-72z"/><path color="#c0282f" d="M2979 2281l41 30 31-35-41-28z"/><path color="#e0dbd8" d="M3694 3864l55 127 35-137-55-118z"/><path color="#da5a49" d="M3470 2567l46 48 29-55-46-44z"/><path color="#f4987a" d="M3865 3028l54 74 29-87-54-69z"/><path color="#f7aa8c" d="M3889 3194l55 83 30-97-55-78z"/><path color="#cc403a" d="M3219 2408l43 38 30-43-44-36z"/><path color="#b40426" d="M2373 2172l39 9 35-29-39-9z"/><path color="#de614d" d="M3516 2615l47 49 29-57-47-47z"/><path color="#ead5c9" d="M3729 3736l55 118 33-129-55-110z"/><path color="#bb1b2c" d="M2827 2234l40 25 32-31-40-24z"/><path color="#f18f71" d="M3812 2959l53 69 29-82-53-64z"/><path color="#f7b497" d="M3858 3290l56 90 30-103-55-83z"/><path color="#bd1f2d" d="M2029 2272l39-9 39-35-39 7z"/><path color="#c32e31" d="M3020 2311l41 32 31-37-41-30z"/><path color="#e26952" d="M3563 2664l48 53 29-61-48-49z"/><path color="#f0cdbb" d="M3762 3615l55 110 33-121-55-103z"/><path color="#ef886b" d="M3760 2893l52 66 29-77-52-61z"/><path color="#f6bda2" d="M3827 3393l55 96 32-109-56-90z"/><path color="#e57058" d="M3611 2717l49 56 29-65-49-52z"/><path color="#d0473d" d="M3262 2446l43 40 30-45-43-38z"/><path color="#f4c6af" d="M3795 3501l55 103 32-115-55-96z"/><path color="#ec7f63" d="M3709 2831l51 62 29-72-51-58z"/><path color="#b50927" d="M2260 2191l39 4 36-30-39-4z"/><path color="#e9785d" d="M3660 2773l49 58 29-68-49-55z"/><path color="#b70d28" d="M2676 2198l39 20 33-29-40-19z"/><path color="#b40426" d="M2525 2176l39 15 33-28-38-15z"/><path color="#f6a283" d="M3835 3115l54 79 30-92-54-74z"/><path color="#b8122a" d="M2145 2223l39-2 37-32-38 1z"/><path color="#cad8ef" d="M3529 4152l54 146 38-153-54-137z"/><path color="#d44e41" d="M3305 2486l45 43 29-48-44-40z"/><path color="#c53334" d="M3061 2343l42 33 31-38-42-32z"/><path color="#bd1f2d" d="M2867 2259l40 27 32-32-40-26z"/><path color="#f4987a" d="M3782 3040l53 75 30-87-53-69z"/><path color="#f7aa8c" d="M3804 3206l54 84 31-96-54-79z"/><path color="#d75445" d="M3350 2529l44 45 30-51-45-42z"/><path color="#d6dce4" d="M3567 4008l54 137 37-145-54-127z"/><path color="#f29072" d="M3730 2970l52 70 30-81-52-66z"/><path color="#b40426" d="M2412 2181l39 10 35-28-39-11z"/><path color="#c83836" d="M3103 2376l42 36 31-40-42-34z"/><path color="#b8122a" d="M2715 2218l39 23 33-30-39-22z"/><path color="#f7b497" d="M3773 3302l54 91 31-103-54-84z"/><path color="#da5a49" d="M3394 2574l46 47 30-54-46-44z"/><path color="#ef886b" d="M3680 2903l50 67 30-77-51-62z"/><path color="#b40426" d="M2564 2191l39 17 33-28-39-17z"/><path color="#e1dad6" d="M3604 3873l54 127 36-136-54-119z"/><path color="#c0282f" d="M2907 2286l41 30 31-35-40-27z"/><path color="#de614d" d="M3440 2621l46 51 30-57-46-48z"/><path color="#f6a283" d="M3752 3126l52 80 31-91-53-75z"/><path color="#f6bda2" d="M3741 3404l54 97 32-108-54-91z"/><path color="#ec7f63" d="M3630 2841l50 62 29-72-49-58z"/><path color="#e26952" d="M3486 2672l47 53 30-61-47-49z"/><path color="#e8765c" d="M3581 2781l49 60 30-68-49-56z"/><path color="#ead5c9" d="M3640 3745l54 119 35-128-54-111z"/><path color="#e46e56" d="M3533 2725l48 56 30-64-48-53z"/><path color="#cc403a" d="M3145 2412l43 38 31-42-43-36z"/><path color="#f4c6af" d="M3708 3511l54 104 33-114-54-97z"/><path color="#f0cdbb" d="M3675 3625l54 111 33-121-54-104z"/><path color="#b40426" d="M2299 2195l38 6 36-29-38-7z"/><path color="#ba162b" d="M2068 2263l39-6 38-34-38 5z"/><path color="#f4987a" d="M3700 3051l52 75 30-86-52-70z"/><path color="#ba162b" d="M2754 2241l40 24 33-31-40-23z"/><path color="#b50927" d="M2184 2221l39 1 37-31-39-2z"/><path color="#f7aa8c" d="M3720 3217l53 85 31-96-52-80z"/><path color="#c12b30" d="M2948 2316l41 31 31-36-41-30z"/><path color="#cf453c" d="M3188 2450l43 41 31-45-43-38z"/><path color="#b40426" d="M2451 2191l39 14 35-29-39-13z"/><path color="#b50927" d="M2603 2208l39 19 34-29-40-18z"/><path color="#f18f71" d="M3649 2979l51 72 30-81-50-67z"/><path color="#d24b40" d="M3231 2491l44 42 30-47-43-40z"/><path color="#f7b497" d="M3688 3312l53 92 32-102-53-85z"/><path color="#c43032" d="M2989 2347l41 33 31-37-41-32z"/><path color="#d65244" d="M3275 2533l44 46 31-50-45-43z"/><path color="#ee8669" d="M3600 2912l49 67 31-76-50-62z"/><path color="#f6a283" d="M3669 3136l51 81 32-91-52-75z"/><path color="#bb1b2c" d="M2794 2265l40 27 33-33-40-25z"/><path color="#d95847" d="M3319 2579l45 48 30-53-44-45z"/><path color="#f6bda2" d="M3656 3413l52 98 33-107-53-92z"/><path color="#ec7f63" d="M3551 2848l49 64 30-71-49-60z"/><path color="#dd5f4b" d="M3364 2627l45 51 31-57-46-47z"/><path color="#b40426" d="M2337 2201l39 9 36-29-39-9z"/><path color="#e8765c" d="M3503 2788l48 60 30-67-48-56z"/><path color="#c73635" d="M3030 2380l42 36 31-40-42-33z"/><path color="#e16751" d="M3409 2678l47 53 30-59-46-51z"/><path color="#e46e56" d="M3456 2731l47 57 30-63-47-53z"/><path color="#d7dce3" d="M3477 4015l52 137 38-144-52-128z"/><path color="#f4c5ad" d="M3622 3520l53 105 33-114-52-98z"/><path color="#b70d28" d="M2642 2227l39 21 34-30-39-20z"/><path color="#f4987a" d="M3618 3060l51 76 31-85-51-72z"/><path color="#bd1f2d" d="M1989 2310l39-10 40-37-39 9z"/><path color="#b40426" d="M2490 2205l39 15 35-29-39-15z"/><path color="#f0cdbb" d="M3587 3633l53 112 35-120-53-105z"/><path color="#e1dad6" d="M3515 3880l52 128 37-135-53-120z"/><path color="#f7aa8c" d="M3637 3226l51 86 32-95-51-81z"/><path color="#be242e" d="M2834 2292l40 28 33-34-40-27z"/><path color="#ead4c8" d="M3551 3753l53 120 36-128-53-112z"/><path color="#b50927" d="M2223 2222l39 3 37-30-39-4z"/><path color="#cb3e38" d="M3072 2416l42 38 31-42-42-36z"/><path color="#b8122a" d="M2107 2257l39-3 38-33-39 2z"/><path color="#f18f71" d="M3568 2987l50 73 31-81-49-67z"/><path color="#cd423b" d="M3114 2454l42 40 32-44-43-38z"/><path color="#f7b396" d="M3604 3320l52 93 32-101-51-86z"/><path color="#c0282f" d="M2874 2320l41 31 33-35-41-30z"/><path color="#b8122a" d="M2681 2248l40 24 33-31-39-23z"/><path color="#ee8669" d="M3520 2919l48 68 32-75-49-64z"/><path color="#f5a081" d="M3586 3144l51 82 32-90-51-76z"/><path color="#d1493f" d="M3156 2494l44 43 31-46-43-41z"/><path color="#b40426" d="M2376 2210l39 11 36-30-39-10z"/><path color="#b40426" d="M2529 2220l39 18 35-30-39-17z"/><path color="#eb7d62" d="M3472 2855l48 64 31-71-48-60z"/><path color="#d55042" d="M3200 2537l43 46 32-50-44-42z"/><path color="#f7bca1" d="M3570 3421l52 99 34-107-52-93z"/><path color="#c32e31" d="M2915 2351l41 33 33-37-41-31z"/><path color="#d85646" d="M3243 2583l45 48 31-52-44-46z"/><path color="#e7745b" d="M3425 2794l47 61 31-67-47-57z"/><path color="#dd5f4b" d="M3288 2631l45 52 31-56-45-48z"/><path color="#e36c55" d="M3378 2737l47 57 31-63-47-53z"/><path color="#e0654f" d="M3333 2683l45 54 31-59-45-51z"/><path color="#ba162b" d="M2721 2272l40 25 33-32-40-24z"/><path color="#f39778" d="M3536 3067l50 77 32-84-50-73z"/><path color="#b40426" d="M2262 2225l38 6 37-30-38-6z"/><path color="#f4c5ad" d="M3535 3527l52 106 35-113-52-99z"/><path color="#f7a98b" d="M3553 3233l51 87 33-94-51-82z"/><path color="#c53334" d="M2956 2384l41 36 33-40-41-33z"/><path color="#bb1b2c" d="M2028 2300l39-7 40-36-39 6z"/><path color="#b70d28" d="M2146 2254l38 0 39-32-39-1z"/><path color="#f1cdba" d="M3500 3639l51 114 36-120-52-106z"/><path color="#b50927" d="M2568 2238l39 19 35-30-39-19z"/><path color="#f18d6f" d="M3488 2994l48 73 32-80-48-68z"/><path color="#b40426" d="M2415 2221l39 13 36-29-39-14z"/><path color="#bd1f2d" d="M2761 2297l40 28 33-33-40-27z"/><path color="#ca3b37" d="M2997 2420l42 37 33-41-42-36z"/><path color="#ebd3c6" d="M3463 3758l52 122 36-127-51-114z"/><path color="#e3d9d3" d="M3425 3885l52 130 38-135-52-122z"/><path color="#f7b396" d="M3519 3327l51 94 34-101-51-87z"/><path color="#ee8468" d="M3440 2925l48 69 32-75-48-64z"/><path color="#f5a081" d="M3503 3151l50 82 33-89-50-77z"/><path color="#cc403a" d="M3039 2457l42 41 33-44-42-38z"/><path color="#be242e" d="M2801 2325l40 30 33-35-40-28z"/><path color="#ea7b60" d="M3392 2860l48 65 32-70-47-61z"/><path color="#d0473d" d="M3081 2498l43 43 32-47-42-40z"/><path color="#b70d28" d="M2607 2257l39 23 35-32-39-21z"/><path color="#b40426" d="M2300 2231l39 9 37-30-39-9z"/><path color="#f7ba9f" d="M3485 3427l50 100 35-106-51-94z"/><path color="#d44e41" d="M3124 2541l43 45 33-49-44-43z"/><path color="#e7745b" d="M3346 2799l46 61 33-66-47-57z"/><path color="#b40426" d="M2454 2234l39 16 36-30-39-15z"/><path color="#f39577" d="M3455 3073l48 78 33-84-48-73z"/><path color="#d75445" d="M3167 2586l44 49 32-52-43-46z"/><path color="#e36b54" d="M3300 2741l46 58 32-62-45-54z"/><path color="#da5a49" d="M3211 2635l44 51 33-55-45-48z"/><path color="#df634e" d="M3255 2686l45 55 33-58-45-52z"/><path color="#c12b30" d="M2841 2355l41 33 33-37-41-31z"/><path color="#b50927" d="M2184 2254l39 3 39-32-39-3z"/><path color="#f7a889" d="M3470 3239l49 88 34-94-50-82z"/><path color="#b8122a" d="M2067 2293l39-4 40-35-39 3z"/><path color="#f5c4ac" d="M3449 3532l51 107 35-112-50-100z"/><path color="#b8122a" d="M2646 2280l40 24 35-32-40-24z"/><path color="#f18d6f" d="M3407 2999l48 74 33-79-48-69z"/><path color="#c43032" d="M2882 2388l41 35 33-39-41-33z"/><path color="#b40426" d="M2339 2240l39 11 37-30-39-11z"/><path color="#b50927" d="M2493 2250l39 18 36-30-39-18z"/><path color="#f2cbb7" d="M3412 3644l51 114 37-119-51-107z"/><path color="#c73635" d="M2923 2423l41 37 33-40-41-36z"/><path color="#f7b194" d="M3435 3332l50 95 34-100-49-88z"/><path color="#ed8366" d="M3360 2930l47 69 33-74-48-65z"/><path color="#f59f80" d="M3421 3156l49 83 33-88-48-78z"/><path color="#bb1b2c" d="M2686 2304l40 27 35-34-40-25z"/><path color="#ecd3c5" d="M3374 3762l51 123 38-127-51-114z"/><path color="#cb3e38" d="M2964 2460l42 41 33-44-42-37z"/><path color="#e97a5f" d="M3313 2864l47 66 32-70-46-61z"/><path color="#b40426" d="M2223 2257l39 6 38-32-38-6z"/><path color="#cf453c" d="M3006 2501l42 42 33-45-42-41z"/><path color="#e67259" d="M3267 2802l46 62 33-65-46-58z"/><path color="#bd1f2d" d="M2726 2331l40 29 35-35-40-28z"/><path color="#b50927" d="M2532 2268l39 21 36-32-39-19z"/><path color="#f7b99e" d="M3399 3431l50 101 36-105-50-95z"/><path color="#f39475" d="M3373 3077l48 79 34-83-48-74z"/><path color="#d24b40" d="M3048 2543l43 46 33-48-43-43z"/><path color="#e26952" d="M3222 2744l45 58 33-61-45-55z"/><path color="#b70d28" d="M2106 2289l39-1 39-34-38 0z"/><path color="#b40426" d="M2378 2251l39 13 37-30-39-13z"/><path color="#d65244" d="M3091 2589l43 49 33-52-43-45z"/><path color="#de614d" d="M3178 2689l44 55 33-58-44-51z"/><path color="#d95847" d="M3134 2638l44 51 33-54-44-49z"/><path color="#f7a688" d="M3386 3243l49 89 35-93-49-83z"/><path color="#c0282f" d="M2766 2360l40 32 35-37-40-30z"/><path color="#f08b6e" d="M3326 3003l47 74 34-78-47-69z"/><path color="#f5c1a9" d="M3362 3536l50 108 37-112-50-101z"/><path color="#b70d28" d="M2571 2289l40 23 35-32-39-23z"/><path color="#c32e31" d="M2806 2392l41 34 35-38-41-33z"/><path color="#b40426" d="M2262 2263l39 8 38-31-39-9z"/><path color="#b40426" d="M2417 2264l39 17 37-31-39-16z"/><path color="#ec8165" d="M3279 2933l47 70 34-73-47-66z"/><path color="#f59d7e" d="M3338 3159l48 84 35-87-48-79z"/><path color="#f7af91" d="M3350 3336l49 95 36-99-49-89z"/><path color="#f2cab5" d="M3324 3647l50 115 38-118-50-108z"/><path color="#c53334" d="M2847 2426l41 37 35-40-41-35z"/><path color="#b8122a" d="M2611 2312l39 25 36-33-40-24z"/><path color="#b50927" d="M2145 2288l38 2 40-33-39-3z"/><path color="#e9785d" d="M3233 2867l46 66 34-69-46-62z"/><path color="#ca3b37" d="M2888 2463l42 40 34-43-41-37z"/><path color="#e46e56" d="M3188 2805l45 62 34-65-45-58z"/><path color="#cc403a" d="M2930 2503l42 43 34-45-42-41z"/><path color="#f29274" d="M3291 3080l47 79 35-82-47-74z"/><path color="#b50927" d="M2456 2281l39 18 37-31-39-18z"/><path color="#bb1b2c" d="M2650 2337l40 28 36-34-40-27z"/><path color="#e16751" d="M3144 2746l44 59 34-61-44-55z"/><path color="#d0473d" d="M2972 2546l42 45 34-48-42-42z"/><path color="#b40426" d="M2301 2271l38 11 39-31-39-11z"/><path color="#f7b89c" d="M3313 3434l49 102 37-105-49-95z"/><path color="#dd5f4b" d="M3100 2691l44 55 34-57-44-51z"/><path color="#d44e41" d="M3014 2591l43 49 34-51-43-46z"/><path color="#d85646" d="M3057 2640l43 51 34-53-43-49z"/><path color="#f6a586" d="M3302 3246l48 90 36-93-48-84z"/><path color="#be242e" d="M2690 2365l40 31 36-36-40-29z"/><path color="#ef886b" d="M3244 3005l47 75 35-77-47-70z"/><path color="#b50927" d="M2495 2299l39 22 37-32-39-21z"/><path color="#b40426" d="M2183 2290l39 5 40-32-39-6z"/><path color="#f5c0a7" d="M3275 3538l49 109 38-111-49-102z"/><path color="#c12b30" d="M2730 2396l41 34 35-38-40-32z"/><path color="#b40426" d="M2339 2282l39 14 39-32-39-13z"/><path color="#ec7f63" d="M3199 2935l45 70 35-72-46-66z"/><path color="#f49a7b" d="M3255 3162l47 84 36-87-47-79z"/><path color="#f7ad90" d="M3265 3338l48 96 37-98-48-90z"/><path color="#c43032" d="M2771 2430l41 36 35-40-41-34z"/><path color="#b8122a" d="M2534 2321l40 24 37-33-40-23z"/><path color="#e8765c" d="M3153 2869l46 66 34-68-45-62z"/><path color="#c73635" d="M2812 2466l41 39 35-42-41-37z"/><path color="#e36c55" d="M3109 2806l44 63 35-64-44-59z"/><path color="#f29072" d="M3208 3082l47 80 36-82-47-75z"/><path color="#b40426" d="M2222 2295l39 8 40-32-39-8z"/><path color="#cb3e38" d="M2853 2505l41 42 36-44-42-40z"/><path color="#b40426" d="M2378 2296l39 16 39-31-39-17z"/><path color="#df634e" d="M3065 2748l44 58 35-60-44-55z"/><path color="#ba162b" d="M2574 2345l40 27 36-35-39-25z"/><path color="#cf453c" d="M2894 2547l42 46 36-47-42-43z"/><path color="#da5a49" d="M3022 2693l43 55 35-57-43-51z"/><path color="#d24b40" d="M2936 2593l43 48 35-50-42-45z"/><path color="#d65244" d="M2979 2641l43 52 35-53-43-49z"/><path color="#f7b599" d="M3227 3436l48 102 38-104-48-96z"/><path color="#f6a385" d="M3218 3248l47 90 37-92-47-84z"/><path color="#ee8669" d="M3163 3007l45 75 36-77-45-70z"/><path color="#bb1b2c" d="M2614 2372l40 29 36-36-40-28z"/><path color="#b50927" d="M2417 2312l40 20 38-33-39-18z"/><path color="#b40426" d="M2261 2303l39 11 39-32-38-11z"/><path color="#be242e" d="M2654 2401l40 33 36-38-40-31z"/><path color="#ea7b60" d="M3117 2936l46 71 36-72-46-66z"/><path color="#f4987a" d="M3171 3163l47 85 37-86-47-80z"/><path color="#c12b30" d="M2694 2434l40 35 37-39-41-34z"/><path color="#f7aa8c" d="M3180 3339l47 97 38-98-47-90z"/><path color="#b70d28" d="M2457 2332l39 22 38-33-39-22z"/><path color="#e67259" d="M3073 2870l44 66 36-67-44-63z"/><path color="#c53334" d="M2734 2469l41 39 37-42-41-36z"/><path color="#e26952" d="M3029 2807l44 63 36-64-44-58z"/><path color="#b40426" d="M2300 2314l39 14 39-32-39-14z"/><path color="#f18d6f" d="M3125 3082l46 81 37-81-45-75z"/><path color="#c83836" d="M2775 2508l41 41 37-44-41-39z"/><path color="#de614d" d="M2985 2748l44 59 36-59-43-55z"/><path color="#b8122a" d="M2496 2354l40 25 38-34-40-24z"/><path color="#cc403a" d="M2816 2549l42 45 36-47-41-42z"/><path color="#d95847" d="M2942 2693l43 55 37-55-43-52z"/><path color="#d0473d" d="M2858 2594l42 48 36-49-42-46z"/><path color="#d55042" d="M2900 2642l42 51 37-52-43-48z"/><path color="#f5a081" d="M3133 3248l47 91 38-91-47-85z"/><path color="#ed8366" d="M3080 3007l45 75 38-75-46-71z"/><path color="#ba162b" d="M2536 2379l39 29 39-36-40-27z"/><path color="#b40426" d="M2339 2328l39 17 39-33-39-16z"/><path color="#bd1f2d" d="M2575 2408l41 31 38-38-40-29z"/><path color="#e9785d" d="M3036 2936l44 71 37-71-44-66z"/><path color="#f39577" d="M3087 3162l46 86 38-85-46-81z"/><path color="#b50927" d="M2378 2345l39 20 40-33-40-20z"/><path color="#c0282f" d="M2616 2439l40 34 38-39-40-33z"/><path color="#e46e56" d="M2991 2869l45 67 37-66-44-63z"/><path color="#c32e31" d="M2656 2473l40 37 38-41-40-35z"/><path color="#e0654f" d="M2948 2807l43 62 38-62-44-59z"/><path color="#c73635" d="M2696 2510l41 41 38-43-41-39z"/><path color="#b70d28" d="M2417 2365l40 24 39-35-39-22z"/><path color="#f08a6c" d="M3042 3082l45 80 38-80-45-75z"/><path color="#dc5d4a" d="M2905 2748l43 59 37-59-43-55z"/><path color="#ca3b37" d="M2737 2551l42 44 37-46-41-41z"/><path color="#d75445" d="M2862 2694l43 54 37-55-42-51z"/><path color="#cf453c" d="M2779 2595l41 48 38-49-42-45z"/><path color="#d24b40" d="M2820 2643l42 51 38-52-42-48z"/><path color="#b8122a" d="M2457 2389l39 26 40-36-40-25z"/><path color="#ec7f63" d="M2997 3006l45 76 38-75-44-71z"/><path color="#bb1b2c" d="M2496 2415l40 30 39-37-39-29z"/><path color="#e7745b" d="M2953 2935l44 71 39-70-45-67z"/><path color="#bd1f2d" d="M2536 2445l40 33 40-39-41-31z"/><path color="#e36b54" d="M2909 2868l44 67 38-66-43-62z"/><path color="#c12b30" d="M2576 2478l41 36 39-41-40-34z"/><path color="#de614d" d="M2866 2806l43 62 39-61-43-59z"/><path color="#c43032" d="M2617 2514l40 39 39-43-40-37z"/><path color="#d95847" d="M2824 2748l42 58 39-58-43-54z"/><path color="#c83836" d="M2657 2553l41 44 39-46-41-41z"/><path color="#d55042" d="M2781 2694l43 54 38-54-42-51z"/><path color="#cc403a" d="M2698 2597l42 46 39-48-42-44z"/><path color="#d0473d" d="M2740 2643l41 51 39-51-41-48z"/></g></g></g>
<g id="text_29">
<g transform="translate(293.86 38.42)">
<text><tspan x="0" y="-0.06" style="font-size: 12px; font-family: 'DejaVu Sans', sans-serif">MSE[</tspan><tspan x="30.23" y="-0.06" style="font-style: oblique; font-size: 12px; font-family: 'DejaVu Sans', sans-serif">z</tspan><tspan x="36.68" y="-1.41" style="font-size: 12px; font-family: 'DejaVu Sans', sans-serif">̂</tspan><tspan x="38.28" y="-4.66" style="font-size: 8.4px; font-family: 'DejaVu Sans', sans-serif">*</tspan><tspan x="44.45" y="-0.06" style="font-size: 12px; font-family: 'DejaVu Sans', sans-serif">]</tspan></text>
</g>
</g>
</g>
</g>

</svg>
</body></html>
